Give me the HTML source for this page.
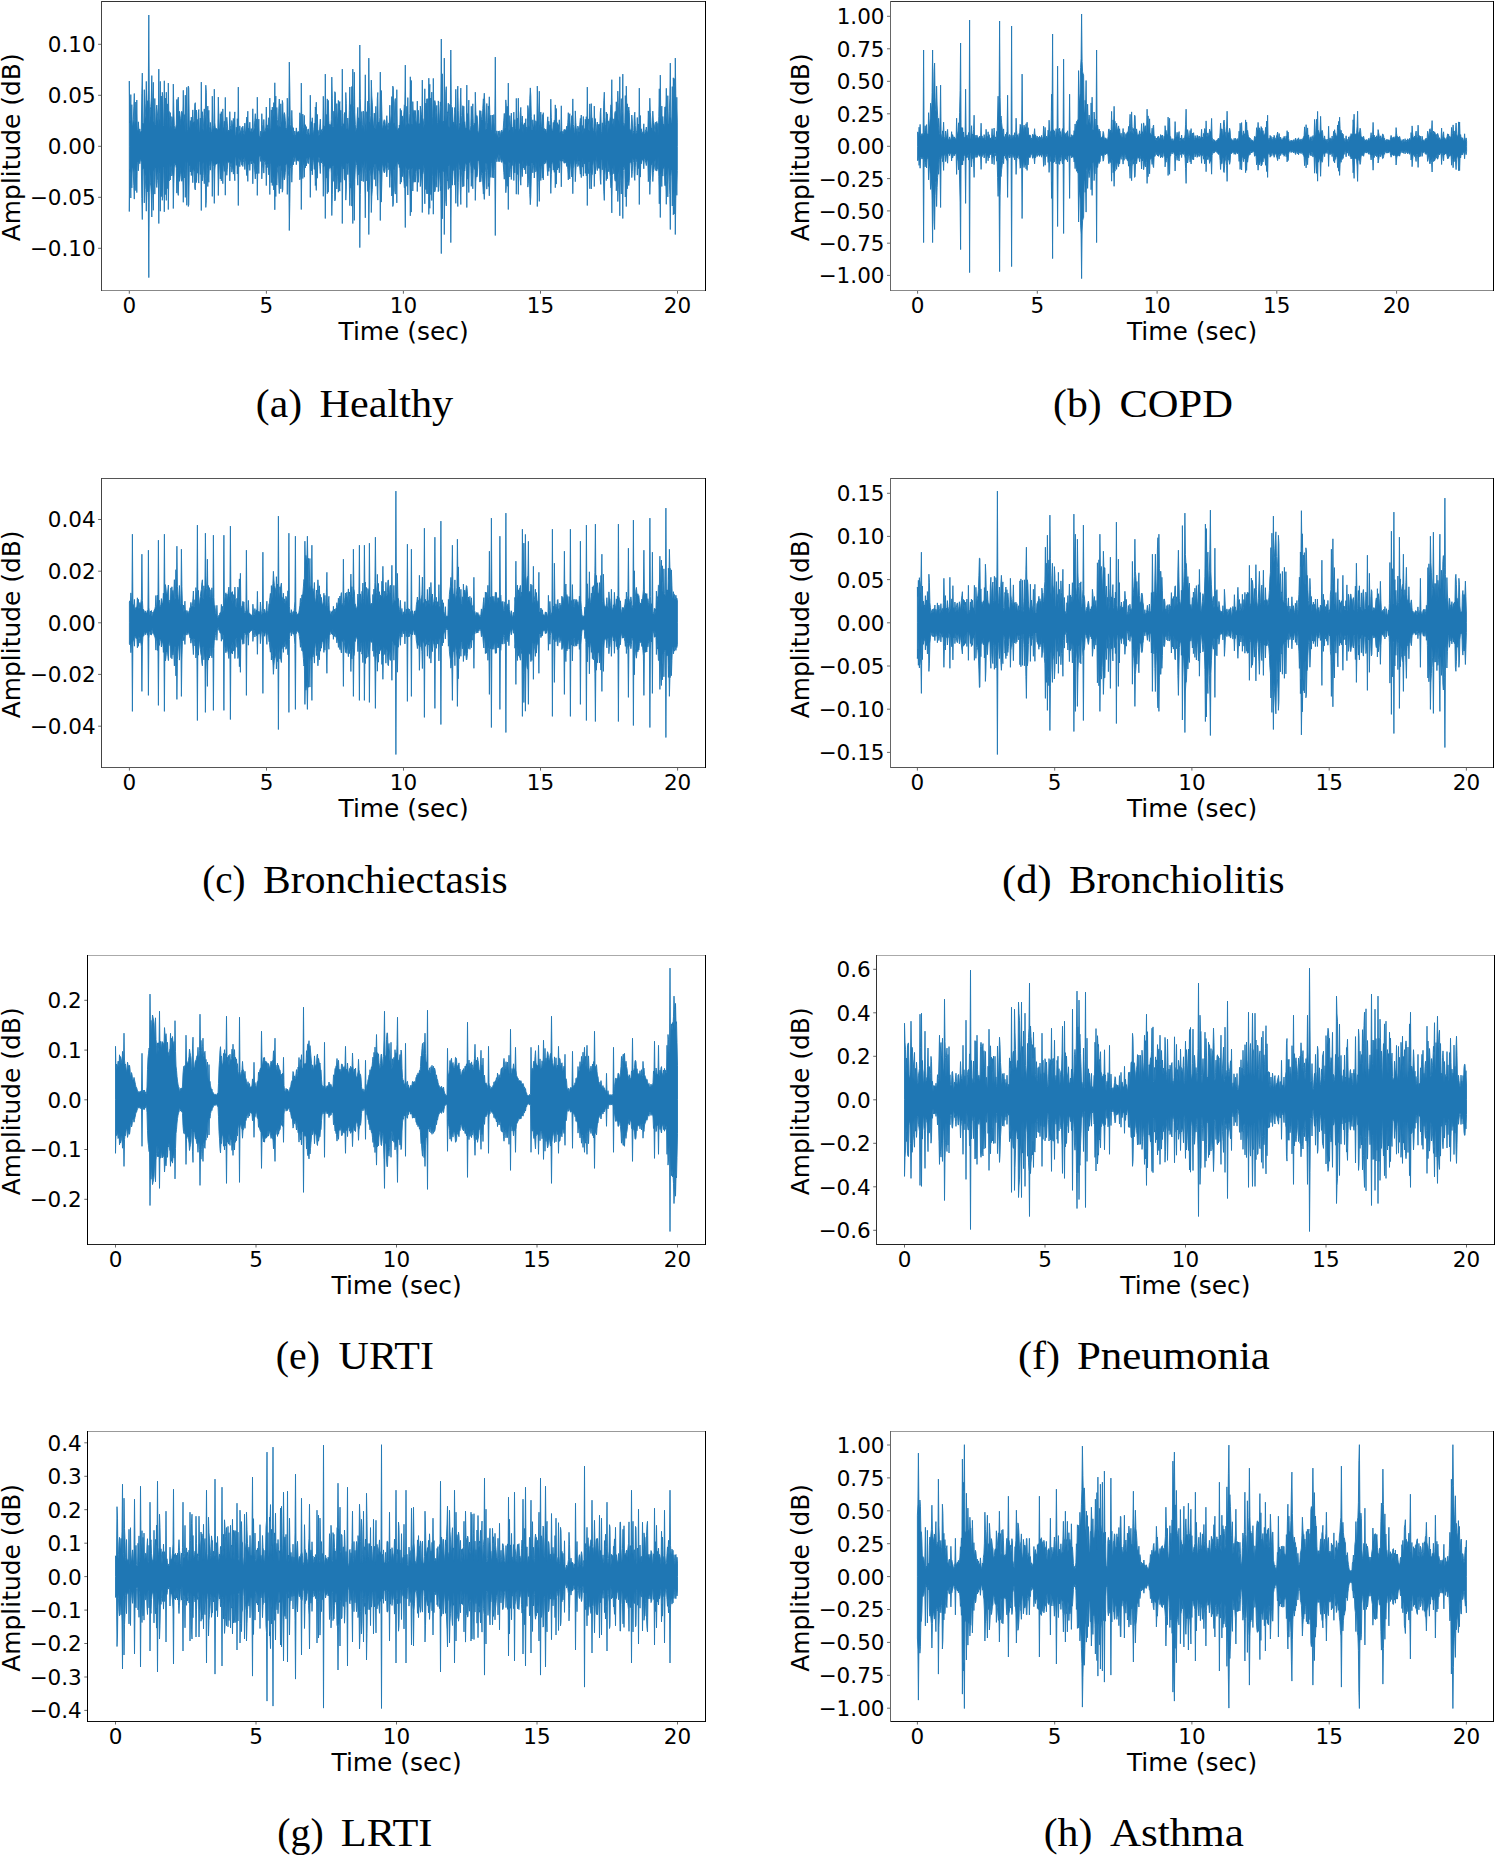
<!DOCTYPE html>
<html lang="en"><head><meta charset="utf-8"><title>Lung sound waveforms</title>
<style>html,body{margin:0;padding:0;background:#fff}svg{display:block}.tk text{font-family:"DejaVu Sans","Liberation Sans",sans-serif;font-size:21.5px;fill:#000}.lb{font-family:"DejaVu Sans","Liberation Sans",sans-serif;font-size:24.9px;fill:#000}.cp{font-family:"Liberation Serif","DejaVu Serif",serif;font-size:39.6px;fill:#000}</style></head><body>
<svg width="1496" height="1856" viewBox="0 0 1496 1856">
<rect width="1496" height="1856" fill="#fff"/>
<g>
<path d="M129.3,146.3 L129.3,81.1 129.8,123 130.3,119.3 130.8,94.6 131.3,126.4 131.8,104.7 132.3,125.7 132.8,124.6 133.3,119.6 133.8,106.9 134.3,93.5 134.8,124.7 135.3,120.7 135.8,102 136.3,128.5 136.8,100 137.3,129.8 137.8,130.3 138.3,121.8 138.8,129 139.3,133.7 139.8,128.9 140.3,133.1 140.8,132 141.3,130.5 141.8,93.9 142.3,73.1 142.8,122.7 143.3,124.1 143.8,123.2 144.3,89.7 144.8,120.4 145.3,115.7 145.8,103.1 146.3,81.4 146.8,108.3 147.3,100.7 147.8,112.7 148.3,90.4 148.8,15 149.3,99.8 149.8,124.1 150.3,109.8 150.8,106.6 151.3,97.7 151.8,75.6 152.3,116.9 152.8,96.9 153.3,82.3 153.8,120.7 154.3,125.3 154.8,98.5 155.3,124.2 155.8,124.7 156.3,109.4 156.8,105.1 157.3,112 157.8,118.2 158.3,125.8 158.8,69.1 159.3,121 159.8,119.1 160.3,81.4 160.8,126.1 161.3,96 161.8,111.3 162.3,92.3 162.8,96.3 163.3,125.4 163.8,125.3 164.3,80.8 164.8,121 165.3,98 165.8,126.1 166.3,92.2 166.8,116.9 167.3,103.9 167.8,127.5 168.3,83.1 168.8,112.4 169.3,111.6 169.8,129.1 170.3,112.6 170.8,125.4 171.3,127.6 171.8,116.6 172.3,118.5 172.8,125.4 173.3,84.1 173.8,109.3 174.3,125.6 174.8,129.2 175.3,128.6 175.8,127.1 176.3,124.2 176.8,99.5 177.3,124.9 177.8,100 178.3,97.2 178.8,116.9 179.3,111.2 179.8,114.6 180.3,118.3 180.8,125.6 181.3,112.2 181.8,111.3 182.3,112.7 182.8,115.8 183.3,90.3 183.8,122.4 184.3,114.6 184.8,127 185.3,95.2 185.8,131.9 186.3,115.3 186.8,87.3 187.3,131.6 187.8,129.6 188.3,86.1 188.8,88.1 189.3,126.2 189.8,127.8 190.3,120.6 190.8,128.7 191.3,117.1 191.8,125.2 192.3,120.2 192.8,109.9 193.3,121.9 193.8,123.1 194.3,120.6 194.8,104.1 195.3,102.7 195.8,127 196.3,110 196.8,124.6 197.3,119.4 197.8,130.5 198.3,112.6 198.8,109.5 199.3,130.2 199.8,131.4 200.3,118.1 200.8,128.7 201.3,82.1 201.8,130.2 202.3,111.7 202.8,128.6 203.3,130.7 203.8,117.2 204.3,108.9 204.8,122.6 205.3,114.4 205.8,85.2 206.3,92.2 206.8,130.9 207.3,119.2 207.8,106.1 208.3,121.6 208.8,110.3 209.3,126.3 209.8,131.9 210.3,122.4 210.8,127.1 211.3,131.7 211.8,131.4 212.3,96.2 212.8,130.5 213.3,127.5 213.8,126 214.3,89.2 214.8,122.6 215.3,128.2 215.8,128.1 216.3,128.6 216.8,128.7 217.3,129.4 217.8,129.6 218.3,97.1 218.8,116.2 219.3,128.3 219.8,129.1 220.3,113.7 220.8,125 221.3,111.7 221.8,117.5 222.3,132.3 222.8,108.9 223.3,126.8 223.8,127.7 224.3,121.2 224.8,132 225.3,97.4 225.8,132.8 226.3,126.6 226.8,117.3 227.3,123.1 227.8,131.8 228.3,130.1 228.8,131.6 229.3,129.8 229.8,111.7 230.3,125.3 230.8,128.8 231.3,129.8 231.8,120.5 232.3,123.3 232.8,130.4 233.3,118.5 233.8,119.8 234.3,120.1 234.8,111.9 235.3,135.3 235.8,134.7 236.3,127.2 236.8,133.1 237.3,118.7 237.8,131 238.3,87.1 238.8,135.1 239.3,131.8 239.8,125.9 240.3,131 240.8,131 241.3,135.7 241.8,127.4 242.3,132.2 242.8,126.1 243.3,130.1 243.8,133.2 244.3,135.3 244.8,123.1 245.3,133 245.8,130.9 246.3,123 246.8,117 247.3,126.1 247.8,111.2 248.3,130.8 248.8,128.1 249.3,130.4 249.8,122.2 250.3,130.9 250.8,131.8 251.3,128.6 251.8,131.3 252.3,131.9 252.8,108.8 253.3,129.3 253.8,130.8 254.3,127.7 254.8,120.4 255.3,113.7 255.8,126.2 256.3,118.9 256.8,134 257.3,97.2 257.8,125.3 258.3,134.8 258.8,119.1 259.3,137.5 259.8,136.2 260.3,136.4 260.8,131.1 261.3,135.9 261.8,113.7 262.3,124.5 262.8,133.1 263.3,131 263.8,119.5 264.3,130.1 264.8,132.1 265.3,130.9 265.8,127.1 266.3,107 266.8,124.3 267.3,125 267.8,128 268.3,128.7 268.8,117.7 269.3,132.6 269.8,98.1 270.3,132.5 270.8,127.9 271.3,109.9 271.8,129.2 272.3,107.1 272.8,118.8 273.3,112.9 273.8,102.6 274.3,119.2 274.8,82.8 275.3,111.4 275.8,96.1 276.3,127.8 276.8,107.5 277.3,119.6 277.8,124.4 278.3,128.1 278.8,108.8 279.3,99 279.8,126.1 280.3,127.2 280.8,103.8 281.3,124 281.8,121.1 282.3,100.4 282.8,103.1 283.3,127.8 283.8,115.1 284.3,112.6 284.8,114.6 285.3,120.3 285.8,127.7 286.3,128.3 286.8,129.4 287.3,98.2 287.8,128.8 288.3,121.9 288.8,115.9 289.3,62.1 289.8,88.9 290.3,124.6 290.8,125.8 291.3,130.2 291.8,110.4 292.3,125.1 292.8,133.7 293.3,127.7 293.8,134 294.3,137.8 294.8,131 295.3,136.5 295.8,134.5 296.3,127.9 296.8,132 297.3,132.2 297.8,132 298.3,131.4 298.8,131.8 299.3,133.5 299.8,112.8 300.3,115.2 300.8,134 301.3,83.1 301.8,124.8 302.3,134 302.8,114.1 303.3,127.3 303.8,131 304.3,115.4 304.8,131.8 305.3,124.7 305.8,131 306.3,126.6 306.8,133.8 307.3,134.8 307.8,129.5 308.3,128.9 308.8,132.5 309.3,135.1 309.8,134.6 310.3,95.2 310.8,129.1 311.3,121.7 311.8,133.9 312.3,117.8 312.8,132 313.3,135.2 313.8,129.7 314.3,123.2 314.8,130.9 315.3,107.1 315.8,110.2 316.3,102.2 316.8,131.4 317.3,114.4 317.8,130.1 318.3,130.3 318.8,135.8 319.3,134.4 319.8,126.1 320.3,119.1 320.8,131.9 321.3,129.6 321.8,132.7 322.3,130.2 322.8,128.1 323.3,96.3 323.8,124.8 324.3,127.2 324.8,125.9 325.3,74.1 325.8,123.9 326.3,114.5 326.8,120.7 327.3,98.9 327.8,123.7 328.3,100.4 328.8,120.3 329.3,128.2 329.8,124.2 330.3,124.8 330.8,126.7 331.3,119.5 331.8,77.1 332.3,98.2 332.8,126.4 333.3,126.8 333.8,111.2 334.3,119.6 334.8,91.7 335.3,92.9 335.8,112.4 336.3,126 336.8,103.6 337.3,116.1 337.8,124.5 338.3,100.4 338.8,103.4 339.3,106.9 339.8,101.5 340.3,120.8 340.8,110.3 341.3,125.6 341.8,128.1 342.3,69.1 342.8,127.1 343.3,123.7 343.8,128.4 344.3,114.3 344.8,112.4 345.3,130.6 345.8,92.5 346.3,103.5 346.8,129.3 347.3,128 347.8,118 348.3,129.2 348.8,129 349.3,110.3 349.8,87 350.3,109.3 350.8,104.5 351.3,122 351.8,86.5 352.3,111.4 352.8,69.1 353.3,105.7 353.8,124 354.3,72.2 354.8,112.9 355.3,124.6 355.8,132 356.3,128.5 356.8,127.4 357.3,115.9 357.8,107.4 358.3,125.4 358.8,117.8 359.3,120.4 359.8,45 360.3,98.2 360.8,118.1 361.3,129.6 361.8,111.6 362.3,124.4 362.8,129.2 363.3,111 363.8,125.5 364.3,132.2 364.8,111.6 365.3,74.8 365.8,122.1 366.3,131.4 366.8,111.7 367.3,118.4 367.8,101.1 368.3,127.4 368.8,58.1 369.3,102.3 369.8,121.3 370.3,124.5 370.8,115.7 371.3,80.1 371.8,96 372.3,102.9 372.8,116.8 373.3,125 373.8,125.8 374.3,113.1 374.8,128 375.3,128.7 375.8,106.4 376.3,129.6 376.8,123.2 377.3,98.5 377.8,92.5 378.3,127.1 378.8,122.1 379.3,126.5 379.8,117.6 380.3,72.1 380.8,127.7 381.3,90.5 381.8,109.8 382.3,129.3 382.8,127.5 383.3,124.6 383.8,120.9 384.3,119.7 384.8,120.7 385.3,126.1 385.8,127 386.3,122.1 386.8,115.7 387.3,123.8 387.8,130 388.3,128.9 388.8,122.9 389.3,125 389.8,105.2 390.3,125.9 390.8,121 391.3,113.9 391.8,96.6 392.3,118.9 392.8,86.1 393.3,88.1 393.8,123.6 394.3,122.3 394.8,101.4 395.3,98.5 395.8,124.9 396.3,130.2 396.8,89.7 397.3,130.1 397.8,129.9 398.3,128.3 398.8,131.3 399.3,125.1 399.8,127.8 400.3,108.5 400.8,125.3 401.3,110.4 401.8,122.3 402.3,115.9 402.8,119.7 403.3,125.4 403.8,114.1 404.3,104.9 404.8,105.4 405.3,65.1 405.8,126.7 406.3,122.9 406.8,106.3 407.3,122.3 407.8,97.6 408.3,122.3 408.8,123.7 409.3,124.6 409.8,113.4 410.3,76.8 410.8,103.5 411.3,80.5 411.8,123.7 412.3,124.3 412.8,101.6 413.3,116.5 413.8,110.3 414.3,110.6 414.8,117.9 415.3,110.5 415.8,119.2 416.3,126.1 416.8,120.9 417.3,101.1 417.8,120.5 418.3,110.3 418.8,123.7 419.3,123.5 419.8,125.7 420.3,106.1 420.8,109.6 421.3,114.6 421.8,117.8 422.3,80.1 422.8,117.8 423.3,120.2 423.8,128 424.3,121.9 424.8,88.8 425.3,123.1 425.8,103.1 426.3,113.1 426.8,98.8 427.3,123.4 427.8,98.7 428.3,123.5 428.8,78.2 429.3,95.6 429.8,84.3 430.3,115.9 430.8,98 431.3,106 431.8,92.1 432.3,116.2 432.8,125.3 433.3,78.4 433.8,111.8 434.3,101.2 434.8,100.6 435.3,102.3 435.8,118.7 436.3,112.4 436.8,105.4 437.3,122.6 437.8,125.2 438.3,100.9 438.8,107.8 439.3,120.5 439.8,119.3 440.3,101.9 440.8,106.2 441.3,39 441.8,123.6 442.3,73.8 442.8,121.9 443.3,121 443.8,123.9 444.3,58.1 444.8,114 445.3,122.4 445.8,91.3 446.3,86.7 446.8,121.3 447.3,111.8 447.8,113 448.3,103.2 448.8,126.1 449.3,128.1 449.8,104.4 450.3,115.8 450.8,50 451.3,104.4 451.8,126 452.3,107.4 452.8,116.1 453.3,126.8 453.8,122.1 454.3,125.4 454.8,107.5 455.3,112.1 455.8,89.3 456.3,129.5 456.8,123.9 457.3,97.5 457.8,86.1 458.3,110.3 458.8,130.4 459.3,125.6 459.8,122.4 460.3,103.2 460.8,88.1 461.3,115.5 461.8,124.9 462.3,119.9 462.8,105.7 463.3,124.2 463.8,106.3 464.3,122.6 464.8,121.8 465.3,128 465.8,129.3 466.3,127.1 466.8,85.1 467.3,125.5 467.8,113.5 468.3,119.8 468.8,100.1 469.3,130.2 469.8,129.9 470.3,131 470.8,125.5 471.3,106.3 471.8,119.9 472.3,118.8 472.8,103.8 473.3,124.5 473.8,127.5 474.3,123.2 474.8,127.5 475.3,92.2 475.8,110.8 476.3,118.8 476.8,115.5 477.3,117.1 477.8,131 478.3,131.9 478.8,132.7 479.3,123.2 479.8,110.5 480.3,126.3 480.8,110.9 481.3,116.9 481.8,120.3 482.3,119.4 482.8,108.6 483.3,98.9 483.8,100.3 484.3,93.2 484.8,104.4 485.3,120.1 485.8,129.6 486.3,128.7 486.8,103.5 487.3,122.3 487.8,128.5 488.3,106.1 488.8,109.5 489.3,96.8 489.8,112.8 490.3,130.2 490.8,115.2 491.3,129.3 491.8,131.4 492.3,115 492.8,120.8 493.3,132.9 493.8,114.6 494.3,135.3 494.8,122.1 495.3,57.1 495.8,132.4 496.3,136.4 496.8,130.8 497.3,135.6 497.8,135 498.3,131 498.8,138.1 499.3,136.6 499.8,130.8 500.3,137.5 500.8,132.9 501.3,131.8 501.8,130.1 502.3,131.7 502.8,133.8 503.3,127.9 503.8,120.2 504.3,113.4 504.8,128.9 505.3,127.6 505.8,99.9 506.3,105.9 506.8,118.9 507.3,106.3 507.8,126.5 508.3,83.1 508.8,131.4 509.3,129.1 509.8,115.6 510.3,123.1 510.8,130.5 511.3,113.1 511.8,123.1 512.3,133.4 512.8,127.1 513.3,133 513.8,112.1 514.3,127.5 514.8,119.7 515.3,130.3 515.8,128.7 516.3,98.4 516.8,121.2 517.3,118.1 517.8,129.7 518.3,98.2 518.8,130.5 519.3,129.1 519.8,128.3 520.3,112.7 520.8,107.4 521.3,121.7 521.8,128.8 522.3,116 522.8,132.4 523.3,124.6 523.8,132.7 524.3,122.9 524.8,123.9 525.3,127 525.8,118.7 526.3,132.6 526.8,127 527.3,128.5 527.8,105.5 528.3,109 528.8,126 529.3,126.3 529.8,98.2 530.3,87.9 530.8,96 531.3,116.5 531.8,129.5 532.3,129.2 532.8,119.8 533.3,127 533.8,126.8 534.3,114.6 534.8,122.6 535.3,131 535.8,120.8 536.3,121.9 536.8,130.1 537.3,86.1 537.8,110.9 538.3,131.9 538.8,110.1 539.3,91.2 539.8,126.3 540.3,120.6 540.8,112.1 541.3,126.2 541.8,126.6 542.3,114.5 542.8,125.1 543.3,112.7 543.8,129.2 544.3,128.5 544.8,130.5 545.3,130.1 545.8,129.2 546.3,132.1 546.8,132.5 547.3,122.5 547.8,116.8 548.3,129.3 548.8,121.2 549.3,128 549.8,124.8 550.3,124.7 550.8,99.2 551.3,117.8 551.8,127.9 552.3,130.7 552.8,130.7 553.3,122.4 553.8,130.9 554.3,120.3 554.8,126.6 555.3,104.9 555.8,128.9 556.3,108.5 556.8,129 557.3,122.7 557.8,128.6 558.3,124.5 558.8,129.3 559.3,119.8 559.8,132.7 560.3,131.5 560.8,131.3 561.3,105.8 561.8,130.8 562.3,131.3 562.8,133.2 563.3,133.9 563.8,130.3 564.3,129.3 564.8,132.8 565.3,129.7 565.8,132.6 566.3,128.9 566.8,126.1 567.3,131.5 567.8,122.8 568.3,112.7 568.8,127.3 569.3,118.1 569.8,113.7 570.3,132.1 570.8,128 571.3,123.1 571.8,115.6 572.3,129.7 572.8,98.9 573.3,124.6 573.8,126.6 574.3,131.9 574.8,132.7 575.3,110.9 575.8,122.4 576.3,129.3 576.8,128.9 577.3,136.4 577.8,126 578.3,127.2 578.8,131.6 579.3,131.6 579.8,124.4 580.3,118.5 580.8,120 581.3,115 581.8,131.1 582.3,125.5 582.8,134.4 583.3,116.5 583.8,132.7 584.3,128.6 584.8,132.5 585.3,119.2 585.8,131.8 586.3,116.7 586.8,131 587.3,87.1 587.8,123.6 588.3,118.9 588.8,130 589.3,130.5 589.8,103.9 590.3,128.9 590.8,119.1 591.3,103.6 591.8,118.4 592.3,118.1 592.8,126.8 593.3,130.8 593.8,132.6 594.3,106.1 594.8,125.8 595.3,118.6 595.8,130.4 596.3,136.9 596.8,125 597.3,122 597.8,131.5 598.3,124.3 598.8,131.8 599.3,124.2 599.8,126.4 600.3,112.4 600.8,108.2 601.3,131.8 601.8,133.9 602.3,122.8 602.8,133.5 603.3,119.7 603.8,100.8 604.3,92.2 604.8,117.2 605.3,124.4 605.8,127.7 606.3,112 606.8,122.7 607.3,113.8 607.8,132.9 608.3,124.2 608.8,120.8 609.3,128.2 609.8,120.2 610.3,116.1 610.8,104.9 611.3,105.4 611.8,79.7 612.3,117 612.8,122.9 613.3,127.6 613.8,118.8 614.3,127.6 614.8,113.3 615.3,111.4 615.8,121.4 616.3,101.8 616.8,110.2 617.3,118.8 617.8,91.1 618.3,102.7 618.8,118.2 619.3,125.9 619.8,76.8 620.3,127.3 620.8,112.1 621.3,98.6 621.8,117.1 622.3,111.7 622.8,74.1 623.3,122.1 623.8,125 624.3,127.1 624.8,122.3 625.3,95.6 625.8,114.7 626.3,86.1 626.8,107 627.3,103.8 627.8,110.2 628.3,111.6 628.8,107 629.3,112.4 629.8,129 630.3,130 630.8,132 631.3,127.3 631.8,115 632.3,121 632.8,134.4 633.3,132.2 633.8,130.4 634.3,116.1 634.8,112.2 635.3,125.4 635.8,134.2 636.3,132.7 636.8,130.2 637.3,117.5 637.8,133.4 638.3,124 638.8,133.7 639.3,88.1 639.8,131.1 640.3,115.5 640.8,132.3 641.3,128.8 641.8,132.9 642.3,132.4 642.8,133.4 643.3,130.3 643.8,123.8 644.3,133.4 644.8,134.2 645.3,131.7 645.8,129.7 646.3,127 646.8,130.5 647.3,132.3 647.8,132.1 648.3,110.9 648.8,117.6 649.3,132.3 649.8,98.2 650.3,112.2 650.8,119.2 651.3,129 651.8,127.9 652.3,130.9 652.8,111.1 653.3,120.1 653.8,122.5 654.3,124.8 654.8,130.9 655.3,133 655.8,122.1 656.3,129.1 656.8,121.5 657.3,135.7 657.8,123.3 658.3,135.5 658.8,116.3 659.3,88.8 659.8,123.5 660.3,75.1 660.8,118.1 661.3,120.6 661.8,106.1 662.3,128.6 662.8,116.5 663.3,125.9 663.8,124.1 664.3,126.6 664.8,107.1 665.3,106.8 665.8,110.7 666.3,88.3 666.8,116 667.3,124.4 667.8,95.7 668.3,123.9 668.8,123.6 669.3,111.3 669.8,98.1 670.3,63.1 670.8,116.3 671.3,122.3 671.8,122.6 672.3,86.6 672.8,120.2 673.3,77.8 673.8,85.4 674.3,78.6 674.8,110.3 675.3,58.1 675.8,93.8 676.3,118 676.8,97.3 677.3,122.1 L677.3,146.3 L677.3,170.5 676.8,195.3 676.3,174.6 675.8,198.8 675.3,234.5 674.8,182.3 674.3,214 673.8,207.2 673.3,214.8 672.8,172.4 672.3,206 671.8,170 671.3,170.3 670.8,176.3 670.3,229.5 669.8,194.5 669.3,181.3 668.8,169 668.3,168.7 667.8,196.9 667.3,168.2 666.8,176.6 666.3,204.3 665.8,181.9 665.3,185.8 664.8,185.5 664.3,166 663.8,168.5 663.3,166.7 662.8,176.1 662.3,164 661.8,186.5 661.3,172 660.8,174.5 660.3,217.5 659.8,169.1 659.3,203.8 658.8,176.3 658.3,157.1 657.8,169.3 657.3,156.9 656.8,171.1 656.3,163.5 655.8,170.5 655.3,159.6 654.8,161.7 654.3,167.8 653.8,170.1 653.3,172.5 652.8,181.5 652.3,161.7 651.8,164.7 651.3,163.6 650.8,173.4 650.3,180.4 649.8,194.4 649.3,160.3 648.8,175 648.3,181.7 647.8,160.5 647.3,160.3 646.8,162.1 646.3,165.6 645.8,162.9 645.3,160.9 644.8,158.4 644.3,159.2 643.8,168.8 643.3,162.3 642.8,159.2 642.3,160.2 641.8,159.7 641.3,163.8 640.8,160.3 640.3,177.1 639.8,161.5 639.3,204.5 638.8,158.9 638.3,168.6 637.8,159.2 637.3,175.1 636.8,162.4 636.3,159.9 635.8,158.4 635.3,167.2 634.8,180.4 634.3,176.5 633.8,162.2 633.3,160.4 632.8,158.2 632.3,171.6 631.8,177.6 631.3,165.3 630.8,160.6 630.3,162.6 629.8,163.6 629.3,180.2 628.8,185.6 628.3,181 627.8,182.4 627.3,188.8 626.8,185.6 626.3,206.5 625.8,177.9 625.3,197 624.8,170.3 624.3,165.5 623.8,167.6 623.3,170.5 622.8,218.5 622.3,180.9 621.8,175.5 621.3,194 620.8,180.5 620.3,165.3 619.8,215.8 619.3,166.7 618.8,174.4 618.3,189.9 617.8,201.5 617.3,173.8 616.8,182.4 616.3,190.8 615.8,171.2 615.3,181.2 614.8,179.3 614.3,165 613.8,173.8 613.3,165 612.8,169.7 612.3,175.6 611.8,212.9 611.3,187.2 610.8,187.7 610.3,176.5 609.8,172.4 609.3,164.4 608.8,171.8 608.3,168.4 607.8,159.7 607.3,178.8 606.8,169.9 606.3,180.6 605.8,164.9 605.3,168.2 604.8,175.4 604.3,200.4 603.8,191.8 603.3,172.9 602.8,159.1 602.3,169.8 601.8,158.7 601.3,160.8 600.8,184.4 600.3,180.2 599.8,166.2 599.3,168.4 598.8,160.8 598.3,168.3 597.8,161.1 597.3,170.6 596.8,167.6 596.3,155.7 595.8,162.2 595.3,174 594.8,166.8 594.3,186.5 593.8,160 593.3,161.8 592.8,165.8 592.3,174.5 591.8,174.2 591.3,189 590.8,173.5 590.3,163.7 589.8,188.7 589.3,162.1 588.8,162.6 588.3,173.7 587.8,169 587.3,205.5 586.8,161.6 586.3,175.9 585.8,160.8 585.3,173.4 584.8,160.1 584.3,164 583.8,159.9 583.3,176.1 582.8,158.2 582.3,167.1 581.8,161.5 581.3,177.6 580.8,172.6 580.3,174.1 579.8,168.2 579.3,161 578.8,161 578.3,165.4 577.8,166.6 577.3,156.2 576.8,163.7 576.3,163.3 575.8,170.2 575.3,181.7 574.8,159.9 574.3,160.7 573.8,166 573.3,168 572.8,193.7 572.3,162.9 571.8,177 571.3,169.5 570.8,164.6 570.3,160.5 569.8,178.9 569.3,174.5 568.8,165.3 568.3,179.9 567.8,169.8 567.3,161.1 566.8,166.5 566.3,163.7 565.8,160 565.3,162.9 564.8,159.8 564.3,163.3 563.8,162.3 563.3,158.7 562.8,159.4 562.3,161.3 561.8,161.8 561.3,186.8 560.8,161.3 560.3,161.1 559.8,159.9 559.3,172.8 558.8,163.3 558.3,168.1 557.8,164 557.3,169.9 556.8,163.6 556.3,184.1 555.8,163.7 555.3,187.7 554.8,166 554.3,172.3 553.8,161.7 553.3,170.2 552.8,161.9 552.3,161.9 551.8,164.7 551.3,174.8 550.8,193.4 550.3,167.9 549.8,167.8 549.3,164.6 548.8,171.4 548.3,163.3 547.8,175.8 547.3,170.1 546.8,160.1 546.3,160.5 545.8,163.4 545.3,162.5 544.8,162.1 544.3,164.1 543.8,163.4 543.3,179.9 542.8,167.5 542.3,178.1 541.8,166 541.3,166.4 540.8,180.5 540.3,172 539.8,166.3 539.3,201.4 538.8,182.5 538.3,160.7 537.8,181.7 537.3,206.5 536.8,162.5 536.3,170.7 535.8,171.8 535.3,161.6 534.8,170 534.3,178 533.8,165.8 533.3,165.6 532.8,172.8 532.3,163.4 531.8,163.1 531.3,176.1 530.8,196.6 530.3,204.7 529.8,194.4 529.3,166.3 528.8,166.6 528.3,183.6 527.8,187.1 527.3,164.1 526.8,165.6 526.3,160 525.8,173.9 525.3,165.6 524.8,168.7 524.3,169.7 523.8,159.9 523.3,168 522.8,160.2 522.3,176.6 521.8,163.8 521.3,170.9 520.8,185.2 520.3,179.9 519.8,164.3 519.3,163.5 518.8,162.1 518.3,194.4 517.8,162.9 517.3,174.5 516.8,171.4 516.3,194.2 515.8,163.9 515.3,162.3 514.8,172.9 514.3,165.1 513.8,180.5 513.3,159.6 512.8,165.5 512.3,159.2 511.8,169.5 511.3,179.5 510.8,162.1 510.3,169.5 509.8,177 509.3,163.5 508.8,161.2 508.3,209.5 507.8,166.1 507.3,186.3 506.8,173.7 506.3,186.7 505.8,192.7 505.3,165 504.8,163.7 504.3,179.2 503.8,172.4 503.3,164.7 502.8,158.8 502.3,160.9 501.8,162.5 501.3,160.8 500.8,159.7 500.3,155.1 499.8,161.8 499.3,156 498.8,154.5 498.3,161.6 497.8,157.6 497.3,157 496.8,161.8 496.3,156.2 495.8,160.2 495.3,235.5 494.8,170.5 494.3,157.3 493.8,178 493.3,159.7 492.8,171.8 492.3,177.6 491.8,161.2 491.3,163.3 490.8,177.4 490.3,162.4 489.8,179.8 489.3,195.8 488.8,183.1 488.3,186.5 487.8,164.1 487.3,170.3 486.8,189.1 486.3,163.9 485.8,163 485.3,172.5 484.8,188.2 484.3,199.4 483.8,192.3 483.3,193.7 482.8,184 482.3,173.2 481.8,172.3 481.3,175.7 480.8,181.7 480.3,166.3 479.8,182.1 479.3,169.4 478.8,159.9 478.3,160.7 477.8,161.6 477.3,175.5 476.8,177.1 476.3,173.8 475.8,181.8 475.3,200.4 474.8,165.1 474.3,169.4 473.8,165.1 473.3,168.1 472.8,188.8 472.3,173.8 471.8,172.7 471.3,186.3 470.8,167.1 470.3,161.6 469.8,162.7 469.3,162.4 468.8,192.5 468.3,172.8 467.8,179.1 467.3,167.1 466.8,207.5 466.3,165.5 465.8,163.3 465.3,164.6 464.8,170.8 464.3,170 463.8,186.3 463.3,168.4 462.8,186.9 462.3,172.7 461.8,167.7 461.3,177.1 460.8,204.5 460.3,189.4 459.8,170.2 459.3,167 458.8,162.2 458.3,182.3 457.8,206.5 457.3,195.1 456.8,168.7 456.3,163.1 455.8,203.3 455.3,180.5 454.8,185.1 454.3,167.2 453.8,170.5 453.3,165.8 452.8,176.5 452.3,185.2 451.8,166.6 451.3,188.2 450.8,242.6 450.3,176.8 449.8,188.2 449.3,164.5 448.8,166.5 448.3,189.4 447.8,179.6 447.3,180.8 446.8,171.3 446.3,205.9 445.8,201.3 445.3,170.2 444.8,178.6 444.3,234.5 443.8,168.7 443.3,171.6 442.8,170.7 442.3,218.8 441.8,169 441.3,253.6 440.8,186.4 440.3,190.7 439.8,173.3 439.3,172.1 438.8,184.8 438.3,191.7 437.8,167.4 437.3,170 436.8,187.2 436.3,180.2 435.8,173.9 435.3,190.3 434.8,192 434.3,191.4 433.8,180.8 433.3,214.2 432.8,167.3 432.3,176.4 431.8,200.5 431.3,186.6 430.8,194.6 430.3,176.7 429.8,208.3 429.3,197 428.8,214.4 428.3,169.1 427.8,193.9 427.3,169.2 426.8,193.8 426.3,179.5 425.8,189.5 425.3,169.5 424.8,203.8 424.3,170.7 423.8,164.6 423.3,172.4 422.8,174.8 422.3,212.5 421.8,174.8 421.3,178 420.8,183 420.3,186.5 419.8,166.9 419.3,169.1 418.8,168.9 418.3,182.3 417.8,172.1 417.3,191.5 416.8,171.7 416.3,166.5 415.8,173.4 415.3,182.1 414.8,174.7 414.3,182 413.8,182.3 413.3,176.1 412.8,191 412.3,168.3 411.8,168.9 411.3,212.1 410.8,189.1 410.3,215.8 409.8,179.2 409.3,168 408.8,168.9 408.3,170.3 407.8,195 407.3,170.3 406.8,186.3 406.3,169.7 405.8,165.9 405.3,227.5 404.8,187.2 404.3,187.7 403.8,178.5 403.3,167.2 402.8,172.9 402.3,176.7 401.8,170.3 401.3,182.2 400.8,167.3 400.3,184.1 399.8,164.8 399.3,167.5 398.8,161.3 398.3,164.3 397.8,162.7 397.3,162.5 396.8,202.9 396.3,162.4 395.8,167.7 395.3,194.1 394.8,191.2 394.3,170.3 393.8,169 393.3,204.5 392.8,206.5 392.3,173.7 391.8,196 391.3,178.7 390.8,171.6 390.3,166.7 389.8,187.4 389.3,167.6 388.8,169.7 388.3,163.7 387.8,162.6 387.3,168.8 386.8,176.9 386.3,170.5 385.8,165.6 385.3,166.5 384.8,171.9 384.3,172.9 383.8,171.7 383.3,168 382.8,165.1 382.3,163.3 381.8,182.8 381.3,202.1 380.8,164.9 380.3,220.5 379.8,175 379.3,166.1 378.8,170.5 378.3,165.5 377.8,200.1 377.3,194.1 376.8,169.4 376.3,163 375.8,186.2 375.3,163.9 374.8,164.6 374.3,179.5 373.8,166.8 373.3,167.6 372.8,175.8 372.3,189.7 371.8,196.6 371.3,212.5 370.8,176.9 370.3,168.1 369.8,171.3 369.3,190.3 368.8,234.5 368.3,165.2 367.8,191.5 367.3,174.2 366.8,180.9 366.3,161.2 365.8,170.5 365.3,217.8 364.8,181 364.3,160.4 363.8,167.1 363.3,181.6 362.8,163.4 362.3,168.2 361.8,181 361.3,163 360.8,174.5 360.3,194.4 359.8,247.6 359.3,172.2 358.8,174.8 358.3,167.2 357.8,185.2 357.3,176.7 356.8,165.2 356.3,164.1 355.8,160.6 355.3,168 354.8,179.7 354.3,220.4 353.8,168.6 353.3,186.9 352.8,223.5 352.3,181.2 351.8,206.1 351.3,170.6 350.8,188.1 350.3,183.3 349.8,205.6 349.3,182.3 348.8,163.6 348.3,163.4 347.8,174.6 347.3,164.6 346.8,163.3 346.3,189.1 345.8,200.1 345.3,162 344.8,180.2 344.3,178.3 343.8,164.2 343.3,168.9 342.8,165.5 342.3,223.5 341.8,164.5 341.3,167 340.8,182.3 340.3,171.8 339.8,191.1 339.3,185.7 338.8,189.2 338.3,192.2 337.8,168.1 337.3,176.5 336.8,189 336.3,166.6 335.8,180.2 335.3,199.7 334.8,200.9 334.3,173 333.8,181.4 333.3,165.8 332.8,166.2 332.3,194.4 331.8,215.5 331.3,173.1 330.8,165.9 330.3,167.8 329.8,168.4 329.3,164.4 328.8,172.3 328.3,192.2 327.8,168.9 327.3,193.7 326.8,171.9 326.3,178.1 325.8,168.7 325.3,218.5 324.8,166.7 324.3,165.4 323.8,167.8 323.3,196.3 322.8,164.5 322.3,162.4 321.8,159.9 321.3,163 320.8,160.7 320.3,173.5 319.8,166.5 319.3,158.2 318.8,156.8 318.3,162.3 317.8,162.5 317.3,178.2 316.8,161.2 316.3,190.4 315.8,182.4 315.3,185.5 314.8,161.7 314.3,169.4 313.8,162.9 313.3,157.4 312.8,160.6 312.3,174.8 311.8,158.7 311.3,170.9 310.8,163.5 310.3,197.4 309.8,158 309.3,157.5 308.8,160.1 308.3,163.7 307.8,163.1 307.3,157.8 306.8,158.8 306.3,166 305.8,161.6 305.3,167.9 304.8,160.8 304.3,177.2 303.8,161.6 303.3,165.3 302.8,178.5 302.3,158.6 301.8,167.8 301.3,209.5 300.8,158.6 300.3,177.4 299.8,179.8 299.3,159.1 298.8,160.8 298.3,161.2 297.8,160.6 297.3,160.4 296.8,160.6 296.3,164.7 295.8,158.1 295.3,156.1 294.8,161.6 294.3,154.8 293.8,158.6 293.3,164.9 292.8,158.9 292.3,167.5 291.8,182.2 291.3,162.4 290.8,166.8 290.3,168 289.8,203.7 289.3,230.5 288.8,176.7 288.3,170.7 287.8,163.8 287.3,194.4 286.8,163.2 286.3,164.3 285.8,164.9 285.3,172.3 284.8,178 284.3,180 283.8,177.5 283.3,164.8 282.8,189.5 282.3,192.2 281.8,171.5 281.3,168.6 280.8,188.8 280.3,165.4 279.8,166.5 279.3,193.6 278.8,183.8 278.3,164.5 277.8,168.2 277.3,173 276.8,185.1 276.3,164.8 275.8,196.5 275.3,181.2 274.8,209.8 274.3,173.4 273.8,190 273.3,179.7 272.8,173.8 272.3,185.5 271.8,163.4 271.3,182.7 270.8,164.7 270.3,160.1 269.8,194.5 269.3,160 268.8,174.9 268.3,163.9 267.8,164.6 267.3,167.6 266.8,168.3 266.3,185.6 265.8,165.5 265.3,161.7 264.8,160.5 264.3,162.5 263.8,173.1 263.3,161.6 262.8,159.5 262.3,168.1 261.8,178.9 261.3,156.7 260.8,161.5 260.3,156.2 259.8,156.4 259.3,155.1 258.8,173.5 258.3,157.8 257.8,167.3 257.3,195.4 256.8,158.6 256.3,173.7 255.8,166.4 255.3,178.9 254.8,172.2 254.3,164.9 253.8,161.8 253.3,163.3 252.8,183.8 252.3,160.7 251.8,161.3 251.3,164 250.8,160.8 250.3,161.7 249.8,170.4 249.3,162.2 248.8,164.5 248.3,161.8 247.8,181.4 247.3,166.5 246.8,175.6 246.3,169.6 245.8,161.7 245.3,159.6 244.8,169.5 244.3,157.3 243.8,159.4 243.3,162.5 242.8,166.5 242.3,160.4 241.8,165.2 241.3,156.9 240.8,161.6 240.3,161.6 239.8,166.7 239.3,160.8 238.8,157.5 238.3,205.5 237.8,161.6 237.3,173.9 236.8,159.5 236.3,165.4 235.8,157.9 235.3,157.3 234.8,180.7 234.3,172.5 233.8,172.8 233.3,174.1 232.8,162.2 232.3,169.3 231.8,172.1 231.3,162.8 230.8,163.8 230.3,167.3 229.8,180.9 229.3,162.8 228.8,161 228.3,162.5 227.8,160.8 227.3,169.5 226.8,175.3 226.3,166 225.8,159.8 225.3,195.2 224.8,160.6 224.3,171.4 223.8,164.9 223.3,165.8 222.8,183.7 222.3,160.3 221.8,175.1 221.3,180.9 220.8,167.6 220.3,178.9 219.8,163.5 219.3,164.3 218.8,176.4 218.3,195.5 217.8,163 217.3,163.2 216.8,163.9 216.3,164 215.8,164.5 215.3,164.4 214.8,170 214.3,203.4 213.8,166.6 213.3,165.1 212.8,162.1 212.3,196.4 211.8,161.2 211.3,160.9 210.8,165.5 210.3,170.2 209.8,160.7 209.3,166.3 208.8,182.3 208.3,171 207.8,186.5 207.3,173.4 206.8,161.7 206.3,200.4 205.8,207.4 205.3,178.2 204.8,170 204.3,183.7 203.8,175.4 203.3,161.9 202.8,164 202.3,180.9 201.8,162.4 201.3,210.5 200.8,163.9 200.3,174.5 199.8,161.2 199.3,162.4 198.8,183.1 198.3,180 197.8,162.1 197.3,173.2 196.8,168 196.3,182.6 195.8,165.6 195.3,189.9 194.8,188.5 194.3,172 193.8,169.5 193.3,170.7 192.8,182.7 192.3,172.4 191.8,167.4 191.3,175.5 190.8,163.9 190.3,172 189.8,164.8 189.3,166.4 188.8,204.5 188.3,206.5 187.8,163 187.3,161 186.8,205.3 186.3,177.3 185.8,160.7 185.3,197.4 184.8,165.6 184.3,178 183.8,170.2 183.3,202.3 182.8,176.8 182.3,179.9 181.8,181.3 181.3,180.4 180.8,167 180.3,174.3 179.8,178 179.3,181.4 178.8,175.7 178.3,195.4 177.8,192.6 177.3,167.7 176.8,193.1 176.3,168.4 175.8,165.5 175.3,164 174.8,163.4 174.3,167 173.8,183.3 173.3,208.5 172.8,167.2 172.3,174.1 171.8,176 171.3,165 170.8,167.2 170.3,180 169.8,163.5 169.3,181 168.8,180.2 168.3,209.5 167.8,165.1 167.3,188.7 166.8,175.7 166.3,200.4 165.8,166.5 165.3,194.6 164.8,171.6 164.3,211.8 163.8,167.3 163.3,167.2 162.8,196.3 162.3,200.3 161.8,181.3 161.3,196.6 160.8,166.5 160.3,211.2 159.8,173.5 159.3,171.6 158.8,223.5 158.3,166.8 157.8,174.4 157.3,180.6 156.8,187.5 156.3,183.2 155.8,167.9 155.3,168.4 154.8,194.1 154.3,167.3 153.8,171.9 153.3,210.3 152.8,195.7 152.3,175.7 151.8,217 151.3,194.9 150.8,186 150.3,182.8 149.8,168.5 149.3,192.8 148.8,277.6 148.3,202.2 147.8,179.9 147.3,191.9 146.8,184.3 146.3,211.2 145.8,189.5 145.3,176.9 144.8,172.2 144.3,202.9 143.8,169.4 143.3,168.5 142.8,169.9 142.3,219.5 141.8,198.7 141.3,162.1 140.8,160.6 140.3,159.5 139.8,163.7 139.3,158.9 138.8,163.6 138.3,170.8 137.8,162.3 137.3,162.8 136.8,192.6 136.3,164.1 135.8,190.6 135.3,171.9 134.8,167.9 134.3,199.1 133.8,185.7 133.3,173 132.8,168 132.3,166.9 131.8,187.9 131.3,166.2 130.8,198 130.3,173.3 129.8,169.6 129.3,211.5 Z" fill="#1f77b4" stroke="#1f77b4" stroke-width="0.9" stroke-linejoin="bevel"/>
<path d="M101.5,44.3h-3.4M101.5,95.3h-3.4M101.5,146.3h-3.4M101.5,197.3h-3.4M101.5,248.3h-3.4M129.3,290.3v3.4M266.4,290.3v3.4M403.4,290.3v3.4M540.5,290.3v3.4M677.5,290.3v3.4" stroke="#444" stroke-width="0.8" fill="none"/>
<g shape-rendering="crispEdges"><rect x="101" y="1" width="605" height="1" fill="#333"/><rect x="101" y="290" width="605" height="1" fill="#888"/><rect x="101" y="1" width="1" height="290" fill="#444"/><rect x="705" y="1" width="1" height="290" fill="#000"/></g>
<g class="tk" text-anchor="end">
<text x="95.6" y="52.2">0.10</text>
<text x="95.6" y="103.2">0.05</text>
<text x="95.6" y="154.2">0.00</text>
<text x="95.6" y="205.2">−0.05</text>
<text x="95.6" y="256.2">−0.10</text>
</g>
<g class="tk" text-anchor="middle">
<text x="129.3" y="313.1">0</text>
<text x="266.4" y="313.1">5</text>
<text x="403.4" y="313.1">10</text>
<text x="540.5" y="313.1">15</text>
<text x="677.5" y="313.1">20</text>
</g>
<text class="lb" text-anchor="middle" x="403.6" y="340.1">Time (sec)</text>
<text class="lb" text-anchor="middle" transform="translate(20.3,147.3) rotate(-90)">Amplitude (dB)</text>
</g>
<g>
<path d="M917.6,146.3 L917.6,131.9 918.1,132.5 918.6,138.2 919.1,127.2 919.6,137 920.1,124.4 920.6,134.9 921.1,135.8 921.6,134.2 922.1,133.5 922.6,134.9 923.1,135.2 923.6,50 924.1,132.8 924.6,132.5 925.1,125.7 925.6,130.1 926.1,131.3 926.6,124.6 927.1,135.5 927.6,133.9 928.1,134.2 928.6,112.7 929.1,126 929.6,126.8 930.1,118.7 930.6,103.2 931.1,107.1 931.6,114.8 932.1,92.5 932.6,50 933.1,99.8 933.6,99.7 934.1,71.3 934.6,63.1 935.1,97.1 935.6,109.8 936.1,111.8 936.6,86.1 937.1,105 937.6,115.1 938.1,127.1 938.6,118.3 939.1,135.3 939.6,133.4 940.1,117.9 940.6,85.1 941.1,133.2 941.6,137.9 942.1,137.1 942.6,130.9 943.1,132.6 943.6,122.2 944.1,136.3 944.6,138.6 945.1,138.3 945.6,131 946.1,136.2 946.6,139 947.1,132.5 947.6,129.4 948.1,138.3 948.6,139.6 949.1,139.6 949.6,136.9 950.1,138.9 950.6,139.2 951.1,139.4 951.6,131.7 952.1,139.1 952.6,134.6 953.1,136.3 953.6,138 954.1,138.6 954.6,136.9 955.1,139.9 955.6,138.5 956.1,140.1 956.6,118.2 957.1,133.5 957.6,133.9 958.1,131.1 958.6,122.8 959.1,133.9 959.6,112.6 960.1,90.5 960.6,43 961.1,135 961.6,127.5 962.1,134.2 962.6,127.7 963.1,135.8 963.6,132 964.1,138.1 964.6,137.2 965.1,136.4 965.6,89.2 966.1,134.5 966.6,135.4 967.1,134.9 967.6,136.6 968.1,138.4 968.6,132.5 969.1,136.7 969.6,20 970.1,139.1 970.6,139.1 971.1,132.6 971.6,125.7 972.1,138.7 972.6,134 973.1,134.6 973.6,129.5 974.1,115.2 974.6,138.9 975.1,135.1 975.6,139 976.1,137.7 976.6,135.4 977.1,135.2 977.6,136.7 978.1,137.9 978.6,139.1 979.1,137.1 979.6,136.2 980.1,138.2 980.6,136 981.1,123.2 981.6,138.7 982.1,135.9 982.6,139.1 983.1,138.2 983.6,139.1 984.1,134.6 984.6,136.5 985.1,139.5 985.6,139.3 986.1,129.3 986.6,137 987.1,136.2 987.6,138.9 988.1,131.8 988.6,139.5 989.1,134.6 989.6,138.8 990.1,138.1 990.6,138 991.1,139.5 991.6,136.8 992.1,128.7 992.6,139.1 993.1,135.4 993.6,137.7 994.1,128 994.6,139.1 995.1,139.9 995.6,136.9 996.1,138.4 996.6,131.4 997.1,134.7 997.6,115 998.1,96.2 998.6,119 999.1,101.3 999.6,21 1000.1,97.4 1000.6,117.6 1001.1,116.1 1001.6,122.8 1002.1,126.9 1002.6,132 1003.1,133.3 1003.6,128.9 1004.1,138.5 1004.6,136.7 1005.1,138.5 1005.6,134.2 1006.1,136.7 1006.6,132.4 1007.1,132.4 1007.6,95.2 1008.1,134.4 1008.6,138.9 1009.1,137.1 1009.6,134.6 1010.1,135.1 1010.6,137.9 1011.1,138.5 1011.6,26 1012.1,137.9 1012.6,137.3 1013.1,135.1 1013.6,138.5 1014.1,136.4 1014.6,132.7 1015.1,137.8 1015.6,136.6 1016.1,118.2 1016.6,130.6 1017.1,137.6 1017.6,134.7 1018.1,136.9 1018.6,137.5 1019.1,133.5 1019.6,135.8 1020.1,124.4 1020.6,124.9 1021.1,128.2 1021.6,134.1 1022.1,74.1 1022.6,124.3 1023.1,127.7 1023.6,133.2 1024.1,125.1 1024.6,132.5 1025.1,127.4 1025.6,128.9 1026.1,123.7 1026.6,139.5 1027.1,122.2 1027.6,139.2 1028.1,127.7 1028.6,134.8 1029.1,135 1029.6,135.3 1030.1,134.9 1030.6,135.9 1031.1,139.9 1031.6,138.1 1032.1,139.1 1032.6,134.3 1033.1,136.2 1033.6,135.3 1034.1,134.1 1034.6,128.7 1035.1,136 1035.6,134.8 1036.1,137.2 1036.6,139.1 1037.1,136 1037.6,137.7 1038.1,140.5 1038.6,137.3 1039.1,139.8 1039.6,136.1 1040.1,140.2 1040.6,137.4 1041.1,139.8 1041.6,135.4 1042.1,138.9 1042.6,138.2 1043.1,136.6 1043.6,126.2 1044.1,135.3 1044.6,136.1 1045.1,127.4 1045.6,136.8 1046.1,138.5 1046.6,136.1 1047.1,138 1047.6,138 1048.1,130.2 1048.6,134.7 1049.1,120.2 1049.6,131.2 1050.1,136.7 1050.6,131.3 1051.1,130.2 1051.6,94.2 1052.1,110.7 1052.6,34 1053.1,131.2 1053.6,129.8 1054.1,133.6 1054.6,130.8 1055.1,136.8 1055.6,136.9 1056.1,128.7 1056.6,135.1 1057.1,131.3 1057.6,66.1 1058.1,129.5 1058.6,129.1 1059.1,135.9 1059.6,128.2 1060.1,133.3 1060.6,131.6 1061.1,137.1 1061.6,136.7 1062.1,130.6 1062.6,128.6 1063.1,134.2 1063.6,59.1 1064.1,132.1 1064.6,132.4 1065.1,136.5 1065.6,133.5 1066.1,137.2 1066.6,132.6 1067.1,133.1 1067.6,130.8 1068.1,136 1068.6,136.7 1069.1,137.4 1069.6,94.2 1070.1,136.5 1070.6,137.3 1071.1,136.9 1071.6,134.7 1072.1,135.6 1072.6,136.7 1073.1,135.3 1073.6,136.4 1074.1,130.7 1074.6,133.2 1075.1,124 1075.6,133.4 1076.1,124.4 1076.6,121.4 1077.1,121.9 1077.6,119.8 1078.1,119.6 1078.6,70.6 1079.1,100.1 1079.6,100.2 1080.1,93.6 1080.6,67.5 1081.1,58.4 1081.6,14 1082.1,61.6 1082.6,71.9 1083.1,73.8 1083.6,75.2 1084.1,111 1084.6,114.2 1085.1,100.3 1085.6,105.7 1086.1,80.5 1086.6,122 1087.1,125.4 1087.6,104.2 1088.1,118.4 1088.6,123.3 1089.1,115 1089.6,121 1090.1,123.5 1090.6,126.8 1091.1,102.9 1091.6,126.6 1092.1,97.2 1092.6,128.7 1093.1,129.9 1093.6,129.5 1094.1,112 1094.6,120.1 1095.1,119 1095.6,130.6 1096.1,125 1096.6,50 1097.1,128.7 1097.6,125.1 1098.1,129.4 1098.6,132.4 1099.1,129 1099.6,131.7 1100.1,131.1 1100.6,137.8 1101.1,137.6 1101.6,137.4 1102.1,136.6 1102.6,137 1103.1,131.4 1103.6,132.7 1104.1,136.8 1104.6,139.7 1105.1,139.1 1105.6,137.8 1106.1,139.6 1106.6,138.7 1107.1,139.4 1107.6,139.7 1108.1,136.6 1108.6,129.3 1109.1,128.9 1109.6,134.4 1110.1,130.8 1110.6,130.1 1111.1,133.3 1111.6,111.4 1112.1,131.8 1112.6,132.2 1113.1,119.9 1113.6,124.7 1114.1,106.3 1114.6,122.5 1115.1,121.5 1115.6,131.7 1116.1,129.5 1116.6,123.2 1117.1,128.3 1117.6,131.5 1118.1,127.8 1118.6,125.9 1119.1,131.4 1119.6,128.8 1120.1,134.1 1120.6,137.1 1121.1,133.2 1121.6,138.1 1122.1,137.2 1122.6,135.2 1123.1,128.5 1123.6,138.3 1124.1,132.3 1124.6,139.1 1125.1,137.8 1125.6,135.1 1126.1,133.5 1126.6,136.6 1127.1,132.3 1127.6,131.9 1128.1,132.5 1128.6,126.4 1129.1,134.6 1129.6,123.6 1130.1,114.3 1130.6,130.4 1131.1,132.8 1131.6,111.9 1132.1,126.5 1132.6,130.5 1133.1,134.2 1133.6,128.5 1134.1,131 1134.6,115.2 1135.1,116.1 1135.6,130.9 1136.1,131.5 1136.6,128.9 1137.1,133 1137.6,136.5 1138.1,134.9 1138.6,134.4 1139.1,134 1139.6,130.8 1140.1,137.2 1140.6,134 1141.1,133.3 1141.6,123.6 1142.1,134.5 1142.6,131.7 1143.1,134.1 1143.6,122.9 1144.1,125.9 1144.6,132.1 1145.1,126.8 1145.6,125.7 1146.1,133.1 1146.6,130.1 1147.1,109.2 1147.6,131.3 1148.1,115.9 1148.6,135.6 1149.1,125.9 1149.6,118.8 1150.1,133.8 1150.6,133.4 1151.1,134.7 1151.6,133.4 1152.1,128.2 1152.6,134.8 1153.1,126.4 1153.6,125 1154.1,135.2 1154.6,137.2 1155.1,136.4 1155.6,139.4 1156.1,140.4 1156.6,138 1157.1,140.4 1157.6,136.7 1158.1,139.4 1158.6,136.2 1159.1,138.3 1159.6,138.2 1160.1,139.5 1160.6,134.6 1161.1,140.1 1161.6,135.6 1162.1,136.3 1162.6,135 1163.1,139.6 1163.6,140.2 1164.1,136.2 1164.6,138.4 1165.1,125.7 1165.6,131.8 1166.1,130.4 1166.6,133.9 1167.1,134.3 1167.6,136.4 1168.1,117.1 1168.6,131.2 1169.1,125.8 1169.6,118.3 1170.1,137 1170.6,136.6 1171.1,140.3 1171.6,140 1172.1,138.6 1172.6,140.1 1173.1,140.7 1173.6,140.4 1174.1,138.8 1174.6,137.3 1175.1,121.6 1175.6,136 1176.1,136.9 1176.6,136.1 1177.1,132.3 1177.6,137.1 1178.1,137 1178.6,134.1 1179.1,131.6 1179.6,140.7 1180.1,140.8 1180.6,138 1181.1,139.1 1181.6,135 1182.1,139.7 1182.6,138.8 1183.1,138.5 1183.6,138.2 1184.1,141.3 1184.6,138 1185.1,134.3 1185.6,124.2 1186.1,109.2 1186.6,136 1187.1,137.4 1187.6,129.6 1188.1,132.3 1188.6,138 1189.1,137.7 1189.6,136 1190.1,130.5 1190.6,137.2 1191.1,128.6 1191.6,138.9 1192.1,135.1 1192.6,133.1 1193.1,137.3 1193.6,132.7 1194.1,139.2 1194.6,139.2 1195.1,135.6 1195.6,137.8 1196.1,138.2 1196.6,139 1197.1,135.3 1197.6,135.9 1198.1,136.1 1198.6,138.8 1199.1,139.1 1199.6,136.1 1200.1,137.2 1200.6,138.5 1201.1,137.2 1201.6,129.3 1202.1,140.1 1202.6,137 1203.1,138.9 1203.6,133.4 1204.1,135.9 1204.6,128.6 1205.1,129.7 1205.6,137 1206.1,120.9 1206.6,135.5 1207.1,137.2 1207.6,133.2 1208.1,132.9 1208.6,136.8 1209.1,135.3 1209.6,129.2 1210.1,131.4 1210.6,131.5 1211.1,131.6 1211.6,118.4 1212.1,137.2 1212.6,139.3 1213.1,141.9 1213.6,139.4 1214.1,140.4 1214.6,140 1215.1,141.3 1215.6,141.2 1216.1,142.3 1216.6,140.3 1217.1,140.1 1217.6,139.9 1218.1,138.6 1218.6,138.1 1219.1,139.1 1219.6,138.9 1220.1,132.1 1220.6,123.1 1221.1,130.8 1221.6,128.9 1222.1,129 1222.6,135.9 1223.1,134.6 1223.6,121.6 1224.1,120.1 1224.6,126.7 1225.1,131.8 1225.6,132.3 1226.1,138.2 1226.6,127.1 1227.1,111.2 1227.6,129.9 1228.1,135.3 1228.6,132.7 1229.1,132.6 1229.6,128.3 1230.1,130.6 1230.6,139.1 1231.1,138.6 1231.6,139.4 1232.1,139.5 1232.6,140.9 1233.1,140.4 1233.6,140.7 1234.1,138.3 1234.6,139.4 1235.1,141.1 1235.6,138.2 1236.1,140.3 1236.6,140.1 1237.1,139.3 1237.6,138.6 1238.1,140.6 1238.6,139.2 1239.1,131.2 1239.6,136.9 1240.1,123.2 1240.6,129.9 1241.1,130.5 1241.6,122.6 1242.1,134.4 1242.6,137.2 1243.1,134 1243.6,130.9 1244.1,136.5 1244.6,133.7 1245.1,136.7 1245.6,119.9 1246.1,135.7 1246.6,122.2 1247.1,133.2 1247.6,130.4 1248.1,134.4 1248.6,138 1249.1,137.3 1249.6,139.2 1250.1,138 1250.6,141.3 1251.1,141.1 1251.6,139.6 1252.1,140.9 1252.6,140.3 1253.1,141.2 1253.6,141.7 1254.1,140.1 1254.6,136.3 1255.1,139.3 1255.6,136.9 1256.1,136.2 1256.6,127.7 1257.1,130.1 1257.6,131.1 1258.1,122.4 1258.6,131.1 1259.1,129.7 1259.6,127.8 1260.1,130.3 1260.6,134.7 1261.1,126.6 1261.6,127.6 1262.1,128.1 1262.6,133.2 1263.1,130.7 1263.6,136.2 1264.1,134.7 1264.6,134.9 1265.1,132.7 1265.6,127.3 1266.1,136.3 1266.6,121.1 1267.1,135.5 1267.6,115.2 1268.1,139.5 1268.6,139.6 1269.1,138.1 1269.6,141.4 1270.1,135.4 1270.6,137.6 1271.1,136.4 1271.6,139.2 1272.1,139.1 1272.6,140.8 1273.1,137.1 1273.6,140.8 1274.1,135.3 1274.6,137.3 1275.1,139.4 1275.6,138.5 1276.1,138.8 1276.6,135.7 1277.1,134.7 1277.6,132 1278.1,137.6 1278.6,138.6 1279.1,133.5 1279.6,138 1280.1,139.1 1280.6,137.1 1281.1,138.7 1281.6,139.3 1282.1,139.7 1282.6,139.7 1283.1,137.8 1283.6,139 1284.1,136.3 1284.6,137.2 1285.1,138.4 1285.6,140.9 1286.1,135.9 1286.6,140.1 1287.1,130.7 1287.6,137.2 1288.1,132 1288.6,138.5 1289.1,140.4 1289.6,141.6 1290.1,141.3 1290.6,142.1 1291.1,140 1291.6,142.2 1292.1,140.4 1292.6,142 1293.1,141.7 1293.6,139.7 1294.1,141.8 1294.6,140.6 1295.1,139.3 1295.6,138.1 1296.1,139.6 1296.6,141.3 1297.1,140.6 1297.6,138.8 1298.1,139.4 1298.6,137.8 1299.1,141.9 1299.6,139.8 1300.1,139.5 1300.6,141.2 1301.1,138.9 1301.6,142.2 1302.1,139.7 1302.6,140 1303.1,137.6 1303.6,137.2 1304.1,135.5 1304.6,126.9 1305.1,131.8 1305.6,137.6 1306.1,124.7 1306.6,135.7 1307.1,135.1 1307.6,127.9 1308.1,139.3 1308.6,134.9 1309.1,139.5 1309.6,140.6 1310.1,137.5 1310.6,138.5 1311.1,136.6 1311.6,140 1312.1,140.4 1312.6,136.7 1313.1,135.5 1313.6,139.4 1314.1,136.3 1314.6,119.4 1315.1,134.4 1315.6,135.8 1316.1,125.6 1316.6,119.2 1317.1,129 1317.6,111.4 1318.1,134.6 1318.6,130.4 1319.1,133.5 1319.6,134.6 1320.1,131.3 1320.6,116.3 1321.1,131 1321.6,132.6 1322.1,130.3 1322.6,132.2 1323.1,137.8 1323.6,139.4 1324.1,138.9 1324.6,135.9 1325.1,140.7 1325.6,139.4 1326.1,139.8 1326.6,141.7 1327.1,139 1327.6,142.2 1328.1,142.1 1328.6,126.2 1329.1,139.9 1329.6,138.9 1330.1,137.8 1330.6,140.7 1331.1,138.6 1331.6,142.2 1332.1,136 1332.6,140.9 1333.1,139.1 1333.6,131.3 1334.1,136.1 1334.6,129.7 1335.1,133.7 1335.6,133.4 1336.1,136.2 1336.6,135.7 1337.1,135.4 1337.6,125 1338.1,130 1338.6,121.4 1339.1,132.2 1339.6,117.2 1340.1,128.4 1340.6,134.6 1341.1,130.3 1341.6,136.4 1342.1,133 1342.6,136.8 1343.1,134.2 1343.6,138.7 1344.1,138.2 1344.6,139.3 1345.1,142.2 1345.6,140.1 1346.1,135.8 1346.6,140.2 1347.1,139.6 1347.6,139.7 1348.1,142.1 1348.6,136.9 1349.1,139.9 1349.6,138.3 1350.1,135.9 1350.6,136.4 1351.1,133.6 1351.6,136.3 1352.1,134.1 1352.6,134.8 1353.1,119.8 1353.6,125.5 1354.1,114.2 1354.6,133.3 1355.1,134.1 1355.6,134.6 1356.1,133.7 1356.6,132.5 1357.1,126.5 1357.6,111.2 1358.1,134.5 1358.6,133.7 1359.1,132.1 1359.6,131.2 1360.1,128.2 1360.6,130.3 1361.1,136.5 1361.6,136.8 1362.1,137.2 1362.6,137.3 1363.1,137.4 1363.6,136.3 1364.1,138.7 1364.6,140.4 1365.1,140.1 1365.6,140 1366.1,141.4 1366.6,139.5 1367.1,140.7 1367.6,140.4 1368.1,140 1368.6,138.4 1369.1,141 1369.6,139.4 1370.1,137.9 1370.6,137.1 1371.1,132.7 1371.6,137.6 1372.1,137.3 1372.6,134.7 1373.1,122.4 1373.6,137.3 1374.1,135 1374.6,136.9 1375.1,139.3 1375.6,136.9 1376.1,139 1376.6,135.8 1377.1,136.8 1377.6,139.1 1378.1,129.6 1378.6,132.5 1379.1,135.2 1379.6,138.2 1380.1,139.1 1380.6,135.8 1381.1,137.6 1381.6,139.7 1382.1,136.9 1382.6,134 1383.1,134.3 1383.6,135.8 1384.1,139.6 1384.6,138.3 1385.1,142.1 1385.6,140.3 1386.1,139.8 1386.6,139.6 1387.1,142 1387.6,139.6 1388.1,139.7 1388.6,140.1 1389.1,140.1 1389.6,141 1390.1,140.3 1390.6,137.5 1391.1,135.4 1391.6,137.2 1392.1,138.5 1392.6,137.7 1393.1,137.2 1393.6,137.1 1394.1,137.8 1394.6,138.7 1395.1,136.6 1395.6,138.5 1396.1,127.6 1396.6,133.6 1397.1,137.1 1397.6,136.4 1398.1,137.9 1398.6,137 1399.1,138.8 1399.6,136.4 1400.1,138.2 1400.6,140.9 1401.1,140.9 1401.6,142.2 1402.1,139.6 1402.6,142.4 1403.1,141.7 1403.6,139.3 1404.1,141.6 1404.6,141.7 1405.1,138.7 1405.6,142.1 1406.1,141.9 1406.6,140.1 1407.1,140.6 1407.6,138.8 1408.1,142.1 1408.6,139.9 1409.1,139.2 1409.6,138.3 1410.1,139.7 1410.6,141.1 1411.1,132.6 1411.6,138.5 1412.1,125.9 1412.6,132.8 1413.1,137.2 1413.6,137.5 1414.1,138.1 1414.6,136.1 1415.1,137.6 1415.6,134.3 1416.1,131.1 1416.6,138.1 1417.1,138.3 1417.6,136.6 1418.1,125.2 1418.6,137.7 1419.1,135.5 1419.6,136.1 1420.1,139.1 1420.6,136.2 1421.1,140.6 1421.6,141.6 1422.1,136.2 1422.6,139 1423.1,140.7 1423.6,140.1 1424.1,140.4 1424.6,142.2 1425.1,139 1425.6,139.5 1426.1,138 1426.6,139.6 1427.1,139.5 1427.6,131.2 1428.1,133.2 1428.6,136.9 1429.1,135.7 1429.6,129.2 1430.1,128.7 1430.6,131.4 1431.1,133 1431.6,130.1 1432.1,120.6 1432.6,136.8 1433.1,133.9 1433.6,131 1434.1,133.2 1434.6,131.9 1435.1,133.1 1435.6,134.8 1436.1,135.3 1436.6,134.4 1437.1,139.2 1437.6,133.4 1438.1,134.8 1438.6,137.2 1439.1,139.5 1439.6,137.7 1440.1,138.9 1440.6,139.4 1441.1,139.3 1441.6,128.1 1442.1,139 1442.6,138.7 1443.1,133.8 1443.6,131.8 1444.1,139.4 1444.6,137.7 1445.1,139.7 1445.6,138.7 1446.1,139.7 1446.6,138.3 1447.1,136.6 1447.6,133.8 1448.1,139 1448.6,134.2 1449.1,140 1449.6,136.3 1450.1,136.5 1450.6,138.5 1451.1,136.8 1451.6,127.4 1452.1,139 1452.6,133.4 1453.1,124.9 1453.6,132.7 1454.1,131 1454.6,136.9 1455.1,131.4 1455.6,129.8 1456.1,123 1456.6,133.2 1457.1,135.9 1457.6,136.7 1458.1,134.5 1458.6,121.9 1459.1,134.8 1459.6,122 1460.1,136.7 1460.6,134.6 1461.1,138.1 1461.6,137.6 1462.1,140 1462.6,137.8 1463.1,139.3 1463.6,140.5 1464.1,140.6 1464.6,133.8 1465.1,141.1 1465.6,140.2 1466.1,137.9 1466.6,141.2 L1466.6,146.3 L1466.6,151.4 1466.1,154.7 1465.6,152.4 1465.1,151.5 1464.6,158.8 1464.1,152 1463.6,152.1 1463.1,153.3 1462.6,154.8 1462.1,152.6 1461.6,155 1461.1,154.5 1460.6,158 1460.1,155.9 1459.6,170.6 1459.1,157.8 1458.6,170.7 1458.1,158.1 1457.6,155.9 1457.1,156.7 1456.6,159.4 1456.1,169.6 1455.6,162.8 1455.1,161.2 1454.6,155.7 1454.1,161.6 1453.6,159.9 1453.1,167.7 1452.6,159.2 1452.1,153.6 1451.6,165.2 1451.1,155.8 1450.6,154.1 1450.1,156.1 1449.6,156.3 1449.1,152.6 1448.6,158.4 1448.1,153.6 1447.6,158.8 1447.1,156 1446.6,154.3 1446.1,152.9 1445.6,153.9 1445.1,152.9 1444.6,154.9 1444.1,153.2 1443.6,160.8 1443.1,158.8 1442.6,153.9 1442.1,153.6 1441.6,164.5 1441.1,153.3 1440.6,153.2 1440.1,153.7 1439.6,154.9 1439.1,153.1 1438.6,155.4 1438.1,157.8 1437.6,159.2 1437.1,153.4 1436.6,158.2 1436.1,157.3 1435.6,157.8 1435.1,159.5 1434.6,160.7 1434.1,159.4 1433.6,161.6 1433.1,158.7 1432.6,155.8 1432.1,172 1431.6,162.5 1431.1,159.6 1430.6,161.2 1430.1,163.9 1429.6,163.4 1429.1,156.9 1428.6,155.7 1428.1,159.4 1427.6,161.4 1427.1,153.1 1426.6,153 1426.1,154.6 1425.6,153.1 1425.1,153.6 1424.6,150.4 1424.1,152.2 1423.6,152.5 1423.1,151.9 1422.6,153.6 1422.1,156.4 1421.6,151 1421.1,152 1420.6,156.4 1420.1,153.5 1419.6,156.5 1419.1,157.1 1418.6,154.9 1418.1,167.4 1417.6,156 1417.1,154.3 1416.6,154.5 1416.1,161.5 1415.6,158.3 1415.1,155 1414.6,156.5 1414.1,154.5 1413.6,155.1 1413.1,155.4 1412.6,159.8 1412.1,166.7 1411.6,154.1 1411.1,160 1410.6,151.5 1410.1,152.9 1409.6,154.3 1409.1,153.4 1408.6,152.7 1408.1,150.5 1407.6,153.8 1407.1,152 1406.6,152.5 1406.1,150.7 1405.6,150.5 1405.1,153.9 1404.6,150.9 1404.1,151 1403.6,153.3 1403.1,150.9 1402.6,150.2 1402.1,153 1401.6,150.4 1401.1,151.7 1400.6,151.7 1400.1,154.4 1399.6,156.2 1399.1,153.8 1398.6,155.6 1398.1,154.7 1397.6,156.2 1397.1,155.5 1396.6,159 1396.1,165 1395.6,154.1 1395.1,156 1394.6,153.9 1394.1,154.8 1393.6,155.5 1393.1,155.4 1392.6,154.9 1392.1,154.1 1391.6,155.4 1391.1,157.2 1390.6,155.1 1390.1,152.3 1389.6,151.6 1389.1,152.5 1388.6,152.5 1388.1,152.9 1387.6,153 1387.1,150.6 1386.6,153 1386.1,152.8 1385.6,152.3 1385.1,150.5 1384.6,154.3 1384.1,153 1383.6,156.8 1383.1,158.3 1382.6,158.6 1382.1,155.7 1381.6,152.9 1381.1,155 1380.6,156.8 1380.1,153.5 1379.6,154.4 1379.1,157.4 1378.6,160.1 1378.1,163 1377.6,153.5 1377.1,155.8 1376.6,156.8 1376.1,153.6 1375.6,155.7 1375.1,153.3 1374.6,155.7 1374.1,157.6 1373.6,155.3 1373.1,170.2 1372.6,157.9 1372.1,155.3 1371.6,155 1371.1,159.9 1370.6,155.5 1370.1,154.7 1369.6,153.2 1369.1,151.6 1368.6,154.2 1368.1,152.6 1367.6,152.2 1367.1,151.9 1366.6,153.1 1366.1,151.2 1365.6,152.6 1365.1,152.5 1364.6,152.2 1364.1,153.9 1363.6,156.3 1363.1,155.2 1362.6,155.3 1362.1,155.4 1361.6,155.8 1361.1,156.1 1360.6,162.3 1360.1,164.4 1359.6,161.4 1359.1,160.5 1358.6,158.9 1358.1,158.1 1357.6,181.4 1357.1,166.1 1356.6,160.1 1356.1,158.9 1355.6,158 1355.1,158.5 1354.6,159.3 1354.1,178.4 1353.6,167.1 1353.1,172.8 1352.6,157.8 1352.1,158.5 1351.6,156.3 1351.1,159 1350.6,156.2 1350.1,156.7 1349.6,154.3 1349.1,152.7 1348.6,155.7 1348.1,150.5 1347.6,152.9 1347.1,153 1346.6,152.4 1346.1,156.8 1345.6,152.5 1345.1,150.4 1344.6,153.3 1344.1,154.4 1343.6,153.9 1343.1,158.4 1342.6,155.8 1342.1,159.6 1341.6,156.2 1341.1,162.3 1340.6,158 1340.1,164.2 1339.6,175.4 1339.1,160.4 1338.6,171.2 1338.1,162.6 1337.6,167.6 1337.1,157.2 1336.6,156.9 1336.1,156.4 1335.6,159.2 1335.1,158.9 1334.6,162.9 1334.1,156.5 1333.6,161.3 1333.1,153.5 1332.6,151.7 1332.1,156.6 1331.6,150.4 1331.1,154 1330.6,151.9 1330.1,154.8 1329.6,153.7 1329.1,152.7 1328.6,166.4 1328.1,150.5 1327.6,150.4 1327.1,153.6 1326.6,150.9 1326.1,152.8 1325.6,153.2 1325.1,151.9 1324.6,156.7 1324.1,153.7 1323.6,153.2 1323.1,154.8 1322.6,160.4 1322.1,162.3 1321.6,160 1321.1,161.6 1320.6,176.3 1320.1,161.3 1319.6,158 1319.1,159.1 1318.6,162.2 1318.1,158 1317.6,181.2 1317.1,163.6 1316.6,173.4 1316.1,167 1315.6,156.8 1315.1,158.2 1314.6,173.2 1314.1,156.3 1313.6,153.2 1313.1,157.1 1312.6,155.9 1312.1,152.2 1311.6,152.6 1311.1,156 1310.6,154.1 1310.1,155.1 1309.6,152 1309.1,153.1 1308.6,157.7 1308.1,153.3 1307.6,164.7 1307.1,157.5 1306.6,156.9 1306.1,167.9 1305.6,155 1305.1,160.8 1304.6,165.7 1304.1,157.1 1303.6,155.4 1303.1,155 1302.6,152.6 1302.1,152.9 1301.6,150.4 1301.1,153.7 1300.6,151.4 1300.1,153.1 1299.6,152.8 1299.1,150.7 1298.6,154.8 1298.1,153.2 1297.6,153.8 1297.1,152 1296.6,151.3 1296.1,153 1295.6,154.5 1295.1,153.3 1294.6,152 1294.1,150.8 1293.6,152.9 1293.1,150.9 1292.6,150.6 1292.1,152.2 1291.6,150.4 1291.1,152.6 1290.6,150.5 1290.1,151.3 1289.6,151 1289.1,152.2 1288.6,154.1 1288.1,160.6 1287.6,155.4 1287.1,161.9 1286.6,152.5 1286.1,156.7 1285.6,151.7 1285.1,154.2 1284.6,155.4 1284.1,156.3 1283.6,153.6 1283.1,154.8 1282.6,152.9 1282.1,152.9 1281.6,153.3 1281.1,153.9 1280.6,155.5 1280.1,153.5 1279.6,154.6 1279.1,159.1 1278.6,154 1278.1,155 1277.6,160.6 1277.1,157.9 1276.6,156.9 1276.1,153.8 1275.6,154.1 1275.1,153.2 1274.6,155.3 1274.1,157.3 1273.6,151.8 1273.1,155.5 1272.6,151.8 1272.1,153.5 1271.6,153.4 1271.1,156.2 1270.6,155 1270.1,157.2 1269.6,151.2 1269.1,154.5 1268.6,153 1268.1,153.1 1267.6,177.4 1267.1,157.1 1266.6,171.5 1266.1,156.3 1265.6,165.3 1265.1,159.9 1264.6,157.7 1264.1,157.9 1263.6,156.4 1263.1,161.9 1262.6,159.4 1262.1,164.5 1261.6,165 1261.1,166 1260.6,157.9 1260.1,162.3 1259.6,164.8 1259.1,162.9 1258.6,161.5 1258.1,170.2 1257.6,161.5 1257.1,162.5 1256.6,164.9 1256.1,156.4 1255.6,155.7 1255.1,153.3 1254.6,156.3 1254.1,152.5 1253.6,150.9 1253.1,151.4 1252.6,152.3 1252.1,151.7 1251.6,153 1251.1,151.5 1250.6,151.3 1250.1,154.6 1249.6,153.4 1249.1,155.3 1248.6,154.6 1248.1,158.2 1247.6,162.2 1247.1,159.4 1246.6,170.4 1246.1,156.9 1245.6,172.7 1245.1,155.9 1244.6,158.9 1244.1,156.1 1243.6,161.7 1243.1,158.6 1242.6,155.4 1242.1,158.2 1241.6,170 1241.1,162.1 1240.6,162.7 1240.1,169.4 1239.6,155.7 1239.1,161.4 1238.6,153.4 1238.1,152 1237.6,154 1237.1,153.3 1236.6,152.5 1236.1,152.3 1235.6,154.4 1235.1,151.5 1234.6,153.2 1234.1,154.3 1233.6,151.9 1233.1,152.2 1232.6,151.7 1232.1,153.1 1231.6,153.2 1231.1,154 1230.6,153.5 1230.1,162 1229.6,164.3 1229.1,160 1228.6,159.9 1228.1,157.3 1227.6,162.7 1227.1,181.4 1226.6,165.5 1226.1,154.4 1225.6,160.3 1225.1,160.8 1224.6,165.9 1224.1,172.5 1223.6,171 1223.1,158 1222.6,156.7 1222.1,163.6 1221.6,163.7 1221.1,161.8 1220.6,169.5 1220.1,160.5 1219.6,153.7 1219.1,153.5 1218.6,154.5 1218.1,154 1217.6,152.7 1217.1,152.5 1216.6,152.3 1216.1,150.3 1215.6,151.4 1215.1,151.3 1214.6,152.6 1214.1,152.2 1213.6,153.2 1213.1,150.7 1212.6,153.3 1212.1,155.4 1211.6,174.2 1211.1,161 1210.6,161.1 1210.1,161.2 1209.6,163.4 1209.1,157.3 1208.6,155.8 1208.1,159.7 1207.6,159.4 1207.1,155.4 1206.6,157.1 1206.1,171.7 1205.6,155.6 1205.1,162.9 1204.6,164 1204.1,156.7 1203.6,159.2 1203.1,153.7 1202.6,155.6 1202.1,152.5 1201.6,163.3 1201.1,155.4 1200.6,154.1 1200.1,155.4 1199.6,156.5 1199.1,153.5 1198.6,153.8 1198.1,156.5 1197.6,156.7 1197.1,157.3 1196.6,153.6 1196.1,154.4 1195.6,154.8 1195.1,157 1194.6,153.4 1194.1,153.4 1193.6,159.9 1193.1,155.3 1192.6,159.5 1192.1,157.5 1191.6,153.7 1191.1,164 1190.6,155.4 1190.1,162.1 1189.6,156.6 1189.1,154.9 1188.6,154.6 1188.1,160.3 1187.6,163 1187.1,155.2 1186.6,156.6 1186.1,183.4 1185.6,168.4 1185.1,158.3 1184.6,154.6 1184.1,151.3 1183.6,154.4 1183.1,154.1 1182.6,153.8 1182.1,152.9 1181.6,157.6 1181.1,153.5 1180.6,154.6 1180.1,151.8 1179.6,151.9 1179.1,161 1178.6,158.5 1178.1,155.6 1177.6,155.5 1177.1,160.3 1176.6,156.5 1176.1,155.7 1175.6,156.6 1175.1,171 1174.6,155.3 1174.1,153.8 1173.6,152.2 1173.1,151.9 1172.6,152.5 1172.1,154 1171.6,152.6 1171.1,152.3 1170.6,156 1170.1,155.6 1169.6,174.3 1169.1,166.8 1168.6,161.4 1168.1,175.5 1167.6,156.2 1167.1,158.3 1166.6,158.7 1166.1,162.2 1165.6,160.8 1165.1,166.9 1164.6,154.2 1164.1,156.4 1163.6,152.4 1163.1,153 1162.6,157.6 1162.1,156.3 1161.6,157 1161.1,152.5 1160.6,158 1160.1,153.1 1159.6,154.4 1159.1,154.3 1158.6,156.4 1158.1,153.2 1157.6,155.9 1157.1,152.2 1156.6,154.6 1156.1,152.2 1155.6,153.2 1155.1,156.2 1154.6,155.4 1154.1,157.4 1153.6,167.6 1153.1,166.2 1152.6,157.8 1152.1,164.4 1151.6,159.2 1151.1,157.9 1150.6,159.2 1150.1,158.8 1149.6,173.8 1149.1,166.7 1148.6,157 1148.1,176.7 1147.6,161.3 1147.1,183.4 1146.6,162.5 1146.1,159.5 1145.6,166.9 1145.1,165.8 1144.6,160.5 1144.1,166.7 1143.6,169.7 1143.1,158.5 1142.6,160.9 1142.1,158.1 1141.6,169 1141.1,159.3 1140.6,158.6 1140.1,155.4 1139.6,161.8 1139.1,158.6 1138.6,158.2 1138.1,157.7 1137.6,156.1 1137.1,159.6 1136.6,163.7 1136.1,161.1 1135.6,161.7 1135.1,176.5 1134.6,177.4 1134.1,161.6 1133.6,164.1 1133.1,158.4 1132.6,162.1 1132.1,166.1 1131.6,180.7 1131.1,159.8 1130.6,162.2 1130.1,178.3 1129.6,169 1129.1,158 1128.6,166.2 1128.1,160.1 1127.6,160.7 1127.1,160.3 1126.6,156 1126.1,159.1 1125.6,157.5 1125.1,154.8 1124.6,153.5 1124.1,160.3 1123.6,154.3 1123.1,164.1 1122.6,157.4 1122.1,155.4 1121.6,154.5 1121.1,159.4 1120.6,155.5 1120.1,158.5 1119.6,163.8 1119.1,161.2 1118.6,166.7 1118.1,164.8 1117.6,161.1 1117.1,164.3 1116.6,169.4 1116.1,163.1 1115.6,160.9 1115.1,171.1 1114.6,170.1 1114.1,186.3 1113.6,167.9 1113.1,172.7 1112.6,160.4 1112.1,160.8 1111.6,181.2 1111.1,159.3 1110.6,162.5 1110.1,161.8 1109.6,158.2 1109.1,163.7 1108.6,163.3 1108.1,156 1107.6,152.9 1107.1,153.2 1106.6,153.9 1106.1,153 1105.6,154.8 1105.1,153.5 1104.6,152.9 1104.1,155.8 1103.6,159.9 1103.1,161.2 1102.6,155.6 1102.1,156 1101.6,155.2 1101.1,155 1100.6,154.8 1100.1,161.5 1099.6,160.9 1099.1,163.6 1098.6,160.2 1098.1,163.2 1097.6,167.5 1097.1,163.9 1096.6,242.6 1096.1,167.6 1095.6,162 1095.1,173.6 1094.6,172.5 1094.1,180.6 1093.6,163.1 1093.1,162.7 1092.6,163.9 1092.1,195.4 1091.6,166 1091.1,189.7 1090.6,165.8 1090.1,169.1 1089.6,171.6 1089.1,177.6 1088.6,169.3 1088.1,174.2 1087.6,188.4 1087.1,167.2 1086.6,170.6 1086.1,212.1 1085.6,186.9 1085.1,192.3 1084.6,178.4 1084.1,181.6 1083.6,217.4 1083.1,218.8 1082.6,220.7 1082.1,231 1081.6,278.6 1081.1,234.2 1080.6,225.1 1080.1,199 1079.6,192.4 1079.1,192.5 1078.6,222 1078.1,173 1077.6,172.8 1077.1,170.7 1076.6,171.2 1076.1,168.2 1075.6,159.2 1075.1,168.6 1074.6,159.4 1074.1,161.9 1073.6,156.2 1073.1,157.3 1072.6,155.9 1072.1,157 1071.6,157.9 1071.1,155.7 1070.6,155.3 1070.1,156.1 1069.6,198.4 1069.1,155.2 1068.6,155.9 1068.1,156.6 1067.6,161.8 1067.1,159.5 1066.6,160 1066.1,155.4 1065.6,159.1 1065.1,156.1 1064.6,160.2 1064.1,160.5 1063.6,233.5 1063.1,158.4 1062.6,164 1062.1,162 1061.6,155.9 1061.1,155.5 1060.6,161 1060.1,159.3 1059.6,164.4 1059.1,156.7 1058.6,163.5 1058.1,163.1 1057.6,226.5 1057.1,161.3 1056.6,157.5 1056.1,163.9 1055.6,155.7 1055.1,155.8 1054.6,161.8 1054.1,159 1053.6,162.8 1053.1,161.4 1052.6,258.6 1052.1,181.9 1051.6,198.4 1051.1,162.4 1050.6,161.3 1050.1,155.9 1049.6,161.4 1049.1,172.4 1048.6,157.9 1048.1,162.4 1047.6,154.6 1047.1,154.6 1046.6,156.5 1046.1,154.1 1045.6,155.8 1045.1,165.2 1044.6,156.5 1044.1,157.3 1043.6,166.4 1043.1,156 1042.6,154.4 1042.1,153.7 1041.6,157.2 1041.1,152.8 1040.6,155.2 1040.1,152.4 1039.6,156.5 1039.1,152.8 1038.6,155.3 1038.1,152.1 1037.6,154.9 1037.1,156.6 1036.6,153.5 1036.1,155.4 1035.6,157.8 1035.1,156.6 1034.6,163.9 1034.1,158.5 1033.6,157.3 1033.1,156.4 1032.6,158.3 1032.1,153.5 1031.6,154.5 1031.1,152.7 1030.6,156.7 1030.1,157.7 1029.6,157.3 1029.1,157.6 1028.6,157.8 1028.1,164.9 1027.6,153.4 1027.1,170.4 1026.6,153.1 1026.1,168.9 1025.6,163.7 1025.1,165.2 1024.6,160.1 1024.1,167.5 1023.6,159.4 1023.1,164.9 1022.6,168.3 1022.1,218.5 1021.6,158.5 1021.1,164.4 1020.6,167.7 1020.1,168.2 1019.6,156.8 1019.1,159.1 1018.6,155.1 1018.1,155.7 1017.6,157.9 1017.1,155 1016.6,162 1016.1,174.4 1015.6,156 1015.1,154.8 1014.6,159.9 1014.1,156.2 1013.6,154.1 1013.1,157.5 1012.6,155.3 1012.1,154.7 1011.6,266.6 1011.1,154.1 1010.6,154.7 1010.1,157.5 1009.6,158 1009.1,155.5 1008.6,153.7 1008.1,158.2 1007.6,197.4 1007.1,160.2 1006.6,160.2 1006.1,155.9 1005.6,158.4 1005.1,154.1 1004.6,155.9 1004.1,154.1 1003.6,163.7 1003.1,159.3 1002.6,160.6 1002.1,165.7 1001.6,169.8 1001.1,176.5 1000.6,175 1000.1,195.2 999.6,271.6 999.1,191.3 998.6,173.6 998.1,196.4 997.6,177.6 997.1,157.9 996.6,161.2 996.1,154.2 995.6,155.7 995.1,152.7 994.6,153.5 994.1,164.6 993.6,154.9 993.1,157.2 992.6,153.5 992.1,163.9 991.6,155.8 991.1,153.1 990.6,154.6 990.1,154.5 989.6,153.8 989.1,158 988.6,153.1 988.1,160.8 987.6,153.7 987.1,156.4 986.6,155.6 986.1,163.3 985.6,153.3 985.1,153.1 984.6,156.1 984.1,158 983.6,153.5 983.1,154.4 982.6,153.5 982.1,156.7 981.6,153.9 981.1,169.4 980.6,156.6 980.1,154.4 979.6,156.4 979.1,155.5 978.6,153.5 978.1,154.7 977.6,155.9 977.1,157.4 976.6,157.2 976.1,154.9 975.6,153.6 975.1,157.5 974.6,153.7 974.1,177.4 973.6,163.1 973.1,158 972.6,158.6 972.1,153.9 971.6,166.9 971.1,160 970.6,153.5 970.1,153.5 969.6,272.6 969.1,155.9 968.6,160.1 968.1,154.2 967.6,156 967.1,157.7 966.6,157.2 966.1,158.1 965.6,203.4 965.1,156.2 964.6,155.4 964.1,154.5 963.6,160.6 963.1,156.8 962.6,164.9 962.1,158.4 961.6,165.1 961.1,157.6 960.6,249.6 960.1,202.1 959.6,180 959.1,158.7 958.6,169.8 958.1,161.5 957.6,158.7 957.1,159.1 956.6,174.4 956.1,152.5 955.6,154.1 955.1,152.7 954.6,155.7 954.1,154 953.6,154.6 953.1,156.3 952.6,158 952.1,153.5 951.6,160.9 951.1,153.2 950.6,153.4 950.1,153.7 949.6,155.7 949.1,153 948.6,153 948.1,154.3 947.6,163.2 947.1,160.1 946.6,153.6 946.1,156.4 945.6,161.6 945.1,154.3 944.6,154 944.1,156.3 943.6,170.4 943.1,160 942.6,161.7 942.1,155.5 941.6,154.7 941.1,159.4 940.6,207.5 940.1,174.7 939.6,159.2 939.1,157.3 938.6,174.3 938.1,165.5 937.6,177.5 937.1,187.6 936.6,206.5 936.1,180.8 935.6,182.8 935.1,195.5 934.6,229.5 934.1,221.3 933.6,192.9 933.1,192.8 932.6,242.6 932.1,200.1 931.6,177.8 931.1,185.5 930.6,189.4 930.1,173.9 929.6,165.8 929.1,166.6 928.6,179.9 928.1,158.4 927.6,158.7 927.1,157.1 926.6,168 926.1,161.3 925.6,162.5 925.1,166.9 924.6,160.1 924.1,159.8 923.6,242.6 923.1,157.4 922.6,157.7 922.1,159.1 921.6,158.4 921.1,156.8 920.6,157.7 920.1,168.2 919.6,155.6 919.1,165.4 918.6,154.4 918.1,160.1 917.6,160.7 Z" fill="#1f77b4" stroke="#1f77b4" stroke-width="0.9" stroke-linejoin="bevel"/>
<path d="M890.4,16.3h-3.4M890.4,48.8h-3.4M890.4,81.3h-3.4M890.4,113.8h-3.4M890.4,146.3h-3.4M890.4,178.6h-3.4M890.4,210.9h-3.4M890.4,243.2h-3.4M890.4,275.4h-3.4M917.6,290.3v3.4M1037.3,290.3v3.4M1157.1,290.3v3.4M1276.8,290.3v3.4M1396.6,290.3v3.4" stroke="#444" stroke-width="0.8" fill="none"/>
<g shape-rendering="crispEdges"><rect x="890" y="1" width="604" height="1" fill="#333"/><rect x="890" y="290" width="604" height="1" fill="#888"/><rect x="890" y="1" width="1" height="290" fill="#666"/><rect x="1493" y="1" width="1" height="290" fill="#000"/></g>
<g class="tk" text-anchor="end">
<text x="884.5" y="24.2">1.00</text>
<text x="884.5" y="56.7">0.75</text>
<text x="884.5" y="89.2">0.50</text>
<text x="884.5" y="121.7">0.25</text>
<text x="884.5" y="154.2">0.00</text>
<text x="884.5" y="186.5">−0.25</text>
<text x="884.5" y="218.8">−0.50</text>
<text x="884.5" y="251.1">−0.75</text>
<text x="884.5" y="283.3">−1.00</text>
</g>
<g class="tk" text-anchor="middle">
<text x="917.6" y="313.1">0</text>
<text x="1037.3" y="313.1">5</text>
<text x="1157.1" y="313.1">10</text>
<text x="1276.8" y="313.1">15</text>
<text x="1396.6" y="313.1">20</text>
</g>
<text class="lb" text-anchor="middle" x="1192.0" y="340.1">Time (sec)</text>
<text class="lb" text-anchor="middle" transform="translate(809.2,147.3) rotate(-90)">Amplitude (dB)</text>
</g>
<g>
<path d="M129.4,622.8 L129.4,602.1 129.9,600.8 130.4,602.2 130.9,592.9 131.4,601 131.9,603.3 132.4,534.2 132.9,603.6 133.4,605.8 133.9,605.1 134.4,599.4 134.9,609.2 135.4,609.2 135.9,607.4 136.4,607.9 136.9,606.1 137.4,597.8 137.9,606.6 138.4,599.3 138.9,609.1 139.4,607 139.9,602.5 140.4,607.4 140.9,602.8 141.4,598.9 141.9,554.2 142.4,600.6 142.9,608.8 143.4,609.3 143.9,610.1 144.4,612.4 144.9,613 145.4,610.9 145.9,612.4 146.4,613.1 146.9,612.5 147.4,610.4 147.9,613.1 148.4,550.2 148.9,607.2 149.4,613.2 149.9,614.7 150.4,611 150.9,612.7 151.4,610.5 151.9,615.7 152.4,617.1 152.9,612.1 153.4,613.5 153.9,611 154.4,609.8 154.9,608.7 155.4,606.6 155.9,595.5 156.4,609.9 156.9,604.2 157.4,595.1 157.9,606.1 158.4,540.2 158.9,602.2 159.4,600.2 159.9,606.5 160.4,606.5 160.9,604.4 161.4,598.6 161.9,600.9 162.4,604.2 162.9,602.7 163.4,593.2 163.9,601.7 164.4,534.2 164.9,597.3 165.4,584.6 165.9,587.7 166.4,593.1 166.9,593.5 167.4,594.9 167.9,589.1 168.4,585 168.9,601.3 169.4,605.5 169.9,600 170.4,602.2 170.9,587.9 171.4,601.6 171.9,586.8 172.4,597.9 172.9,590.5 173.4,597.8 173.9,589.9 174.4,579.7 174.9,599.7 175.4,597.7 175.9,569.7 176.4,597.9 176.9,546.2 177.4,586.3 177.9,594.4 178.4,601.5 178.9,598.9 179.4,585.5 179.9,593.6 180.4,603.8 180.9,606 181.4,549.2 181.9,586.5 182.4,603.9 182.9,608.4 183.4,605 183.9,611.9 184.4,609.3 184.9,601.2 185.4,611 185.9,610.6 186.4,616.2 186.9,610.5 187.4,612.4 187.9,612.4 188.4,615 188.9,611.1 189.4,611 189.9,607.8 190.4,607.2 190.9,602.4 191.4,605.7 191.9,606.9 192.4,605.6 192.9,598.8 193.4,591 193.9,607 194.4,606.2 194.9,599.7 195.4,602.3 195.9,587.6 196.4,596.1 196.9,590.8 197.4,525.1 197.9,605 198.4,590.4 198.9,602.7 199.4,606.5 199.9,599.3 200.4,596.4 200.9,591.6 201.4,589.4 201.9,582.6 202.4,579.8 202.9,598.3 203.4,598.8 203.9,585.8 204.4,593.9 204.9,587.5 205.4,533.2 205.9,575.8 206.4,588.4 206.9,596.4 207.4,559.2 207.9,598 208.4,585.5 208.9,595.9 209.4,587.6 209.9,596.5 210.4,602 210.9,589.7 211.4,602.4 211.9,587.8 212.4,597.4 212.9,603.1 213.4,535.2 213.9,597.3 214.4,608.1 214.9,605.5 215.4,610.1 215.9,613.7 216.4,614.8 216.9,605.3 217.4,615.5 217.9,617.7 218.4,618 218.9,615.2 219.4,616.8 219.9,612.8 220.4,612.5 220.9,612.4 221.4,604.4 221.9,614.3 222.4,606.3 222.9,610.6 223.4,610.1 223.9,535.2 224.4,606.9 224.9,599.6 225.4,596.7 225.9,592.8 226.4,604.5 226.9,594.1 227.4,601.7 227.9,595.1 228.4,591.1 228.9,587.1 229.4,597.3 229.9,596.4 230.4,526.1 230.9,597.4 231.4,592.4 231.9,601.5 232.4,591.6 232.9,604.1 233.4,594.7 233.9,595 234.4,599.1 234.9,587.1 235.4,598.7 235.9,606.8 236.4,607.2 236.9,598.3 237.4,604.4 237.9,587.1 238.4,589.8 238.9,605 239.4,578.9 239.9,606.2 240.4,573.3 240.9,608.2 241.4,607.4 241.9,606.1 242.4,605.3 242.9,601.3 243.4,607.4 243.9,601.9 244.4,612.1 244.9,612.7 245.4,612.5 245.9,610.2 246.4,550.2 246.9,607 247.4,613.5 247.9,610 248.4,600.4 248.9,613.6 249.4,612.9 249.9,613.7 250.4,614.6 250.9,614.7 251.4,615 251.9,615.4 252.4,616.4 252.9,604.2 253.4,609.9 253.9,615.3 254.4,614.8 254.9,608.6 255.4,615.8 255.9,610.7 256.4,609.8 256.9,611.6 257.4,591.3 257.9,610.8 258.4,612.5 258.9,611.3 259.4,611.9 259.9,613.6 260.4,602 260.9,608.3 261.4,613.7 261.9,614.5 262.4,611.4 262.9,552.2 263.4,612.4 263.9,612.9 264.4,609.3 264.9,610.9 265.4,614 265.9,612.5 266.4,607.8 266.9,601.2 267.4,615.7 267.9,611.1 268.4,611.6 268.9,604.2 269.4,603.1 269.9,597.6 270.4,593.4 270.9,604.7 271.4,585.6 271.9,601 272.4,590 272.9,583.6 273.4,571.3 273.9,580.1 274.4,585.5 274.9,587.3 275.4,589.1 275.9,597.4 276.4,576.7 276.9,586.5 277.4,584 277.9,598.8 278.4,516.1 278.9,592.4 279.4,600.2 279.9,586.8 280.4,590.3 280.9,585.2 281.4,583.1 281.9,596.3 282.4,597.9 282.9,601.1 283.4,593.2 283.9,602.1 284.4,598.9 284.9,603 285.4,604 285.9,596.3 286.4,597.5 286.9,600.5 287.4,605.7 287.9,590.8 288.4,608.6 288.9,533.2 289.4,606.2 289.9,612.8 290.4,613.1 290.9,615.2 291.4,609.7 291.9,614.6 292.4,614.9 292.9,611.7 293.4,611.4 293.9,614 294.4,607.8 294.9,601.1 295.4,536.2 295.9,612.1 296.4,612 296.9,614.5 297.4,614.9 297.9,613.8 298.4,613.7 298.9,612.3 299.4,609 299.9,605.4 300.4,598.3 300.9,601.6 301.4,601.8 301.9,594.9 302.4,596.5 302.9,593.2 303.4,586.9 303.9,579.6 304.4,580.7 304.9,541.2 305.4,564.3 305.9,555.4 306.4,559.7 306.9,558.9 307.4,536.2 307.9,564.3 308.4,558.3 308.9,589.1 309.4,581.3 309.9,558.5 310.4,592 310.9,587 311.4,584.1 311.9,545.2 312.4,595.2 312.9,588.6 313.4,593.5 313.9,590.2 314.4,582.5 314.9,597.3 315.4,602.1 315.9,601.5 316.4,590 316.9,596.7 317.4,593.4 317.9,579.8 318.4,588.4 318.9,602.9 319.4,585.8 319.9,602.6 320.4,594.4 320.9,603.2 321.4,597.4 321.9,603.2 322.4,604.2 322.9,604.3 323.4,601.3 323.9,593.2 324.4,606.3 324.9,595.4 325.4,607.1 325.9,606 326.4,592.8 326.9,572.3 327.4,605.9 327.9,608.1 328.4,602.4 328.9,596.3 329.4,612.8 329.9,610.8 330.4,615.2 330.9,613.6 331.4,611.7 331.9,614.7 332.4,610.7 332.9,616.3 333.4,606.3 333.9,615.5 334.4,609.1 334.9,613 335.4,609.7 335.9,608.5 336.4,607.6 336.9,602.7 337.4,606.6 337.9,606.3 338.4,598.2 338.9,602.7 339.4,602.7 339.9,596 340.4,603.1 340.9,595.4 341.4,592.6 341.9,605.1 342.4,604.3 342.9,602.9 343.4,559.2 343.9,606.8 344.4,602.8 344.9,597.7 345.4,593 345.9,596.4 346.4,596.7 346.9,592.2 347.4,601.5 347.9,595.3 348.4,588.9 348.9,603 349.4,592 349.9,595.8 350.4,593.9 350.9,574.1 351.4,595 351.9,586.7 352.4,596.5 352.9,599.1 353.4,549.2 353.9,588.8 354.4,591.8 354.9,604.5 355.4,604.2 355.9,607.8 356.4,609.8 356.9,607.2 357.4,605.9 357.9,594 358.4,608.2 358.9,593.3 359.4,545.2 359.9,605.6 360.4,593.9 360.9,602.3 361.4,603.6 361.9,591.5 362.4,592.6 362.9,583 363.4,598.7 363.9,603.3 364.4,545.2 364.9,586.2 365.4,582.1 365.9,605.4 366.4,587.4 366.9,594.9 367.4,601.5 367.9,588.5 368.4,591.1 368.9,605.5 369.4,543.2 369.9,593.9 370.4,607 370.9,604 371.4,603.2 371.9,603.9 372.4,607.9 372.9,594.5 373.4,604.6 373.9,589.1 374.4,601.8 374.9,582.6 375.4,537.2 375.9,584 376.4,592.3 376.9,601.1 377.4,574.4 377.9,600.9 378.4,583.4 378.9,602.2 379.4,591.7 379.9,596.9 380.4,595.2 380.9,596.4 381.4,595.6 381.9,581.2 382.4,588.4 382.9,566.3 383.4,588.9 383.9,599.1 384.4,593.4 384.9,591 385.4,599.7 385.9,582.4 386.4,595.4 386.9,596.2 387.4,592.7 387.9,580.7 388.4,579.9 388.9,589.7 389.4,598.7 389.9,586.4 390.4,585.2 390.9,592.6 391.4,599.1 391.9,565.3 392.4,603.1 392.9,604.5 393.4,598.7 393.9,585.4 394.4,601.8 394.9,600.4 395.4,600.6 395.9,491.1 396.4,594.4 396.9,586.4 397.4,573.4 397.9,598.1 398.4,598.4 398.9,605.7 399.4,609.5 399.9,612.6 400.4,600.3 400.9,611.3 401.4,613.2 401.9,608.5 402.4,613.9 402.9,614.8 403.4,612.2 403.9,611.7 404.4,614.3 404.9,601.7 405.4,613.9 405.9,614 406.4,609 406.9,614.5 407.4,544.2 407.9,614.2 408.4,608.6 408.9,609.9 409.4,609.1 409.9,613.4 410.4,611.5 410.9,613.6 411.4,549.2 411.9,616.2 412.4,610.7 412.9,613.5 413.4,615 413.9,615.5 414.4,610.9 414.9,614.3 415.4,610.8 415.9,610.6 416.4,604.6 416.9,601.7 417.4,597 417.9,600.9 418.4,600.3 418.9,607.5 419.4,575.3 419.9,595.8 420.4,608.6 420.9,598.8 421.4,599.4 421.9,594.2 422.4,577.1 422.9,603.3 423.4,604.3 423.9,601.7 424.4,528.2 424.9,602.6 425.4,599.3 425.9,607.4 426.4,601.2 426.9,604.5 427.4,589.4 427.9,605 428.4,600.6 428.9,601.3 429.4,587.2 429.9,603.5 430.4,607.8 430.9,582.5 431.4,595.6 431.9,597.2 432.4,594 432.9,605.9 433.4,602.6 433.9,601.6 434.4,596.9 434.9,537.2 435.4,600.4 435.9,606.5 436.4,597.3 436.9,606.6 437.4,601.9 437.9,601.8 438.4,608.9 438.9,584.7 439.4,605.6 439.9,606.6 440.4,609.3 440.9,521.1 441.4,608.4 441.9,600.3 442.4,599.8 442.9,607.8 443.4,602.8 443.9,611.7 444.4,613.4 444.9,616.2 445.4,606.7 445.9,617.1 446.4,616.8 446.9,615.8 447.4,616.6 447.9,615.3 448.4,599.4 448.9,606.3 449.4,594.4 449.9,589.4 450.4,586.2 450.9,577.4 451.4,588.4 451.9,577 452.4,545.2 452.9,587.3 453.4,598.5 453.9,593.9 454.4,599.2 454.9,579.9 455.4,601.8 455.9,597.2 456.4,594.7 456.9,587.6 457.4,539.2 457.9,576.2 458.4,566.9 458.9,593.5 459.4,587.1 459.9,596.4 460.4,603.7 460.9,589.3 461.4,603.2 461.9,603.8 462.4,596.8 462.9,605.4 463.4,584.1 463.9,594.2 464.4,590.5 464.9,590 465.4,596.5 465.9,590.3 466.4,585.6 466.9,586.3 467.4,591.9 467.9,601.5 468.4,597 468.9,599.6 469.4,603.1 469.9,596.3 470.4,605 470.9,603.1 471.4,597.8 471.9,605.9 472.4,605.6 472.9,610.1 473.4,613.5 473.9,577.3 474.4,610.8 474.9,611.6 475.4,614.7 475.9,616.1 476.4,612.7 476.9,612.6 477.4,615.7 477.9,612.6 478.4,616.3 478.9,614.5 479.4,616.3 479.9,616.3 480.4,616.4 480.9,614.2 481.4,608.9 481.9,609.8 482.4,615.2 482.9,608 483.4,601.8 483.9,597.6 484.4,607.7 484.9,607.2 485.4,592 485.9,601.8 486.4,592.4 486.9,595.2 487.4,601.9 487.9,585.3 488.4,597.3 488.9,599.7 489.4,551.2 489.9,605.2 490.4,596.9 490.9,602.1 491.4,518.1 491.9,599.9 492.4,596.3 492.9,599.5 493.4,602.5 493.9,596.3 494.4,604.1 494.9,600.4 495.4,592.2 495.9,603.3 496.4,592.4 496.9,603.4 497.4,600.7 497.9,597.7 498.4,599.6 498.9,597.8 499.4,602 499.9,536.2 500.4,596.3 500.9,595.4 501.4,607.9 501.9,601.6 502.4,606.6 502.9,601.4 503.4,608.2 503.9,611.1 504.4,610.2 504.9,601.8 505.4,609.7 505.9,513.1 506.4,611.4 506.9,605.5 507.4,609.6 507.9,603.8 508.4,611 508.9,599.9 509.4,609.6 509.9,611.6 510.4,615 510.9,615.6 511.4,610.8 511.9,614.5 512.4,616.9 512.9,616.7 513.4,612.3 513.9,614.8 514.4,615.7 514.9,597.4 515.4,601.3 515.9,561.2 516.4,607.2 516.9,592.1 517.4,585.1 517.9,598.6 518.4,589.9 518.9,594.3 519.4,588.4 519.9,588.6 520.4,585.4 520.9,597.3 521.4,592.1 521.9,594.5 522.4,529.2 522.9,581.5 523.4,573.3 523.9,543.1 524.4,594.9 524.9,571.1 525.4,534.4 525.9,577 526.4,591.9 526.9,579.2 527.4,576.6 527.9,577 528.4,541.3 528.9,593 529.4,592 529.9,591.3 530.4,594.4 530.9,584 531.4,599.4 531.9,585.2 532.4,604.3 532.9,601.9 533.4,566.3 533.9,603 534.4,599.4 534.9,595.5 535.4,589.2 535.9,604.2 536.4,592.5 536.9,599.1 537.4,605.6 537.9,600.9 538.4,601.3 538.9,572.3 539.4,610.9 539.9,611.4 540.4,611 540.9,608 541.4,609.2 541.9,614.4 542.4,609.8 542.9,614.9 543.4,614.7 543.9,615.1 544.4,615.5 544.9,614.3 545.4,611.9 545.9,615.4 546.4,612.3 546.9,613.9 547.4,615.8 547.9,617.3 548.4,595.3 548.9,612.6 549.4,610.7 549.9,601.4 550.4,610 550.9,615.2 551.4,612.9 551.9,612.9 552.4,529.2 552.9,611.3 553.4,606.1 553.9,612.6 554.4,563.2 554.9,602.7 555.4,610.1 555.9,603.9 556.4,606.6 556.9,609.6 557.4,600 557.9,599.5 558.4,607.4 558.9,608.9 559.4,610.7 559.9,603 560.4,609.6 560.9,604.9 561.4,609.8 561.9,596.1 562.4,602.3 562.9,597.2 563.4,603.4 563.9,597.7 564.4,551.2 564.9,602.6 565.4,591.5 565.9,584 566.4,601.9 566.9,594.6 567.4,603.2 567.9,596.4 568.4,605.3 568.9,604.1 569.4,596.7 569.9,604.2 570.4,529.2 570.9,605.1 571.4,600.5 571.9,607 572.4,584.6 572.9,606 573.4,599.5 573.9,606.8 574.4,607.3 574.9,599.2 575.4,600.6 575.9,603.3 576.4,599.7 576.9,599.8 577.4,607.1 577.9,601.7 578.4,606.8 578.9,604.9 579.4,596.2 579.9,606.6 580.4,541.2 580.9,600.7 581.4,608.8 581.9,614.6 582.4,616.2 582.9,616.2 583.4,616.1 583.9,616.9 584.4,614.3 584.9,607 585.4,613.4 585.9,603.1 586.4,525.1 586.9,600.8 587.4,583.8 587.9,602.6 588.4,598.8 588.9,599.2 589.4,571.8 589.9,596.7 590.4,602.4 590.9,601.9 591.4,593.2 591.9,600.7 592.4,586.9 592.9,599.5 593.4,585.7 593.9,593.9 594.4,587.1 594.9,572.4 595.4,524.1 595.9,586.2 596.4,575.4 596.9,586.3 597.4,582.8 597.9,592.4 598.4,593.2 598.9,592.9 599.4,582.6 599.9,588.6 600.4,595.4 600.9,575.5 601.4,596.4 601.9,554.2 602.4,601.6 602.9,604.3 603.4,574.2 603.9,597.9 604.4,606.2 604.9,605.8 605.4,607.2 605.9,606.6 606.4,603.8 606.9,597.7 607.4,605.9 607.9,607 608.4,607.5 608.9,591.9 609.4,598.1 609.9,599 610.4,605.4 610.9,608.8 611.4,589.3 611.9,607.3 612.4,609.8 612.9,609.4 613.4,604.8 613.9,606.4 614.4,592.3 614.9,603 615.4,605.8 615.9,608 616.4,598.9 616.9,608.2 617.4,596.1 617.9,604.7 618.4,524.1 618.9,596.7 619.4,599.1 619.9,607.9 620.4,600.8 620.9,608.7 621.4,611.7 621.9,612.9 622.4,607.4 622.9,611.6 623.4,607.6 623.9,610.8 624.4,607 624.9,604.1 625.4,599.2 625.9,609 626.4,592.1 626.9,602.9 627.4,602 627.9,595.2 628.4,548.2 628.9,598.2 629.4,600.5 629.9,602.4 630.4,601.7 630.9,596.9 631.4,600.9 631.9,607.5 632.4,607.3 632.9,604.5 633.4,520.1 633.9,606.3 634.4,570.8 634.9,604.4 635.4,596.8 635.9,590 636.4,587.4 636.9,593 637.4,595.9 637.9,593.8 638.4,596.5 638.9,595.7 639.4,601.9 639.9,604.8 640.4,603.1 640.9,604.2 641.4,602 641.9,599.1 642.4,601.5 642.9,595 643.4,589.7 643.9,550.2 644.4,592 644.9,594.6 645.4,593.7 645.9,593.3 646.4,595 646.9,593.7 647.4,605.4 647.9,598.7 648.4,602.4 648.9,605.9 649.4,600.8 649.9,518.1 650.4,596.6 650.9,607.1 651.4,603.7 651.9,607.6 652.4,552.2 652.9,614.3 653.4,613.4 653.9,611.9 654.4,608.3 654.9,615.2 655.4,608.8 655.9,611.4 656.4,591.1 656.9,604.6 657.4,596.6 657.9,598.4 658.4,585.4 658.9,584.9 659.4,585.5 659.9,556.2 660.4,592.4 660.9,567.7 661.4,560.1 661.9,581.8 662.4,565.8 662.9,590.9 663.4,593.7 663.9,568.8 664.4,593.4 664.9,595 665.4,595.2 665.9,508.1 666.4,589.9 666.9,589.7 667.4,590 667.9,592.1 668.4,568.2 668.9,579.4 669.4,549.3 669.9,567.3 670.4,568.7 670.9,594.8 671.4,569.9 671.9,585.1 672.4,598.1 672.9,597.6 673.4,591.7 673.9,595.2 674.4,594.5 674.9,598.7 675.4,598.3 675.9,595.2 676.4,599.1 676.9,598.2 677.4,601 L677.4,622.8 L677.4,644.6 676.9,647.4 676.4,646.5 675.9,650.4 675.4,647.3 674.9,646.9 674.4,651.1 673.9,650.4 673.4,653.9 672.9,648 672.4,647.5 671.9,660.5 671.4,675.7 670.9,650.8 670.4,676.9 669.9,678.3 669.4,696.3 668.9,666.2 668.4,677.4 667.9,653.5 667.4,655.6 666.9,655.9 666.4,655.7 665.9,737.5 665.4,650.4 664.9,650.6 664.4,652.2 663.9,676.8 663.4,651.9 662.9,654.7 662.4,679.8 661.9,663.8 661.4,685.5 660.9,677.9 660.4,653.2 659.9,689.4 659.4,660.1 658.9,660.7 658.4,660.2 657.9,647.2 657.4,649 656.9,641 656.4,654.5 655.9,634.2 655.4,636.8 654.9,630.4 654.4,637.3 653.9,633.7 653.4,632.2 652.9,631.3 652.4,693.4 651.9,638 651.4,641.9 650.9,638.5 650.4,649 649.9,727.5 649.4,644.8 648.9,639.7 648.4,643.2 647.9,646.9 647.4,640.2 646.9,651.9 646.4,650.6 645.9,652.3 645.4,651.9 644.9,651 644.4,653.6 643.9,695.4 643.4,655.9 642.9,650.6 642.4,644.1 641.9,646.5 641.4,643.6 640.9,641.4 640.4,642.5 639.9,640.8 639.4,643.7 638.9,649.9 638.4,649.1 637.9,651.8 637.4,649.7 636.9,652.6 636.4,658.2 635.9,655.6 635.4,648.8 634.9,641.2 634.4,674.8 633.9,639.3 633.4,725.5 632.9,641.1 632.4,638.3 631.9,638.1 631.4,644.7 630.9,648.7 630.4,643.9 629.9,643.2 629.4,645.1 628.9,647.4 628.4,697.4 627.9,650.4 627.4,643.6 626.9,642.7 626.4,653.5 625.9,636.6 625.4,646.4 624.9,641.5 624.4,638.6 623.9,634.8 623.4,638 622.9,634 622.4,638.2 621.9,632.7 621.4,633.9 620.9,636.9 620.4,644.8 619.9,637.7 619.4,646.5 618.9,648.9 618.4,721.5 617.9,640.9 617.4,649.5 616.9,637.4 616.4,646.7 615.9,637.6 615.4,639.8 614.9,642.6 614.4,653.3 613.9,639.2 613.4,640.8 612.9,636.2 612.4,635.8 611.9,638.3 611.4,656.3 610.9,636.8 610.4,640.2 609.9,646.6 609.4,647.5 608.9,653.7 608.4,638.1 607.9,638.6 607.4,639.7 606.9,647.9 606.4,641.8 605.9,639 605.4,638.4 604.9,639.8 604.4,639.4 603.9,647.7 603.4,671.4 602.9,641.3 602.4,644 601.9,691.4 601.4,649.2 600.9,670.1 600.4,650.2 599.9,657 599.4,663 598.9,652.7 598.4,652.4 597.9,653.2 597.4,662.8 596.9,659.3 596.4,670.2 595.9,659.4 595.4,721.5 594.9,673.2 594.4,658.5 593.9,651.7 593.4,659.9 592.9,646.1 592.4,658.7 591.9,644.9 591.4,652.4 590.9,643.7 590.4,643.2 589.9,648.9 589.4,673.8 588.9,646.4 588.4,646.8 587.9,643 587.4,661.8 586.9,644.8 586.4,720.5 585.9,642.5 585.4,632.2 584.9,638.6 584.4,631.3 583.9,628.7 583.4,629.5 582.9,629.4 582.4,629.4 581.9,631 581.4,636.8 580.9,644.9 580.4,704.4 579.9,639 579.4,649.4 578.9,640.7 578.4,638.8 577.9,643.9 577.4,638.5 576.9,645.8 576.4,645.9 575.9,642.3 575.4,645 574.9,646.4 574.4,638.3 573.9,638.8 573.4,646.1 572.9,639.6 572.4,661 571.9,638.6 571.4,645.1 570.9,640.5 570.4,716.4 569.9,641.4 569.4,648.9 568.9,641.5 568.4,640.3 567.9,649.2 567.4,642.4 566.9,651 566.4,643.7 565.9,661.6 565.4,654.1 564.9,643 564.4,694.4 563.9,647.9 563.4,642.2 562.9,648.4 562.4,643.3 561.9,649.5 561.4,635.8 560.9,640.7 560.4,636 559.9,642.6 559.4,634.9 558.9,636.7 558.4,638.2 557.9,646.1 557.4,645.6 556.9,636 556.4,639 555.9,641.7 555.4,635.5 554.9,642.9 554.4,682.4 553.9,633 553.4,639.5 552.9,634.3 552.4,716.4 551.9,632.7 551.4,632.7 550.9,630.4 550.4,635.6 549.9,644.2 549.4,634.9 548.9,633 548.4,650.3 547.9,628.3 547.4,629.8 546.9,631.7 546.4,633.3 545.9,630.2 545.4,633.7 544.9,631.3 544.4,630.1 543.9,630.5 543.4,630.9 542.9,630.7 542.4,635.8 541.9,631.2 541.4,636.4 540.9,637.6 540.4,634.6 539.9,634.2 539.4,634.7 538.9,673.3 538.4,644.3 537.9,644.7 537.4,640 536.9,646.5 536.4,653.1 535.9,641.4 535.4,656.4 534.9,650.1 534.4,646.2 533.9,642.6 533.4,679.3 532.9,643.7 532.4,641.3 531.9,660.4 531.4,646.2 530.9,661.6 530.4,651.2 529.9,654.3 529.4,653.6 528.9,652.6 528.4,704.3 527.9,668.6 527.4,669 526.9,666.4 526.4,653.7 525.9,668.6 525.4,711.2 524.9,674.5 524.4,650.7 523.9,702.5 523.4,672.3 522.9,664.1 522.4,716.4 521.9,651.1 521.4,653.5 520.9,648.3 520.4,660.2 519.9,657 519.4,657.2 518.9,651.3 518.4,655.7 517.9,647 517.4,660.5 516.9,653.5 516.4,638.4 515.9,684.4 515.4,644.3 514.9,648.2 514.4,629.9 513.9,630.8 513.4,633.3 512.9,628.9 512.4,628.7 511.9,631.1 511.4,634.8 510.9,630 510.4,630.6 509.9,634 509.4,636 508.9,645.7 508.4,634.6 507.9,641.8 507.4,636 506.9,640.1 506.4,634.2 505.9,732.5 505.4,635.9 504.9,643.8 504.4,635.4 503.9,634.5 503.4,637.4 502.9,644.2 502.4,639 501.9,644 501.4,637.7 500.9,650.2 500.4,649.3 499.9,709.4 499.4,643.6 498.9,647.8 498.4,646 497.9,647.9 497.4,644.9 496.9,642.2 496.4,653.2 495.9,642.3 495.4,653.4 494.9,645.2 494.4,641.5 493.9,649.3 493.4,643.1 492.9,646.1 492.4,649.3 491.9,645.7 491.4,727.5 490.9,643.5 490.4,648.7 489.9,640.4 489.4,694.4 488.9,645.9 488.4,648.3 487.9,660.3 487.4,643.7 486.9,650.4 486.4,653.2 485.9,643.8 485.4,653.6 484.9,638.4 484.4,637.9 483.9,648 483.4,643.8 482.9,637.6 482.4,630.4 481.9,635.8 481.4,636.7 480.9,631.4 480.4,629.2 479.9,629.3 479.4,629.3 478.9,631.1 478.4,629.3 477.9,633 477.4,629.9 476.9,633 476.4,632.9 475.9,629.5 475.4,630.9 474.9,634 474.4,634.8 473.9,668.3 473.4,632.1 472.9,635.5 472.4,640 471.9,639.7 471.4,647.8 470.9,642.5 470.4,640.6 469.9,649.3 469.4,642.5 468.9,646 468.4,648.6 467.9,644.1 467.4,653.7 466.9,659.3 466.4,660 465.9,655.3 465.4,649.1 464.9,655.6 464.4,655.1 463.9,651.4 463.4,661.5 462.9,640.2 462.4,648.8 461.9,641.8 461.4,642.4 460.9,656.3 460.4,641.9 459.9,649.2 459.4,658.5 458.9,652.1 458.4,678.7 457.9,669.4 457.4,706.4 456.9,658 456.4,650.9 455.9,648.4 455.4,643.8 454.9,665.7 454.4,646.4 453.9,651.7 453.4,647.1 452.9,658.3 452.4,700.4 451.9,668.6 451.4,657.2 450.9,668.2 450.4,659.4 449.9,656.2 449.4,651.2 448.9,639.3 448.4,646.2 447.9,630.3 447.4,629 446.9,629.8 446.4,628.8 445.9,628.5 445.4,638.9 444.9,629.4 444.4,632.2 443.9,633.9 443.4,642.8 442.9,637.8 442.4,645.8 441.9,645.3 441.4,637.2 440.9,724.5 440.4,636.3 439.9,639 439.4,640 438.9,660.9 438.4,636.7 437.9,643.8 437.4,643.7 436.9,639 436.4,648.3 435.9,639.1 435.4,645.2 434.9,708.4 434.4,648.7 433.9,644 433.4,643 432.9,639.7 432.4,651.6 431.9,648.4 431.4,650 430.9,663.1 430.4,637.8 429.9,642.1 429.4,658.4 428.9,644.3 428.4,645 427.9,640.6 427.4,656.2 426.9,641.1 426.4,644.4 425.9,638.2 425.4,646.3 424.9,643 424.4,717.4 423.9,643.9 423.4,641.3 422.9,642.3 422.4,668.5 421.9,651.4 421.4,646.2 420.9,646.8 420.4,637 419.9,649.8 419.4,670.3 418.9,638.1 418.4,645.3 417.9,644.7 417.4,648.6 416.9,643.9 416.4,641 415.9,635 415.4,634.8 414.9,631.3 414.4,634.7 413.9,630.1 413.4,630.6 412.9,632.1 412.4,634.9 411.9,629.4 411.4,696.4 410.9,632 410.4,634.1 409.9,632.2 409.4,636.5 408.9,635.7 408.4,637 407.9,631.4 407.4,701.4 406.9,631.1 406.4,636.6 405.9,631.6 405.4,631.7 404.9,643.9 404.4,631.3 403.9,633.9 403.4,633.4 402.9,630.8 402.4,631.7 401.9,637.1 401.4,632.4 400.9,634.3 400.4,645.3 399.9,633 399.4,636.1 398.9,639.9 398.4,647.2 397.9,647.5 397.4,672.2 396.9,659.2 396.4,651.2 395.9,754.5 395.4,645 394.9,645.2 394.4,643.8 393.9,660.2 393.4,646.9 392.9,641.1 392.4,642.5 391.9,680.3 391.4,646.5 390.9,653 390.4,660.4 389.9,659.2 389.4,646.9 388.9,655.9 388.4,665.7 387.9,664.9 387.4,652.9 386.9,649.4 386.4,650.2 385.9,663.2 385.4,645.9 384.9,654.6 384.4,652.2 383.9,646.5 383.4,656.7 382.9,679.3 382.4,657.2 381.9,664.4 381.4,650 380.9,649.2 380.4,650.4 379.9,648.7 379.4,653.9 378.9,643.4 378.4,662.2 377.9,644.7 377.4,671.2 376.9,644.5 376.4,653.3 375.9,661.6 375.4,708.4 374.9,663 374.4,643.8 373.9,656.5 373.4,641 372.9,651.1 372.4,637.7 371.9,641.7 371.4,642.4 370.9,641.6 370.4,638.6 369.9,651.7 369.4,702.4 368.9,640.1 368.4,654.5 367.9,657.1 367.4,644.1 366.9,650.7 366.4,658.2 365.9,640.2 365.4,663.5 364.9,659.4 364.4,700.4 363.9,642.3 363.4,646.9 362.9,662.6 362.4,653 361.9,654.1 361.4,642 360.9,643.3 360.4,651.7 359.9,640 359.4,700.4 358.9,652.3 358.4,637.4 357.9,651.6 357.4,639.7 356.9,638.4 356.4,635.8 355.9,637.8 355.4,641.4 354.9,641.1 354.4,653.8 353.9,656.8 353.4,696.4 352.9,646.5 352.4,649.1 351.9,658.9 351.4,650.6 350.9,671.5 350.4,651.7 349.9,649.8 349.4,653.6 348.9,642.6 348.4,656.7 347.9,650.3 347.4,644.1 346.9,653.4 346.4,648.9 345.9,649.2 345.4,652.6 344.9,647.9 344.4,642.8 343.9,638.8 343.4,686.4 342.9,642.7 342.4,641.3 341.9,640.5 341.4,653 340.9,650.2 340.4,642.5 339.9,649.6 339.4,642.9 338.9,642.9 338.4,647.4 337.9,639.3 337.4,639 336.9,642.9 336.4,638 335.9,637.1 335.4,635.9 334.9,632.6 334.4,636.5 333.9,630.1 333.4,639.3 332.9,629.3 332.4,634.9 331.9,630.9 331.4,633.9 330.9,632 330.4,630.4 329.9,634.8 329.4,632.8 328.9,649.3 328.4,643.2 327.9,637.5 327.4,639.7 326.9,673.3 326.4,652.8 325.9,639.6 325.4,638.5 324.9,650.2 324.4,639.3 323.9,652.4 323.4,644.3 322.9,641.3 322.4,641.4 321.9,642.4 321.4,648.2 320.9,642.4 320.4,651.2 319.9,643 319.4,659.8 318.9,642.7 318.4,657.2 317.9,665.8 317.4,652.2 316.9,648.9 316.4,655.6 315.9,644.1 315.4,643.5 314.9,648.3 314.4,663.1 313.9,655.4 313.4,652.1 312.9,657 312.4,650.4 311.9,700.4 311.4,661.5 310.9,658.6 310.4,653.6 309.9,687.1 309.4,664.3 308.9,656.5 308.4,687.3 307.9,681.3 307.4,709.4 306.9,686.7 306.4,685.9 305.9,690.2 305.4,681.3 304.9,704.4 304.4,664.9 303.9,666 303.4,658.7 302.9,652.4 302.4,649.1 301.9,650.7 301.4,643.8 300.9,644 300.4,647.3 299.9,640.2 299.4,636.6 298.9,633.3 298.4,631.9 297.9,631.8 297.4,630.7 296.9,631.1 296.4,633.6 295.9,633.5 295.4,709.4 294.9,644.5 294.4,637.8 293.9,631.6 293.4,634.2 292.9,633.9 292.4,630.7 291.9,631 291.4,635.9 290.9,630.4 290.4,632.5 289.9,632.8 289.4,639.4 288.9,712.4 288.4,637 287.9,654.8 287.4,639.9 286.9,645.1 286.4,648.1 285.9,649.3 285.4,641.6 284.9,642.6 284.4,646.7 283.9,643.5 283.4,652.4 282.9,644.5 282.4,647.7 281.9,649.3 281.4,662.5 280.9,660.4 280.4,655.3 279.9,658.8 279.4,645.4 278.9,653.2 278.4,729.5 277.9,646.8 277.4,661.6 276.9,659.1 276.4,668.9 275.9,648.2 275.4,656.5 274.9,658.3 274.4,660.1 273.9,665.5 273.4,674.3 272.9,662 272.4,655.6 271.9,644.6 271.4,660 270.9,640.9 270.4,652.2 269.9,648 269.4,642.5 268.9,641.4 268.4,634 267.9,634.5 267.4,629.9 266.9,644.4 266.4,637.8 265.9,633.1 265.4,631.6 264.9,634.7 264.4,636.3 263.9,632.7 263.4,633.2 262.9,693.4 262.4,634.2 261.9,631.1 261.4,631.9 260.9,637.3 260.4,643.6 259.9,632 259.4,633.7 258.9,634.3 258.4,633.1 257.9,634.8 257.4,654.3 256.9,634 256.4,635.8 255.9,634.9 255.4,629.8 254.9,637 254.4,630.8 253.9,630.3 253.4,635.7 252.9,641.4 252.4,629.2 251.9,630.2 251.4,630.6 250.9,630.9 250.4,631 249.9,631.9 249.4,632.7 248.9,632 248.4,645.2 247.9,635.6 247.4,632.1 246.9,638.6 246.4,695.4 245.9,635.4 245.4,633.1 244.9,632.9 244.4,633.5 243.9,643.7 243.4,638.2 242.9,644.3 242.4,640.3 241.9,639.5 241.4,638.2 240.9,637.4 240.4,672.3 239.9,639.4 239.4,666.7 238.9,640.6 238.4,655.8 237.9,658.5 237.4,641.2 236.9,647.3 236.4,638.4 235.9,638.8 235.4,646.9 234.9,658.5 234.4,646.5 233.9,650.6 233.4,650.9 232.9,641.5 232.4,654 231.9,644.1 231.4,653.2 230.9,648.2 230.4,719.5 229.9,649.2 229.4,648.3 228.9,658.5 228.4,654.5 227.9,650.5 227.4,643.9 226.9,651.5 226.4,641.1 225.9,652.8 225.4,648.9 224.9,646 224.4,638.7 223.9,710.4 223.4,635.5 222.9,635 222.4,639.3 221.9,631.3 221.4,641.2 220.9,633.2 220.4,633.1 219.9,632.8 219.4,628.8 218.9,630.4 218.4,627.6 217.9,627.9 217.4,630.1 216.9,640.3 216.4,630.8 215.9,631.9 215.4,635.5 214.9,640.1 214.4,637.5 213.9,648.3 213.4,710.4 212.9,642.5 212.4,648.2 211.9,657.8 211.4,643.2 210.9,655.9 210.4,643.6 209.9,649.1 209.4,658 208.9,649.7 208.4,660.1 207.9,647.6 207.4,686.4 206.9,649.2 206.4,657.2 205.9,669.8 205.4,712.4 204.9,658.1 204.4,651.7 203.9,659.8 203.4,646.8 202.9,647.3 202.4,665.8 201.9,663 201.4,656.2 200.9,654 200.4,649.2 199.9,646.3 199.4,639.1 198.9,642.9 198.4,655.2 197.9,640.6 197.4,720.5 196.9,654.8 196.4,649.5 195.9,658 195.4,643.3 194.9,645.9 194.4,639.4 193.9,638.6 193.4,654.6 192.9,646.8 192.4,640 191.9,638.7 191.4,639.9 190.9,643.2 190.4,638.4 189.9,637.8 189.4,634.6 188.9,634.5 188.4,630.6 187.9,633.2 187.4,633.2 186.9,635.1 186.4,629.4 185.9,635 185.4,634.6 184.9,644.4 184.4,636.3 183.9,633.7 183.4,640.6 182.9,637.2 182.4,641.7 181.9,659.1 181.4,696.4 180.9,639.6 180.4,641.8 179.9,652 179.4,660.1 178.9,646.7 178.4,644.1 177.9,651.2 177.4,659.3 176.9,699.4 176.4,647.7 175.9,675.9 175.4,647.9 174.9,645.9 174.4,665.9 173.9,655.7 173.4,647.8 172.9,655.1 172.4,647.7 171.9,658.8 171.4,644 170.9,657.7 170.4,643.4 169.9,645.6 169.4,640.1 168.9,644.3 168.4,660.6 167.9,656.5 167.4,650.7 166.9,652.1 166.4,652.5 165.9,657.9 165.4,661 164.9,648.3 164.4,711.4 163.9,643.9 163.4,652.4 162.9,642.9 162.4,641.4 161.9,644.7 161.4,647 160.9,641.2 160.4,639.1 159.9,639.1 159.4,645.4 158.9,643.4 158.4,705.4 157.9,639.5 157.4,650.5 156.9,641.4 156.4,635.7 155.9,650.1 155.4,639 154.9,636.9 154.4,635.8 153.9,634.6 153.4,632.1 152.9,633.5 152.4,628.5 151.9,629.9 151.4,635.1 150.9,632.9 150.4,634.6 149.9,630.9 149.4,632.4 148.9,638.4 148.4,695.4 147.9,632.5 147.4,635.2 146.9,633.1 146.4,632.5 145.9,633.2 145.4,634.7 144.9,632.6 144.4,633.2 143.9,635.5 143.4,636.3 142.9,636.8 142.4,645 141.9,691.4 141.4,646.7 140.9,642.8 140.4,638.2 139.9,643.1 139.4,638.6 138.9,636.5 138.4,646.3 137.9,639 137.4,647.8 136.9,639.5 136.4,637.7 135.9,638.2 135.4,636.4 134.9,636.4 134.4,646.2 133.9,640.5 133.4,639.8 132.9,642 132.4,711.4 131.9,642.3 131.4,644.6 130.9,652.7 130.4,643.4 129.9,644.8 129.4,643.5 Z" fill="#1f77b4" stroke="#1f77b4" stroke-width="0.9" stroke-linejoin="bevel"/>
<path d="M101.5,519.5h-3.4M101.5,571.2h-3.4M101.5,622.8h-3.4M101.5,674.4h-3.4M101.5,726.2h-3.4M129.4,767.2v3.4M266.5,767.2v3.4M403.5,767.2v3.4M540.5,767.2v3.4M677.6,767.2v3.4" stroke="#444" stroke-width="0.8" fill="none"/>
<g shape-rendering="crispEdges"><rect x="101" y="478" width="605" height="1" fill="#555"/><rect x="101" y="767" width="605" height="1" fill="#555"/><rect x="101" y="478" width="1" height="290" fill="#444"/><rect x="705" y="478" width="1" height="290" fill="#000"/></g>
<g class="tk" text-anchor="end">
<text x="95.6" y="527.4">0.04</text>
<text x="95.6" y="579.1">0.02</text>
<text x="95.6" y="630.7">0.00</text>
<text x="95.6" y="682.3">−0.02</text>
<text x="95.6" y="734.1">−0.04</text>
</g>
<g class="tk" text-anchor="middle">
<text x="129.4" y="790.0">0</text>
<text x="266.5" y="790.0">5</text>
<text x="403.5" y="790.0">10</text>
<text x="540.5" y="790.0">15</text>
<text x="677.6" y="790.0">20</text>
</g>
<text class="lb" text-anchor="middle" x="403.6" y="817.0">Time (sec)</text>
<text class="lb" text-anchor="middle" transform="translate(20.3,624.4) rotate(-90)">Amplitude (dB)</text>
</g>
<g>
<path d="M917.4,622.8 L917.4,587 917.9,596.6 918.4,580.3 918.9,607.2 919.4,577.7 919.9,595.7 920.4,586.9 920.9,580.1 921.4,552.2 921.9,608.1 922.4,586 922.9,607.6 923.4,601.2 923.9,604.7 924.4,605 924.9,607.4 925.4,595.7 925.9,607.7 926.4,600.1 926.9,606.4 927.4,591.6 927.9,592.6 928.4,608.7 928.9,574.2 929.4,582.4 929.9,602.4 930.4,607.7 930.9,613.4 931.4,612.1 931.9,610.2 932.4,609.2 932.9,613.1 933.4,610.9 933.9,608.6 934.4,611.4 934.9,605 935.4,615.1 935.9,609.2 936.4,611.2 936.9,613.6 937.4,602.9 937.9,610.3 938.4,609.2 938.9,605.1 939.4,608.7 939.9,613.6 940.4,611.1 940.9,603.7 941.4,611.3 941.9,610.3 942.4,608.4 942.9,612.4 943.4,602.7 943.9,578.3 944.4,599.1 944.9,607.7 945.4,595.6 945.9,609.2 946.4,608.1 946.9,610.4 947.4,600.6 947.9,606.8 948.4,608.5 948.9,612.9 949.4,609.5 949.9,577.3 950.4,610.3 950.9,608.4 951.4,600.3 951.9,598.8 952.4,610.3 952.9,585.7 953.4,610.6 953.9,607.6 954.4,612.6 954.9,602 955.4,607 955.9,612.4 956.4,607.6 956.9,603.8 957.4,602.9 957.9,610.3 958.4,611.4 958.9,606.2 959.4,601.8 959.9,606.7 960.4,611.5 960.9,605.1 961.4,600.6 961.9,595.5 962.4,591.7 962.9,609.7 963.4,599.4 963.9,605 964.4,600.4 964.9,610.2 965.4,602.1 965.9,610.5 966.4,612.9 966.9,599.1 967.4,613.5 967.9,613 968.4,585.3 968.9,613.5 969.4,610.9 969.9,609.8 970.4,602.1 970.9,609.8 971.4,599.1 971.9,602.4 972.4,600.3 972.9,606.5 973.4,608.9 973.9,607.5 974.4,585.3 974.9,609.9 975.4,615.6 975.9,587.3 976.4,598.1 976.9,601.8 977.4,598.1 977.9,595.3 978.4,589.5 978.9,575.7 979.4,558.2 979.9,558.4 980.4,603.2 980.9,588.9 981.4,607 981.9,601.9 982.4,603.4 982.9,605.1 983.4,600.8 983.9,607.5 984.4,587.6 984.9,601.4 985.4,564.2 985.9,574.7 986.4,601 986.9,598.5 987.4,590.9 987.9,599.6 988.4,605.3 988.9,603.4 989.4,606.3 989.9,603.9 990.4,585 990.9,577.3 991.4,608.5 991.9,591.1 992.4,584.5 992.9,582 993.4,600.5 993.9,603.6 994.4,576.3 994.9,602.7 995.4,597.9 995.9,577.6 996.4,582.2 996.9,579.4 997.4,491.1 997.9,589.2 998.4,602.4 998.9,603.9 999.4,587.1 999.9,594.7 1000.4,606.8 1000.9,582.9 1001.4,575.3 1001.9,584.8 1002.4,588.8 1002.9,581.9 1003.4,607.7 1003.9,610.8 1004.4,606 1004.9,592.5 1005.4,593.9 1005.9,587 1006.4,609.7 1006.9,589.7 1007.4,598.8 1007.9,593.2 1008.4,599.1 1008.9,606.4 1009.4,612 1009.9,606 1010.4,578.3 1010.9,595 1011.4,599.6 1011.9,602.8 1012.4,608.1 1012.9,598.3 1013.4,584.9 1013.9,606.5 1014.4,602.6 1014.9,604.8 1015.4,612.3 1015.9,602.1 1016.4,610.6 1016.9,603.7 1017.4,612 1017.9,609.2 1018.4,605.7 1018.9,610.7 1019.4,609 1019.9,580.9 1020.4,602.6 1020.9,578.9 1021.4,606.1 1021.9,612.1 1022.4,580.3 1022.9,611.9 1023.4,610.7 1023.9,601.2 1024.4,579.8 1024.9,598.2 1025.4,601.5 1025.9,569.2 1026.4,547.2 1026.9,587.7 1027.4,579.8 1027.9,584.2 1028.4,601 1028.9,607 1029.4,609.4 1029.9,612 1030.4,584.2 1030.9,608.6 1031.4,600.1 1031.9,609.3 1032.4,609.3 1032.9,605.1 1033.4,589.3 1033.9,613 1034.4,606.6 1034.9,584.3 1035.4,612 1035.9,612.5 1036.4,612.6 1036.9,603.4 1037.4,603.5 1037.9,601.2 1038.4,601.1 1038.9,596.3 1039.4,608.5 1039.9,598.7 1040.4,603.5 1040.9,601.3 1041.4,608.8 1041.9,588.1 1042.4,592.7 1042.9,593.2 1043.4,601.5 1043.9,602.3 1044.4,587.3 1044.9,581.8 1045.4,547.2 1045.9,601.7 1046.4,563.2 1046.9,586.4 1047.4,535.2 1047.9,576.1 1048.4,569.3 1048.9,559.9 1049.4,583.2 1049.9,515.1 1050.4,558.7 1050.9,592.2 1051.4,600.6 1051.9,575.8 1052.4,563.2 1052.9,585 1053.4,589.1 1053.9,599.6 1054.4,566.6 1054.9,576 1055.4,607.1 1055.9,605.7 1056.4,581.6 1056.9,594.7 1057.4,594.4 1057.9,602.8 1058.4,572.3 1058.9,608.4 1059.4,589.3 1059.9,597.2 1060.4,604.9 1060.9,580.9 1061.4,592.4 1061.9,601.6 1062.4,591.9 1062.9,569.3 1063.4,605 1063.9,609.7 1064.4,597.5 1064.9,610.4 1065.4,611.7 1065.9,614.2 1066.4,612.1 1066.9,602.7 1067.4,606.7 1067.9,595.6 1068.4,611.6 1068.9,600.3 1069.4,584 1069.9,604.3 1070.4,595 1070.9,603.8 1071.4,597.1 1071.9,597.3 1072.4,582.7 1072.9,602.5 1073.4,593.9 1073.9,514.1 1074.4,574.6 1074.9,549.7 1075.4,534.2 1075.9,587.2 1076.4,593.6 1076.9,601 1077.4,539.2 1077.9,572.9 1078.4,586.5 1078.9,599.3 1079.4,601.7 1079.9,583 1080.4,585.4 1080.9,581.8 1081.4,606.7 1081.9,606.8 1082.4,598.5 1082.9,589.3 1083.4,525.1 1083.9,594.7 1084.4,596.8 1084.9,603.2 1085.4,615.3 1085.9,610.7 1086.4,610.2 1086.9,607.3 1087.4,608 1087.9,603.3 1088.4,601.2 1088.9,604.2 1089.4,610.3 1089.9,612.2 1090.4,608.9 1090.9,611.4 1091.4,606.6 1091.9,610.6 1092.4,589.3 1092.9,594.5 1093.4,605.9 1093.9,599.4 1094.4,596.5 1094.9,604.9 1095.4,606 1095.9,600.5 1096.4,610.7 1096.9,605.9 1097.4,562.8 1097.9,573.4 1098.4,597.9 1098.9,559.8 1099.4,586.3 1099.9,534.2 1100.4,567.9 1100.9,569.8 1101.4,566.5 1101.9,578.1 1102.4,596.3 1102.9,578 1103.4,551.2 1103.9,568.8 1104.4,567.7 1104.9,567.8 1105.4,596.7 1105.9,594.8 1106.4,586.1 1106.9,607 1107.4,597.3 1107.9,606.2 1108.4,573.9 1108.9,610.5 1109.4,602.8 1109.9,588.6 1110.4,557.2 1110.9,601.6 1111.4,596.9 1111.9,599.6 1112.4,593.8 1112.9,584.6 1113.4,607.7 1113.9,609.1 1114.4,598 1114.9,606.7 1115.4,592.1 1115.9,603.2 1116.4,522.1 1116.9,605.6 1117.4,610.5 1117.9,610 1118.4,559.2 1118.9,602.1 1119.4,582.6 1119.9,609.9 1120.4,606.4 1120.9,606.6 1121.4,602 1121.9,607.4 1122.4,608.1 1122.9,607.1 1123.4,609.1 1123.9,601.3 1124.4,604.5 1124.9,591.3 1125.4,598.7 1125.9,608 1126.4,599.4 1126.9,615.2 1127.4,613.5 1127.9,611.7 1128.4,605.5 1128.9,615 1129.4,611.5 1129.9,604.2 1130.4,608.4 1130.9,609.3 1131.4,611.6 1131.9,607.3 1132.4,561.4 1132.9,597.9 1133.4,592.8 1133.9,586.8 1134.4,576.5 1134.9,539.2 1135.4,571.3 1135.9,577.3 1136.4,588.4 1136.9,581.5 1137.4,598.6 1137.9,595.2 1138.4,582.5 1138.9,572.8 1139.4,595.6 1139.9,602.5 1140.4,602 1140.9,601.8 1141.4,593.8 1141.9,593 1142.4,594.5 1142.9,602.1 1143.4,605 1143.9,613.4 1144.4,613.5 1144.9,609.7 1145.4,614.9 1145.9,613.4 1146.4,612.6 1146.9,609.6 1147.4,605.3 1147.9,610.2 1148.4,612.4 1148.9,610.7 1149.4,604.1 1149.9,612.1 1150.4,611.8 1150.9,611.1 1151.4,592.6 1151.9,602.5 1152.4,554.2 1152.9,591.5 1153.4,607 1153.9,591.8 1154.4,605.4 1154.9,577 1155.4,554.1 1155.9,580 1156.4,592.2 1156.9,596.3 1157.4,549.4 1157.9,537.7 1158.4,575.7 1158.9,534.2 1159.4,568.5 1159.9,595.1 1160.4,571.6 1160.9,571.2 1161.4,587.3 1161.9,577.3 1162.4,590.2 1162.9,612.6 1163.4,601.9 1163.9,599 1164.4,599.1 1164.9,602.2 1165.4,612.8 1165.9,608.9 1166.4,614 1166.9,605.6 1167.4,612.8 1167.9,604.6 1168.4,609.3 1168.9,614.4 1169.4,604.5 1169.9,610.9 1170.4,606 1170.9,605.6 1171.4,592.6 1171.9,605.7 1172.4,598.6 1172.9,607.4 1173.4,596.5 1173.9,610.3 1174.4,598.6 1174.9,586.6 1175.4,585.8 1175.9,606.8 1176.4,596.8 1176.9,605.9 1177.4,602.6 1177.9,569.9 1178.4,550.2 1178.9,576.2 1179.4,598.2 1179.9,601.9 1180.4,603.5 1180.9,605.5 1181.4,590.3 1181.9,601 1182.4,525.6 1182.9,585 1183.4,593.6 1183.9,581.7 1184.4,568.7 1184.9,513.1 1185.4,554.6 1185.9,562.8 1186.4,563.7 1186.9,578.3 1187.4,588.7 1187.9,576.6 1188.4,591 1188.9,586.8 1189.4,583.1 1189.9,603.4 1190.4,609.2 1190.9,604.5 1191.4,611.1 1191.9,605.2 1192.4,597.6 1192.9,609.5 1193.4,592 1193.9,597.1 1194.4,607.4 1194.9,588.2 1195.4,604.3 1195.9,593.7 1196.4,585.6 1196.9,597.1 1197.4,606.9 1197.9,601.3 1198.4,584.7 1198.9,605.5 1199.4,569.4 1199.9,594.1 1200.4,592.6 1200.9,610.8 1201.4,611.6 1201.9,605.8 1202.4,601.4 1202.9,593.7 1203.4,595.9 1203.9,606.3 1204.4,592.8 1204.9,576.2 1205.4,524.1 1205.9,567.3 1206.4,528.6 1206.9,576.7 1207.4,562.1 1207.9,552.1 1208.4,587.6 1208.9,579.8 1209.4,570.3 1209.9,549.6 1210.4,510.1 1210.9,571.9 1211.4,584.8 1211.9,596.4 1212.4,600.5 1212.9,605 1213.4,596.4 1213.9,607.8 1214.4,605.8 1214.9,548.2 1215.4,608.7 1215.9,590.8 1216.4,609.3 1216.9,589.7 1217.4,608.3 1217.9,606.8 1218.4,610.9 1218.9,601.4 1219.4,604.7 1219.9,610.1 1220.4,611.1 1220.9,613 1221.4,611.5 1221.9,611.5 1222.4,613.9 1222.9,605.7 1223.4,612.8 1223.9,615.4 1224.4,589.3 1224.9,596.9 1225.4,609.2 1225.9,610.1 1226.4,613.3 1226.9,608.9 1227.4,611.6 1227.9,615.6 1228.4,612.3 1228.9,609.3 1229.4,609.5 1229.9,611.9 1230.4,607.8 1230.9,607.8 1231.4,615.7 1231.9,614.7 1232.4,611.1 1232.9,606.5 1233.4,610 1233.9,610 1234.4,594.7 1234.9,607.3 1235.4,607 1235.9,611.7 1236.4,610.6 1236.9,611.8 1237.4,598.6 1237.9,587.3 1238.4,599.7 1238.9,606.2 1239.4,599.5 1239.9,610.8 1240.4,609.7 1240.9,603.6 1241.4,608.9 1241.9,609.1 1242.4,594.3 1242.9,611.2 1243.4,607.5 1243.9,599.5 1244.4,609.5 1244.9,592.4 1245.4,608.9 1245.9,599.5 1246.4,594.3 1246.9,601.6 1247.4,592.3 1247.9,603.4 1248.4,592.7 1248.9,604.8 1249.4,565.3 1249.9,607 1250.4,603.8 1250.9,603.4 1251.4,578 1251.9,597.5 1252.4,580.4 1252.9,585.5 1253.4,604.9 1253.9,597.6 1254.4,588.5 1254.9,604.4 1255.4,596.8 1255.9,564.7 1256.4,589.7 1256.9,602 1257.4,605.8 1257.9,607.6 1258.4,598.4 1258.9,583.9 1259.4,571.3 1259.9,589.3 1260.4,602.4 1260.9,604.9 1261.4,588.3 1261.9,585 1262.4,607.5 1262.9,591.1 1263.4,570.2 1263.9,601.7 1264.4,600.4 1264.9,605.2 1265.4,587.7 1265.9,600.6 1266.4,600.1 1266.9,599.6 1267.4,601.1 1267.9,606.1 1268.4,602.2 1268.9,597.4 1269.4,590.4 1269.9,578.1 1270.4,572.5 1270.9,547.6 1271.4,589.8 1271.9,533.2 1272.4,564.2 1272.9,553.2 1273.4,516.1 1273.9,562.9 1274.4,557.4 1274.9,548.3 1275.4,539.6 1275.9,531.8 1276.4,556.6 1276.9,586.5 1277.4,567.4 1277.9,556.7 1278.4,535.3 1278.9,543.8 1279.4,585.4 1279.9,583.1 1280.4,573.7 1280.9,599.3 1281.4,591.9 1281.9,592.8 1282.4,571.4 1282.9,599.7 1283.4,602.8 1283.9,601.7 1284.4,567.3 1284.9,603 1285.4,602.8 1285.9,571.7 1286.4,597.6 1286.9,605.5 1287.4,606.2 1287.9,610 1288.4,597.9 1288.9,611.8 1289.4,613.8 1289.9,606 1290.4,609.8 1290.9,609 1291.4,609.8 1291.9,596.8 1292.4,607.1 1292.9,609.7 1293.4,605.7 1293.9,608.9 1294.4,612.2 1294.9,612.3 1295.4,603.2 1295.9,611.3 1296.4,607.3 1296.9,600.5 1297.4,609.6 1297.9,614.8 1298.4,602.4 1298.9,594.5 1299.4,577.2 1299.9,599 1300.4,552 1300.9,566.5 1301.4,510.7 1301.9,547.6 1302.4,533.8 1302.9,566.1 1303.4,555 1303.9,583.8 1304.4,552.6 1304.9,583.4 1305.4,585.6 1305.9,547.8 1306.4,550.9 1306.9,574.4 1307.4,575.8 1307.9,589.7 1308.4,600.7 1308.9,606.1 1309.4,603 1309.9,578.4 1310.4,589.6 1310.9,604.5 1311.4,596.5 1311.9,611.4 1312.4,604.6 1312.9,608.9 1313.4,602 1313.9,610.1 1314.4,604.3 1314.9,609.7 1315.4,599 1315.9,607.9 1316.4,610.2 1316.9,612.5 1317.4,599.1 1317.9,609.8 1318.4,609.4 1318.9,607.4 1319.4,612 1319.9,613.6 1320.4,605.2 1320.9,607.2 1321.4,604.4 1321.9,560.2 1322.4,611.9 1322.9,605.1 1323.4,594.2 1323.9,607.6 1324.4,599.8 1324.9,609.5 1325.4,606.6 1325.9,610.9 1326.4,606.7 1326.9,604.3 1327.4,610 1327.9,600.4 1328.4,609.9 1328.9,612.7 1329.4,609.7 1329.9,611.1 1330.4,594.2 1330.9,589.7 1331.4,549.2 1331.9,602 1332.4,583.8 1332.9,538.8 1333.4,587 1333.9,578 1334.4,567.6 1334.9,603.8 1335.4,605.9 1335.9,592.5 1336.4,610.2 1336.9,609.4 1337.4,590.7 1337.9,578.7 1338.4,611.5 1338.9,609.9 1339.4,599.9 1339.9,608.5 1340.4,602.5 1340.9,613.5 1341.4,600.8 1341.9,614.1 1342.4,598.8 1342.9,575.3 1343.4,605.7 1343.9,605.7 1344.4,606.2 1344.9,610.2 1345.4,609.4 1345.9,600.6 1346.4,608.3 1346.9,584.9 1347.4,609.6 1347.9,610.4 1348.4,594.2 1348.9,604.5 1349.4,611.7 1349.9,599.7 1350.4,594.3 1350.9,594 1351.4,599.4 1351.9,599 1352.4,607.3 1352.9,599.8 1353.4,597.6 1353.9,610.1 1354.4,610.3 1354.9,599.2 1355.4,586.1 1355.9,601 1356.4,563.2 1356.9,590.2 1357.4,608.7 1357.9,611.9 1358.4,590.5 1358.9,600.5 1359.4,585.8 1359.9,606.5 1360.4,608.7 1360.9,606.5 1361.4,592.9 1361.9,610.1 1362.4,610.8 1362.9,592.5 1363.4,589.5 1363.9,596.7 1364.4,609.7 1364.9,609 1365.4,608.4 1365.9,592.1 1366.4,595.6 1366.9,604.3 1367.4,555.2 1367.9,607.8 1368.4,605.6 1368.9,609.3 1369.4,573.3 1369.9,603.9 1370.4,611.3 1370.9,596.8 1371.4,589.7 1371.9,591.5 1372.4,610.6 1372.9,610.5 1373.4,609.3 1373.9,607.5 1374.4,610.9 1374.9,608.2 1375.4,608.8 1375.9,600.1 1376.4,597.9 1376.9,610.3 1377.4,588.7 1377.9,610.6 1378.4,593.7 1378.9,603.1 1379.4,608.9 1379.9,598.2 1380.4,581.3 1380.9,600.2 1381.4,610.8 1381.9,611.8 1382.4,610.4 1382.9,611.5 1383.4,614.1 1383.9,609 1384.4,615.6 1384.9,606.6 1385.4,614.1 1385.9,615.2 1386.4,608.7 1386.9,614.3 1387.4,615.5 1387.9,613.9 1388.4,609.9 1388.9,613.7 1389.4,603.4 1389.9,562.5 1390.4,609.5 1390.9,597.7 1391.4,531.2 1391.9,608.5 1392.4,568.7 1392.9,604.5 1393.4,603.1 1393.9,512.1 1394.4,594.6 1394.9,579.6 1395.4,604.7 1395.9,590.3 1396.4,604.7 1396.9,606 1397.4,598.1 1397.9,576 1398.4,602.4 1398.9,607 1399.4,537.2 1399.9,581.8 1400.4,578.9 1400.9,600.2 1401.4,591.2 1401.9,588.2 1402.4,584.9 1402.9,583.5 1403.4,554.2 1403.9,594.3 1404.4,600.1 1404.9,589.7 1405.4,600.3 1405.9,582.8 1406.4,567.3 1406.9,594.4 1407.4,605.6 1407.9,599.7 1408.4,605.3 1408.9,586.8 1409.4,603.8 1409.9,603.1 1410.4,612.7 1410.9,601.9 1411.4,599.9 1411.9,607.2 1412.4,612.9 1412.9,611 1413.4,614.7 1413.9,612.3 1414.4,613.4 1414.9,612.5 1415.4,610.9 1415.9,610.6 1416.4,611.2 1416.9,614.4 1417.4,614.1 1417.9,606.9 1418.4,612.3 1418.9,612.6 1419.4,613.7 1419.9,609.4 1420.4,578.3 1420.9,610.6 1421.4,613.2 1421.9,613.4 1422.4,614.7 1422.9,611.1 1423.4,609.6 1423.9,609.5 1424.4,615.1 1424.9,609.2 1425.4,611.7 1425.9,615.1 1426.4,605.3 1426.9,612.9 1427.4,600 1427.9,567.6 1428.4,590 1428.9,563.8 1429.4,574.8 1429.9,580 1430.4,536.2 1430.9,562.7 1431.4,572.2 1431.9,599.1 1432.4,588.3 1432.9,578 1433.4,532.2 1433.9,585.9 1434.4,595.1 1434.9,583.4 1435.4,601.7 1435.9,583.6 1436.4,602.9 1436.9,575 1437.4,601.3 1437.9,580.3 1438.4,586.1 1438.9,598.4 1439.4,565 1439.9,534.2 1440.4,588.5 1440.9,587.8 1441.4,570.2 1441.9,578 1442.4,586.2 1442.9,561.5 1443.4,555.6 1443.9,597.7 1444.4,567.8 1444.9,498.1 1445.4,574.7 1445.9,597.9 1446.4,604.7 1446.9,577.6 1447.4,594 1447.9,600.7 1448.4,610.1 1448.9,609.8 1449.4,598.3 1449.9,602.1 1450.4,611 1450.9,604.8 1451.4,605.9 1451.9,601.7 1452.4,608.4 1452.9,607.3 1453.4,603.5 1453.9,607.4 1454.4,602 1454.9,604.2 1455.4,578.2 1455.9,574.3 1456.4,584.3 1456.9,598.5 1457.4,598.4 1457.9,600.9 1458.4,609 1458.9,578.3 1459.4,584.7 1459.9,605.9 1460.4,611.3 1460.9,611.5 1461.4,611.8 1461.9,611.5 1462.4,594.9 1462.9,590.5 1463.4,601 1463.9,594.5 1464.4,596 1464.9,594 1465.4,581.1 1465.9,596.5 1466.4,613 L1466.4,622.8 L1466.4,632.6 1465.9,649.1 1465.4,664.5 1464.9,651.6 1464.4,649.6 1463.9,651.1 1463.4,644.6 1462.9,655.1 1462.4,650.7 1461.9,634.1 1461.4,633.8 1460.9,634.1 1460.4,634.3 1459.9,639.7 1459.4,660.9 1458.9,667.3 1458.4,636.6 1457.9,644.7 1457.4,647.2 1456.9,647.1 1456.4,661.3 1455.9,671.3 1455.4,667.4 1454.9,641.4 1454.4,643.6 1453.9,638.2 1453.4,642.1 1452.9,638.3 1452.4,637.2 1451.9,643.9 1451.4,639.7 1450.9,640.8 1450.4,634.6 1449.9,643.5 1449.4,647.3 1448.9,635.8 1448.4,635.5 1447.9,644.9 1447.4,651.6 1446.9,668 1446.4,640.9 1445.9,647.7 1445.4,670.9 1444.9,747.5 1444.4,677.8 1443.9,647.9 1443.4,690 1442.9,684.1 1442.4,659.4 1441.9,667.6 1441.4,675.4 1440.9,657.8 1440.4,657.1 1439.9,711.4 1439.4,680.6 1438.9,647.2 1438.4,659.5 1437.9,665.3 1437.4,644.3 1436.9,670.6 1436.4,642.7 1435.9,662 1435.4,643.9 1434.9,662.2 1434.4,650.5 1433.9,659.7 1433.4,713.4 1432.9,667.6 1432.4,657.3 1431.9,646.5 1431.4,673.4 1430.9,682.9 1430.4,709.4 1429.9,665.6 1429.4,670.8 1428.9,681.8 1428.4,655.6 1427.9,678 1427.4,645.6 1426.9,632.7 1426.4,640.3 1425.9,630.5 1425.4,633.9 1424.9,636.4 1424.4,630.5 1423.9,636.1 1423.4,636 1422.9,634.5 1422.4,630.9 1421.9,632.2 1421.4,632.4 1420.9,635 1420.4,667.3 1419.9,636.2 1419.4,631.9 1418.9,633 1418.4,633.3 1417.9,638.7 1417.4,631.5 1416.9,631.2 1416.4,634.4 1415.9,635 1415.4,634.7 1414.9,633.1 1414.4,632.2 1413.9,633.3 1413.4,630.9 1412.9,634.6 1412.4,632.7 1411.9,638.4 1411.4,645.7 1410.9,643.7 1410.4,632.9 1409.9,642.5 1409.4,641.8 1408.9,658.8 1408.4,640.3 1407.9,645.9 1407.4,640 1406.9,651.2 1406.4,678.3 1405.9,662.8 1405.4,645.3 1404.9,655.9 1404.4,645.5 1403.9,651.3 1403.4,691.4 1402.9,662.1 1402.4,660.7 1401.9,657.4 1401.4,654.4 1400.9,645.4 1400.4,666.7 1399.9,663.8 1399.4,708.4 1398.9,638.6 1398.4,643.2 1397.9,669.6 1397.4,647.5 1396.9,639.6 1396.4,640.9 1395.9,655.3 1395.4,640.9 1394.9,666 1394.4,651 1393.9,733.5 1393.4,642.5 1392.9,641.1 1392.4,676.9 1391.9,637.1 1391.4,714.4 1390.9,647.9 1390.4,636.1 1389.9,683.1 1389.4,642.2 1388.9,631.9 1388.4,635.7 1387.9,631.7 1387.4,630.1 1386.9,631.3 1386.4,636.9 1385.9,630.4 1385.4,631.5 1384.9,639 1384.4,630 1383.9,636.6 1383.4,631.5 1382.9,634.1 1382.4,635.2 1381.9,633.8 1381.4,634.8 1380.9,645.4 1380.4,664.3 1379.9,647.4 1379.4,636.7 1378.9,642.5 1378.4,651.9 1377.9,635 1377.4,656.9 1376.9,635.3 1376.4,647.7 1375.9,645.5 1375.4,636.8 1374.9,637.4 1374.4,634.7 1373.9,638.1 1373.4,636.3 1372.9,635.1 1372.4,635 1371.9,654.1 1371.4,655.9 1370.9,648.8 1370.4,634.3 1369.9,641.7 1369.4,672.3 1368.9,636.3 1368.4,640 1367.9,637.8 1367.4,690.4 1366.9,641.3 1366.4,650 1365.9,653.5 1365.4,637.2 1364.9,636.6 1364.4,635.9 1363.9,648.9 1363.4,656.1 1362.9,653.1 1362.4,634.8 1361.9,635.5 1361.4,652.7 1360.9,639.1 1360.4,636.9 1359.9,639.1 1359.4,659.8 1358.9,645.1 1358.4,655.1 1357.9,633.7 1357.4,636.9 1356.9,655.4 1356.4,682.4 1355.9,644.6 1355.4,659.5 1354.9,646.4 1354.4,635.3 1353.9,635.5 1353.4,648 1352.9,645.8 1352.4,638.3 1351.9,646.6 1351.4,646.2 1350.9,651.6 1350.4,651.3 1349.9,645.9 1349.4,633.9 1348.9,641.1 1348.4,651.4 1347.9,635.2 1347.4,636 1346.9,660.7 1346.4,637.3 1345.9,645 1345.4,636.2 1344.9,635.4 1344.4,639.4 1343.9,639.9 1343.4,639.9 1342.9,670.3 1342.4,646.8 1341.9,631.5 1341.4,644.8 1340.9,632.1 1340.4,643.1 1339.9,637.1 1339.4,645.7 1338.9,635.7 1338.4,634.1 1337.9,666.9 1337.4,654.9 1336.9,636.2 1336.4,635.4 1335.9,653.1 1335.4,639.7 1334.9,641.8 1334.4,678 1333.9,667.6 1333.4,658.6 1332.9,706.8 1332.4,661.8 1331.9,643.6 1331.4,696.4 1330.9,655.9 1330.4,651.4 1329.9,634.5 1329.4,635.9 1328.9,632.9 1328.4,635.7 1327.9,645.2 1327.4,635.6 1326.9,641.3 1326.4,638.9 1325.9,634.7 1325.4,639 1324.9,636.1 1324.4,645.8 1323.9,638 1323.4,651.4 1322.9,640.5 1322.4,633.7 1321.9,685.4 1321.4,641.2 1320.9,638.4 1320.4,640.4 1319.9,632 1319.4,633.6 1318.9,638.2 1318.4,636.2 1317.9,635.8 1317.4,646.5 1316.9,633.1 1316.4,635.4 1315.9,637.7 1315.4,646.6 1314.9,635.9 1314.4,641.3 1313.9,635.5 1313.4,643.6 1312.9,636.7 1312.4,641 1311.9,634.2 1311.4,649.1 1310.9,641.1 1310.4,656 1309.9,667.2 1309.4,642.6 1308.9,639.5 1308.4,644.9 1307.9,655.9 1307.4,669.8 1306.9,671.2 1306.4,694.7 1305.9,697.8 1305.4,660 1304.9,662.2 1304.4,693 1303.9,661.8 1303.4,690.6 1302.9,679.5 1302.4,711.8 1301.9,698 1301.4,734.9 1300.9,679.1 1300.4,693.6 1299.9,646.6 1299.4,668.4 1298.9,651.1 1298.4,643.2 1297.9,630.8 1297.4,636 1296.9,645.1 1296.4,638.3 1295.9,634.3 1295.4,642.4 1294.9,633.3 1294.4,633.4 1293.9,636.7 1293.4,639.9 1292.9,635.9 1292.4,638.5 1291.9,648.8 1291.4,635.8 1290.9,636.6 1290.4,635.8 1289.9,639.6 1289.4,631.8 1288.9,633.8 1288.4,647.7 1287.9,635.6 1287.4,639.4 1286.9,640.1 1286.4,648 1285.9,673.9 1285.4,642.8 1284.9,642.6 1284.4,678.3 1283.9,643.9 1283.4,642.8 1282.9,645.9 1282.4,674.2 1281.9,652.8 1281.4,653.7 1280.9,646.3 1280.4,671.9 1279.9,662.5 1279.4,660.2 1278.9,701.8 1278.4,710.3 1277.9,688.9 1277.4,678.2 1276.9,659.1 1276.4,689 1275.9,713.8 1275.4,706 1274.9,697.3 1274.4,688.2 1273.9,682.7 1273.4,729.5 1272.9,692.4 1272.4,681.4 1271.9,712.4 1271.4,655.8 1270.9,698 1270.4,673.1 1269.9,667.5 1269.4,655.2 1268.9,648.2 1268.4,643.4 1267.9,639.5 1267.4,644.5 1266.9,646 1266.4,645.5 1265.9,645 1265.4,657.9 1264.9,640.4 1264.4,645.2 1263.9,643.9 1263.4,675.4 1262.9,654.5 1262.4,638.1 1261.9,660.6 1261.4,657.3 1260.9,640.7 1260.4,643.2 1259.9,656.3 1259.4,674.3 1258.9,661.7 1258.4,647.2 1257.9,638 1257.4,639.8 1256.9,643.6 1256.4,655.9 1255.9,680.9 1255.4,648.8 1254.9,641.2 1254.4,657.1 1253.9,648 1253.4,640.7 1252.9,660.1 1252.4,665.2 1251.9,648.1 1251.4,667.6 1250.9,642.2 1250.4,641.8 1249.9,638.6 1249.4,680.3 1248.9,640.8 1248.4,652.9 1247.9,642.2 1247.4,653.3 1246.9,644 1246.4,651.3 1245.9,646.1 1245.4,636.7 1244.9,653.2 1244.4,636.1 1243.9,646.1 1243.4,638.1 1242.9,634.4 1242.4,651.3 1241.9,636.5 1241.4,636.7 1240.9,642 1240.4,635.9 1239.9,634.8 1239.4,646.1 1238.9,639.4 1238.4,645.9 1237.9,658.3 1237.4,647 1236.9,633.8 1236.4,635 1235.9,633.9 1235.4,638.6 1234.9,638.3 1234.4,650.9 1233.9,635.6 1233.4,635.6 1232.9,639.1 1232.4,634.5 1231.9,630.9 1231.4,629.9 1230.9,637.8 1230.4,637.8 1229.9,633.7 1229.4,636.1 1228.9,636.3 1228.4,633.3 1227.9,630 1227.4,634 1226.9,636.7 1226.4,632.3 1225.9,635.5 1225.4,636.4 1224.9,648.7 1224.4,656.3 1223.9,630.2 1223.4,632.8 1222.9,639.9 1222.4,631.7 1221.9,634.1 1221.4,634.1 1220.9,632.6 1220.4,634.5 1219.9,635.5 1219.4,640.9 1218.9,644.2 1218.4,634.7 1217.9,638.8 1217.4,637.3 1216.9,655.9 1216.4,636.3 1215.9,654.8 1215.4,636.9 1214.9,697.4 1214.4,639.8 1213.9,637.8 1213.4,649.2 1212.9,640.6 1212.4,645.1 1211.9,649.2 1211.4,660.8 1210.9,673.7 1210.4,735.5 1209.9,696 1209.4,675.3 1208.9,665.8 1208.4,658 1207.9,693.5 1207.4,683.5 1206.9,668.9 1206.4,717 1205.9,678.3 1205.4,721.5 1204.9,669.4 1204.4,652.8 1203.9,639.3 1203.4,649.7 1202.9,651.9 1202.4,644.2 1201.9,639.8 1201.4,634 1200.9,634.8 1200.4,653 1199.9,651.5 1199.4,676.2 1198.9,640.1 1198.4,660.9 1197.9,644.3 1197.4,638.7 1196.9,648.5 1196.4,660 1195.9,651.9 1195.4,641.3 1194.9,657.4 1194.4,638.2 1193.9,648.5 1193.4,653.6 1192.9,636.1 1192.4,648 1191.9,640.4 1191.4,634.5 1190.9,641.1 1190.4,636.4 1189.9,642.2 1189.4,662.5 1188.9,658.8 1188.4,654.6 1187.9,669 1187.4,656.9 1186.9,667.3 1186.4,681.9 1185.9,682.8 1185.4,691 1184.9,732.5 1184.4,676.9 1183.9,663.9 1183.4,652 1182.9,660.6 1182.4,720 1181.9,644.6 1181.4,655.3 1180.9,640.1 1180.4,642.1 1179.9,643.7 1179.4,647.4 1178.9,669.4 1178.4,695.4 1177.9,675.7 1177.4,643 1176.9,639.7 1176.4,648.8 1175.9,638.8 1175.4,659.8 1174.9,659 1174.4,647 1173.9,635.3 1173.4,649.1 1172.9,638.2 1172.4,647 1171.9,639.9 1171.4,653 1170.9,640 1170.4,639.6 1169.9,634.7 1169.4,641.1 1168.9,631.2 1168.4,636.3 1167.9,641 1167.4,632.8 1166.9,640 1166.4,631.6 1165.9,636.7 1165.4,632.8 1164.9,643.4 1164.4,646.5 1163.9,646.6 1163.4,643.7 1162.9,633 1162.4,655.4 1161.9,668.3 1161.4,658.3 1160.9,674.4 1160.4,674 1159.9,650.5 1159.4,677.1 1158.9,711.4 1158.4,669.9 1157.9,707.9 1157.4,696.2 1156.9,649.3 1156.4,653.4 1155.9,665.6 1155.4,691.5 1154.9,668.6 1154.4,640.2 1153.9,653.8 1153.4,638.6 1152.9,654.1 1152.4,691.4 1151.9,643.1 1151.4,653 1150.9,634.5 1150.4,633.8 1149.9,633.5 1149.4,641.5 1148.9,634.9 1148.4,633.2 1147.9,635.4 1147.4,640.3 1146.9,636 1146.4,633 1145.9,632.2 1145.4,630.7 1144.9,635.9 1144.4,632.1 1143.9,632.2 1143.4,640.6 1142.9,643.5 1142.4,651.1 1141.9,652.6 1141.4,651.8 1140.9,643.8 1140.4,643.6 1139.9,643.1 1139.4,650 1138.9,672.8 1138.4,663.1 1137.9,650.4 1137.4,647 1136.9,664.1 1136.4,657.2 1135.9,668.3 1135.4,674.3 1134.9,706.4 1134.4,669.1 1133.9,658.8 1133.4,652.8 1132.9,647.7 1132.4,684.2 1131.9,638.3 1131.4,634 1130.9,636.3 1130.4,637.2 1129.9,641.4 1129.4,634.1 1128.9,630.6 1128.4,640.1 1127.9,633.9 1127.4,632.1 1126.9,630.4 1126.4,646.2 1125.9,637.6 1125.4,646.9 1124.9,654.3 1124.4,641.1 1123.9,644.3 1123.4,636.5 1122.9,638.5 1122.4,637.5 1121.9,638.2 1121.4,643.6 1120.9,639 1120.4,639.2 1119.9,635.7 1119.4,663 1118.9,643.5 1118.4,686.4 1117.9,635.6 1117.4,635.1 1116.9,640 1116.4,723.5 1115.9,642.4 1115.4,653.5 1114.9,638.9 1114.4,647.6 1113.9,636.5 1113.4,637.9 1112.9,661 1112.4,651.8 1111.9,646 1111.4,648.7 1110.9,644 1110.4,688.4 1109.9,657 1109.4,642.8 1108.9,635.1 1108.4,671.7 1107.9,639.4 1107.4,648.3 1106.9,638.6 1106.4,659.5 1105.9,650.8 1105.4,648.9 1104.9,677.8 1104.4,677.9 1103.9,676.8 1103.4,694.4 1102.9,667.6 1102.4,649.3 1101.9,667.5 1101.4,679.1 1100.9,675.8 1100.4,677.7 1099.9,711.4 1099.4,659.3 1098.9,685.8 1098.4,647.7 1097.9,672.2 1097.4,682.8 1096.9,639.7 1096.4,634.9 1095.9,645.1 1095.4,639.6 1094.9,640.7 1094.4,649.1 1093.9,646.2 1093.4,639.7 1092.9,651.1 1092.4,656.3 1091.9,635 1091.4,639 1090.9,634.2 1090.4,636.7 1089.9,633.4 1089.4,635.3 1088.9,641.4 1088.4,644.4 1087.9,642.3 1087.4,637.6 1086.9,638.3 1086.4,635.4 1085.9,634.9 1085.4,630.3 1084.9,642.4 1084.4,648.8 1083.9,650.9 1083.4,720.5 1082.9,656.3 1082.4,647.1 1081.9,638.8 1081.4,638.9 1080.9,663.8 1080.4,660.2 1079.9,662.6 1079.4,643.9 1078.9,646.3 1078.4,659.1 1077.9,672.7 1077.4,706.4 1076.9,644.6 1076.4,652 1075.9,658.4 1075.4,711.4 1074.9,695.9 1074.4,671 1073.9,731.5 1073.4,651.7 1072.9,643.1 1072.4,662.9 1071.9,648.3 1071.4,648.5 1070.9,641.8 1070.4,650.6 1069.9,641.3 1069.4,661.6 1068.9,645.3 1068.4,634 1067.9,650 1067.4,638.9 1066.9,642.9 1066.4,633.5 1065.9,631.4 1065.4,633.9 1064.9,635.2 1064.4,648.1 1063.9,635.9 1063.4,640.6 1062.9,676.3 1062.4,653.7 1061.9,644 1061.4,653.2 1060.9,664.7 1060.4,640.7 1059.9,648.4 1059.4,656.3 1058.9,637.2 1058.4,673.3 1057.9,642.8 1057.4,651.2 1056.9,650.9 1056.4,664 1055.9,639.9 1055.4,638.5 1054.9,669.6 1054.4,679 1053.9,646 1053.4,656.5 1052.9,660.6 1052.4,682.4 1051.9,669.8 1051.4,645 1050.9,653.4 1050.4,686.9 1049.9,730.5 1049.4,662.4 1048.9,685.7 1048.4,676.3 1047.9,669.5 1047.4,710.4 1046.9,659.2 1046.4,682.4 1045.9,643.9 1045.4,698.4 1044.9,663.8 1044.4,658.3 1043.9,643.3 1043.4,644.1 1042.9,652.4 1042.4,652.9 1041.9,657.5 1041.4,636.8 1040.9,644.3 1040.4,642.1 1039.9,646.9 1039.4,637.1 1038.9,649.3 1038.4,644.5 1037.9,644.4 1037.4,642.1 1036.9,642.2 1036.4,633 1035.9,633.1 1035.4,633.6 1034.9,661.3 1034.4,639 1033.9,632.6 1033.4,656.3 1032.9,640.5 1032.4,636.3 1031.9,636.3 1031.4,645.5 1030.9,637 1030.4,661.4 1029.9,633.6 1029.4,636.2 1028.9,638.6 1028.4,644.6 1027.9,661.4 1027.4,665.8 1026.9,657.9 1026.4,698.4 1025.9,676.4 1025.4,644.1 1024.9,647.4 1024.4,665.8 1023.9,644.4 1023.4,634.9 1022.9,633.7 1022.4,665.3 1021.9,633.5 1021.4,639.5 1020.9,666.7 1020.4,643 1019.9,664.7 1019.4,636.6 1018.9,634.9 1018.4,639.9 1017.9,636.4 1017.4,633.6 1016.9,641.9 1016.4,635 1015.9,643.5 1015.4,633.3 1014.9,640.8 1014.4,643 1013.9,639.1 1013.4,660.7 1012.9,647.3 1012.4,637.5 1011.9,642.8 1011.4,646 1010.9,650.6 1010.4,667.3 1009.9,639.6 1009.4,633.6 1008.9,639.2 1008.4,646.5 1007.9,652.4 1007.4,646.8 1006.9,655.9 1006.4,635.9 1005.9,658.6 1005.4,651.7 1004.9,653.1 1004.4,639.6 1003.9,634.8 1003.4,637.9 1002.9,663.7 1002.4,656.8 1001.9,660.8 1001.4,670.3 1000.9,662.7 1000.4,638.8 999.9,650.9 999.4,658.5 998.9,641.7 998.4,643.2 997.9,656.4 997.4,754.5 996.9,666.2 996.4,663.4 995.9,668 995.4,647.7 994.9,642.9 994.4,669.3 993.9,642 993.4,645.1 992.9,663.6 992.4,661.1 991.9,654.5 991.4,637.1 990.9,668.3 990.4,660.6 989.9,641.7 989.4,639.3 988.9,642.2 988.4,640.3 987.9,646 987.4,654.7 986.9,647.1 986.4,644.6 985.9,670.9 985.4,681.4 984.9,644.2 984.4,658 983.9,638.1 983.4,644.8 982.9,640.5 982.4,642.2 981.9,643.7 981.4,638.6 980.9,656.7 980.4,642.4 979.9,687.2 979.4,687.4 978.9,669.9 978.4,656.1 977.9,650.3 977.4,647.5 976.9,643.8 976.4,647.5 975.9,658.3 975.4,630 974.9,635.7 974.4,660.3 973.9,638.1 973.4,636.7 972.9,639.1 972.4,645.3 971.9,643.2 971.4,646.5 970.9,635.8 970.4,643.5 969.9,635.8 969.4,634.7 968.9,632.1 968.4,660.3 967.9,632.6 967.4,632.1 966.9,646.5 966.4,632.7 965.9,635.1 965.4,643.5 964.9,635.4 964.4,645.2 963.9,640.6 963.4,646.2 962.9,635.9 962.4,653.9 961.9,650.1 961.4,645 960.9,640.5 960.4,634.1 959.9,638.9 959.4,643.8 958.9,639.4 958.4,634.2 957.9,635.3 957.4,642.7 956.9,641.8 956.4,638 955.9,633.2 955.4,638.6 954.9,643.6 954.4,633 953.9,638 953.4,635 952.9,659.9 952.4,635.3 951.9,646.8 951.4,645.3 950.9,637.2 950.4,635.3 949.9,668.3 949.4,636.1 948.9,632.7 948.4,637.1 947.9,638.8 947.4,645 946.9,635.2 946.4,637.5 945.9,636.4 945.4,650 944.9,637.9 944.4,646.5 943.9,667.3 943.4,642.9 942.9,633.2 942.4,637.2 941.9,635.3 941.4,634.3 940.9,641.9 940.4,634.5 939.9,632 939.4,636.9 938.9,640.5 938.4,636.4 937.9,635.3 937.4,642.7 936.9,632 936.4,634.4 935.9,636.4 935.4,630.5 934.9,640.6 934.4,634.2 933.9,637 933.4,634.7 932.9,632.5 932.4,636.4 931.9,635.4 931.4,633.5 930.9,632.2 930.4,637.9 929.9,643.2 929.4,663.2 928.9,671.4 928.4,636.9 927.9,653 927.4,654 926.9,639.2 926.4,645.5 925.9,637.9 925.4,649.9 924.9,638.2 924.4,640.6 923.9,640.9 923.4,644.4 922.9,638 922.4,659.6 921.9,637.5 921.4,693.4 920.9,665.5 920.4,658.7 919.9,649.9 919.4,667.9 918.9,638.4 918.4,665.3 917.9,649 917.4,658.6 Z" fill="#1f77b4" stroke="#1f77b4" stroke-width="0.9" stroke-linejoin="bevel"/>
<path d="M890.4,493.3h-3.4M890.4,536.4h-3.4M890.4,579.6h-3.4M890.4,622.8h-3.4M890.4,666.0h-3.4M890.4,709.2h-3.4M890.4,752.4h-3.4M917.4,767.2v3.4M1054.7,767.2v3.4M1191.9,767.2v3.4M1329.2,767.2v3.4M1466.4,767.2v3.4" stroke="#444" stroke-width="0.8" fill="none"/>
<g shape-rendering="crispEdges"><rect x="890" y="478" width="604" height="1" fill="#555"/><rect x="890" y="767" width="604" height="1" fill="#555"/><rect x="890" y="478" width="1" height="290" fill="#666"/><rect x="1493" y="478" width="1" height="290" fill="#000"/></g>
<g class="tk" text-anchor="end">
<text x="884.5" y="501.2">0.15</text>
<text x="884.5" y="544.3">0.10</text>
<text x="884.5" y="587.5">0.05</text>
<text x="884.5" y="630.7">0.00</text>
<text x="884.5" y="673.9">−0.05</text>
<text x="884.5" y="717.1">−0.10</text>
<text x="884.5" y="760.3">−0.15</text>
</g>
<g class="tk" text-anchor="middle">
<text x="917.4" y="790.0">0</text>
<text x="1054.7" y="790.0">5</text>
<text x="1191.9" y="790.0">10</text>
<text x="1329.2" y="790.0">15</text>
<text x="1466.4" y="790.0">20</text>
</g>
<text class="lb" text-anchor="middle" x="1192.0" y="817.0">Time (sec)</text>
<text class="lb" text-anchor="middle" transform="translate(809.2,624.4) rotate(-90)">Amplitude (dB)</text>
</g>
<g>
<path d="M115.5,1099.8 L115.5,1046.3 116,1069.5 116.5,1064 117,1065.1 117.5,1067.5 118,1061.1 118.5,1061.6 119,1067.6 119.5,1054.8 120,1064.2 120.5,1056.5 121,1058.2 121.5,1060.9 122,1064.1 122.5,1051.4 123,1057.5 123.5,1060.8 124,1033.2 124.5,1060.1 125,1064.7 125.5,1064 126,1068 126.5,1071.7 127,1069.9 127.5,1062.2 128,1064.8 128.5,1066 129,1070 129.5,1065.3 130,1068.8 130.5,1077.4 131,1075.3 131.5,1072.6 132,1074.5 132.5,1078.9 133,1080 133.5,1080.1 134,1077.4 134.5,1080 135,1082.2 135.5,1084.6 136,1087.7 136.5,1087.4 137,1089.1 137.5,1091 138,1092.3 138.5,1092.4 139,1091.3 139.5,1092.8 140,1092.1 140.5,1091.4 141,1090.8 141.5,1092.4 142,1053.3 142.5,1093.4 143,1091.8 143.5,1090.2 144,1092.7 144.5,1090.1 145,1092.9 145.5,1091.9 146,1093.9 146.5,1093.7 147,1086.9 147.5,1069.3 148,1057.7 148.5,1053.8 149,1048.1 149.5,1049.4 150,994.1 150.5,1033.1 151,1020.4 151.5,1034.4 152,1024.4 152.5,1015 153,1017.2 153.5,1020 154,1023.6 154.5,1040.5 155,1025.8 155.5,1017.8 156,1039.5 156.5,1045.9 157,1054.3 157.5,1042.9 158,1052.5 158.5,1042.8 159,1048.1 159.5,1011.2 160,1047.5 160.5,1041.4 161,1043.6 161.5,1050.1 162,1041.6 162.5,1042.1 163,1042.5 163.5,1043.9 164,1045.5 164.5,1027.6 165,1034.4 165.5,1038.4 166,1033.7 166.5,1041.3 167,1049.5 167.5,1042.3 168,1053.3 168.5,1052.6 169,1056.6 169.5,1050.7 170,1048.3 170.5,1033.3 171,1049.4 171.5,1038.3 172,1041.3 172.5,1036.5 173,1042.9 173.5,1047.5 174,1041.5 174.5,1059 175,1020.7 175.5,1051.3 176,1066.1 176.5,1070.3 177,1076.6 177.5,1081.1 178,1084.2 178.5,1086.9 179,1087.4 179.5,1091.8 180,1091 180.5,1088.5 181,1089.4 181.5,1088 182,1088.7 182.5,1086.1 183,1074 183.5,1068.2 184,1066.1 184.5,1070.8 185,1065.4 185.5,1067.6 186,1035.2 186.5,1060 187,1062.2 187.5,1063.2 188,1062.8 188.5,1060.5 189,1056.5 189.5,1049.1 190,1052.4 190.5,1055.3 191,1058.1 191.5,1069.5 192,1070.1 192.5,1048.1 193,1037.2 193.5,1067.1 194,1067.3 194.5,1068.8 195,1062.5 195.5,1060.6 196,1061.2 196.5,1057.7 197,1055.6 197.5,1056 198,1047.3 198.5,1058.2 199,1056.8 199.5,1050.3 200,1014.2 200.5,1047.8 201,1040.4 201.5,1050.3 202,1055.3 202.5,1046.4 203,1038.2 203.5,1055.3 204,1057.6 204.5,1052.7 205,1051.3 205.5,1064.3 206,1059.4 206.5,1070.9 207,1065.4 207.5,1062 208,1078.9 208.5,1081.6 209,1064.6 209.5,1083.3 210,1081.4 210.5,1085.9 211,1087.9 211.5,1090.1 212,1089.2 212.5,1092.7 213,1092.2 213.5,1093.8 214,1094.2 214.5,1094.3 215,1094.5 215.5,1094.3 216,1095.3 216.5,1094.8 217,1094.2 217.5,1093.2 218,1093.8 218.5,1083.3 219,1068 219.5,1060.8 220,1050.7 220.5,1046.7 221,1057.4 221.5,1056 222,1062.5 222.5,1066.3 223,1063.1 223.5,1053.4 224,1059.5 224.5,1049.7 225,1062.2 225.5,1053.7 226,1055.6 226.5,1016.2 227,1059.8 227.5,1057.3 228,1060.9 228.5,1055.5 229,1066.1 229.5,1057 230,1054.2 230.5,1062 231,1059.8 231.5,1058.7 232,1049.2 232.5,1058 233,1044.2 233.5,1056.4 234,1058 234.5,1049.6 235,1063 235.5,1057.3 236,1063.6 236.5,1058.9 237,1067.8 237.5,1063.7 238,1071.3 238.5,1076.9 239,1071.4 239.5,1017.2 240,1071.6 240.5,1075.7 241,1074.8 241.5,1071.7 242,1069.8 242.5,1061.4 243,1069.8 243.5,1069.9 244,1073.8 244.5,1074.9 245,1071.3 245.5,1077.9 246,1079 246.5,1081.4 247,1084 247.5,1086.4 248,1081.7 248.5,1085 249,1086.1 249.5,1083.5 250,1088.2 250.5,1086.9 251,1086.9 251.5,1086.4 252,1085.2 252.5,1078.9 253,1080.2 253.5,1084.1 254,1062.3 254.5,1082.4 255,1082.2 255.5,1085.3 256,1086.4 256.5,1089.2 257,1082.6 257.5,1081.2 258,1081.3 258.5,1072.3 259,1075.4 259.5,1071.6 260,1069.6 260.5,1068.1 261,1068.5 261.5,1031.2 262,1060.1 262.5,1066.5 263,1063.2 263.5,1057.7 264,1062.9 264.5,1057.4 265,1063.2 265.5,1061.2 266,1061.9 266.5,1061.8 267,1062.8 267.5,1063.3 268,1069.5 268.5,1063.5 269,1065.3 269.5,1068.3 270,1068 270.5,1064.4 271,1061.2 271.5,1062 272,1064.8 272.5,1060.7 273,1059.9 273.5,1050.8 274,1055.4 274.5,1056.2 275,1038.2 275.5,1067.1 276,1065.1 276.5,1068.4 277,1069.9 277.5,1063.2 278,1071.9 278.5,1065.4 279,1068.2 279.5,1069.4 280,1070 280.5,1073.3 281,1076.5 281.5,1074.3 282,1080.6 282.5,1073.2 283,1078.6 283.5,1057.3 284,1085.5 284.5,1090.1 285,1091.3 285.5,1091.7 286,1088.4 286.5,1089.3 287,1090.4 287.5,1089.1 288,1090.3 288.5,1091 289,1091.8 289.5,1091 290,1087.6 290.5,1088.3 291,1084.3 291.5,1081.4 292,1081 292.5,1079.7 293,1071.5 293.5,1073 294,1079.4 294.5,1075.9 295,1078.8 295.5,1078.3 296,1073.9 296.5,1069.6 297,1077.6 297.5,1073.7 298,1067.1 298.5,1068.1 299,1057.5 299.5,1068.2 300,1067.2 300.5,1059.7 301,1062.1 301.5,1054.7 302,1067.4 302.5,1068.9 303,1067.2 303.5,1007.2 304,1063.5 304.5,1065.1 305,1063.2 305.5,1063.9 306,1063.5 306.5,1050.7 307,1057.1 307.5,1045.3 308,1043.8 308.5,1047.1 309,1040.7 309.5,1051.5 310,1045.6 310.5,1051 311,1056.9 311.5,1063.5 312,1070.2 312.5,1064.9 313,1066.1 313.5,1071.4 314,1066.8 314.5,1055.9 315,1064.9 315.5,1067.1 316,1064.7 316.5,1063.5 317,1055.5 317.5,1054.1 318,1064.9 318.5,1058.4 319,1061.2 319.5,1064.3 320,1063 320.5,1069.8 321,1069.8 321.5,1079.2 322,1084.8 322.5,1085.9 323,1088.1 323.5,1086 324,1085.5 324.5,1042.3 325,1084.7 325.5,1088.5 326,1088.2 326.5,1087.3 327,1085.7 327.5,1086 328,1086.2 328.5,1085.9 329,1082 329.5,1085.9 330,1083.8 330.5,1087.4 331,1084.5 331.5,1087.2 332,1087 332.5,1087.6 333,1086 333.5,1074.8 334,1076.1 334.5,1076.3 335,1068.7 335.5,1069.5 336,1066 336.5,1065.2 337,1058.5 337.5,1064.8 338,1064.7 338.5,1060.3 339,1069.7 339.5,1069.9 340,1069.1 340.5,1070.7 341,1072.3 341.5,1064.2 342,1063.9 342.5,1065.3 343,1069 343.5,1067.8 344,1066.7 344.5,1070.2 345,1064.8 345.5,1046.3 346,1071.1 346.5,1069.1 347,1071.3 347.5,1063 348,1071.1 348.5,1072.2 349,1074 349.5,1068.5 350,1070.4 350.5,1066.3 351,1067.1 351.5,1067.8 352,1069.3 352.5,1053 353,1065.9 353.5,1073.6 354,1071.6 354.5,1069 355,1072.5 355.5,1068 356,1075.8 356.5,1078.1 357,1077 357.5,1075 358,1071.9 358.5,1059.3 359,1069.7 359.5,1072.7 360,1074.9 360.5,1074.4 361,1077.8 361.5,1086.3 362,1090.5 362.5,1089.8 363,1088.8 363.5,1090.4 364,1091.6 364.5,1091.3 365,1088.6 365.5,1060.3 366,1091.3 366.5,1087.1 367,1084.2 367.5,1084.2 368,1079.8 368.5,1079.1 369,1074.9 369.5,1075.2 370,1069.7 370.5,1073.8 371,1069.6 371.5,1066.9 372,1067 372.5,1061.8 373,1057.1 373.5,1066.2 374,1052.4 374.5,1061.8 375,1047.1 375.5,1058.4 376,1053 376.5,1034.5 377,1057.3 377.5,1052.7 378,1056.9 378.5,1053.8 379,1062.5 379.5,1067.1 380,1068.5 380.5,1063.7 381,1054.9 381.5,1054 382,1058.3 382.5,1065.8 383,1065.8 383.5,1056.4 384,1040 384.5,1011.2 385,1056.1 385.5,1056.8 386,1054.8 386.5,1039.7 387,1032.8 387.5,1033.2 388,1049.2 388.5,1047.9 389,1043.4 389.5,1052 390,1061.2 390.5,1062.5 391,1042.3 391.5,1067 392,1068.9 392.5,1058.8 393,1065 393.5,1059.6 394,1057.3 394.5,1062.1 395,1049.7 395.5,1057.3 396,1052.8 396.5,1059.3 397,1044.4 397.5,1017.2 398,1059.8 398.5,1061.4 399,1059.5 399.5,1059.1 400,1054.5 400.5,1061.9 401,1050 401.5,1051.9 402,1068.5 402.5,1077.5 403,1080.8 403.5,1080.5 404,1084.6 404.5,1083.7 405,1084.9 405.5,1043.3 406,1088.3 406.5,1085.7 407,1081.6 407.5,1081.4 408,1088.4 408.5,1084.9 409,1088.7 409.5,1087.8 410,1088.3 410.5,1085.4 411,1087.9 411.5,1085.5 412,1085.1 412.5,1081.4 413,1083.2 413.5,1081.8 414,1084 414.5,1081.5 415,1082.7 415.5,1083.2 416,1077.2 416.5,1077.6 417,1074.8 417.5,1076.9 418,1072.9 418.5,1074.8 419,1073.8 419.5,1070.4 420,1071.7 420.5,1066.7 421,1056.2 421.5,1055.5 422,1048.4 422.5,1043.4 423,1057.3 423.5,1053.7 424,1042.1 424.5,1047.9 425,1033.2 425.5,1053.7 426,1061.1 426.5,1062.8 427,1061.4 427.5,1010.2 428,1072 428.5,1070.5 429,1071.7 429.5,1067.8 430,1072.7 430.5,1071.9 431,1066.7 431.5,1072.1 432,1065.3 432.5,1070.8 433,1067.5 433.5,1066.3 434,1071.1 434.5,1068.1 435,1069.7 435.5,1073.4 436,1078.6 436.5,1074.9 437,1080 437.5,1079.6 438,1082.5 438.5,1084.7 439,1085.4 439.5,1086.6 440,1088.7 440.5,1087.2 441,1087.4 441.5,1086.2 442,1087.8 442.5,1089 443,1088.7 443.5,1087 444,1090.4 444.5,1093 445,1094 445.5,1094.4 446,1095.4 446.5,1095.3 447,1094.7 447.5,1048.3 448,1080.2 448.5,1075 449,1072.9 449.5,1069.2 450,1060.5 450.5,1067.3 451,1060.1 451.5,1058.3 452,1066.2 452.5,1065.1 453,1062.5 453.5,1067.9 454,1067.6 454.5,1067.4 455,1063.3 455.5,1057.4 456,1057.8 456.5,1059.1 457,1067 457.5,1066.6 458,1065.1 458.5,1064.5 459,1062.9 459.5,1070.8 460,1069 460.5,1073.9 461,1074.8 461.5,1075.3 462,1071.9 462.5,1070.2 463,1070.7 463.5,1068.6 464,1071.8 464.5,1071.9 465,1066 465.5,1066.3 466,1067.5 466.5,1063.8 467,1071.8 467.5,1022.2 468,1065.7 468.5,1067 469,1060 469.5,1068.7 470,1063.1 470.5,1065.2 471,1068.5 471.5,1061.9 472,1065.6 472.5,1064.9 473,1069.4 473.5,1069 474,1063.2 474.5,1058.3 475,1044.3 475.5,1063.1 476,1064.9 476.5,1060.1 477,1064.3 477.5,1057.3 478,1060.4 478.5,1062.6 479,1069.5 479.5,1070.1 480,1072.3 480.5,1063.9 481,1050.3 481.5,1070.6 482,1065.1 482.5,1070.5 483,1058.1 483.5,1074.8 484,1078.3 484.5,1075.2 485,1082.5 485.5,1084.1 486,1082.8 486.5,1084.8 487,1084.7 487.5,1087.8 488,1087.5 488.5,1046.3 489,1082.6 489.5,1087.2 490,1085.9 490.5,1090.1 491,1088.8 491.5,1087.3 492,1087.5 492.5,1087.5 493,1085.5 493.5,1086.2 494,1081.9 494.5,1085.8 495,1081.3 495.5,1080.7 496,1080.1 496.5,1077.6 497,1083.2 497.5,1073 498,1079.1 498.5,1078.3 499,1074.6 499.5,1076.1 500,1078.3 500.5,1076.1 501,1069.3 501.5,1068.3 502,1068.2 502.5,1067.4 503,1073.4 503.5,1063 504,1058.4 504.5,1064.2 505,1069.1 505.5,1068.6 506,1061.7 506.5,1071.8 507,1063.2 507.5,1062 508,1068.3 508.5,1074 509,1055.3 509.5,1075.5 510,1072.7 510.5,1029.2 511,1072.4 511.5,1075 512,1068.5 512.5,1071.8 513,1068.9 513.5,1063.8 514,1068.4 514.5,1068.9 515,1069.2 515.5,1047.3 516,1070.1 516.5,1075.3 517,1076.4 517.5,1077.7 518,1078.1 518.5,1080.3 519,1081.3 519.5,1080.6 520,1080.4 520.5,1081.5 521,1080.8 521.5,1083.2 522,1083.8 522.5,1084.2 523,1083.4 523.5,1085 524,1088.2 524.5,1086.9 525,1089.9 525.5,1088.6 526,1092.2 526.5,1092.7 527,1094.7 527.5,1095.5 528,1095.2 528.5,1095.9 529,1095.8 529.5,1094.5 530,1095.3 530.5,1094.4 531,1047.3 531.5,1078.7 532,1069 532.5,1068.4 533,1071.3 533.5,1063.3 534,1061 534.5,1066.2 535,1056.6 535.5,1050.7 536,1063 536.5,1064.5 537,1065 537.5,1065.4 538,1064.9 538.5,1045.3 539,1063 539.5,1068.9 540,1058.9 540.5,1068.5 541,1068 541.5,1067.9 542,1060.8 542.5,1063.4 543,1067.1 543.5,1040.2 544,1060.2 544.5,1065.5 545,1048.4 545.5,1065.9 546,1058.2 546.5,1064.6 547,1056.7 547.5,1051.7 548,1053.1 548.5,1057.4 549,1060.4 549.5,1061.1 550,1056 550.5,1053.5 551,1054.7 551.5,1016.2 552,1057.1 552.5,1062.7 553,1064.3 553.5,1067.1 554,1066.9 554.5,1056.9 555,1065.1 555.5,1067.2 556,1057.8 556.5,1069.8 557,1067.8 557.5,1065.1 558,1067.2 558.5,1046.3 559,1068 559.5,1058.3 560,1058.7 560.5,1064.8 561,1066.2 561.5,1063.9 562,1062.8 562.5,1070.5 563,1070.2 563.5,1069 564,1066.1 564.5,1073.3 565,1054.3 565.5,1081.5 566,1078.7 566.5,1080.6 567,1087 567.5,1090.1 568,1089.7 568.5,1088.3 569,1091.7 569.5,1090.5 570,1088.8 570.5,1087.7 571,1087.4 571.5,1089.4 572,1086.8 572.5,1051.3 573,1085.7 573.5,1087.5 574,1085.2 574.5,1086.1 575,1082.8 575.5,1084.8 576,1078.3 576.5,1080.9 577,1077.3 577.5,1077.5 578,1066.5 578.5,1072.3 579,1071.6 579.5,1069.5 580,1061.7 580.5,1068.1 581,1065.1 581.5,1056.4 582,1064.3 582.5,1063.8 583,1052.2 583.5,1064.1 584,1057.3 584.5,1047.3 585,1063.8 585.5,1056.4 586,1067.2 586.5,1058.2 587,1045.3 587.5,1065.9 588,1068.9 588.5,1055.9 589,1067.2 589.5,1070.9 590,1071.6 590.5,1069.2 591,1066.1 591.5,1070.1 592,1071.6 592.5,1064.1 593,1071.6 593.5,1061.6 594,1069.6 594.5,1031.2 595,1065.7 595.5,1066.4 596,1067.5 596.5,1064.7 597,1071.3 597.5,1076.4 598,1076.4 598.5,1081.5 599,1081.8 599.5,1083.3 600,1084.9 600.5,1083.3 601,1080.6 601.5,1084.2 602,1087.5 602.5,1086.9 603,1085.6 603.5,1088.9 604,1087.6 604.5,1088.2 605,1090 605.5,1090.8 606,1092.6 606.5,1073.3 607,1093.5 607.5,1093.8 608,1090.7 608.5,1094.8 609,1094.8 609.5,1095.7 610,1094.4 610.5,1095.1 611,1096.2 611.5,1094.7 612,1095.9 612.5,1095 613,1093.7 613.5,1047.3 614,1091.2 614.5,1086.6 615,1082.7 615.5,1078.3 616,1078.6 616.5,1081 617,1078.1 617.5,1080.2 618,1073.2 618.5,1073.4 619,1074.6 619.5,1079.7 620,1077.2 620.5,1072.9 621,1066.6 621.5,1056.4 622,1071.2 622.5,1060.7 623,1054.3 623.5,1054.4 624,1063.1 624.5,1053.3 625,1063.9 625.5,1064.6 626,1061.2 626.5,1066.4 627,1068.6 627.5,1073.4 628,1075.5 628.5,1076.6 629,1080.5 629.5,1074.8 630,1079.5 630.5,1078.4 631,1078.3 631.5,1071 632,1070.9 632.5,1038.2 633,1072.9 633.5,1070.2 634,1069.7 634.5,1067.5 635,1060.9 635.5,1060.3 636,1061.8 636.5,1072.5 637,1068.8 637.5,1074.1 638,1074 638.5,1075.7 639,1073.3 639.5,1076.8 640,1070.7 640.5,1075.9 641,1075.3 641.5,1069.7 642,1075.5 642.5,1075.2 643,1061.4 643.5,1070.1 644,1068.2 644.5,1074.6 645,1076 645.5,1077.3 646,1079.1 646.5,1080.3 647,1079.4 647.5,1081.5 648,1084.6 648.5,1084.5 649,1083.4 649.5,1086.8 650,1087 650.5,1086.9 651,1084.1 651.5,1087.4 652,1084.9 652.5,1085.5 653,1082.7 653.5,1071.1 654,1073.9 654.5,1041.2 655,1074.1 655.5,1074.6 656,1068 656.5,1069.6 657,1073.9 657.5,1074.9 658,1073.3 658.5,1045.3 659,1076.4 659.5,1074.3 660,1070.1 660.5,1073.9 661,1068 661.5,1066.6 662,1072.8 662.5,1074.2 663,1075.6 663.5,1070 664,1076.3 664.5,1068.4 665,1072.4 665.5,1070.3 666,1073.1 666.5,1072.4 667,1045.3 667.5,1063.3 668,1034.5 668.5,1039.7 669,1052.7 669.5,1054.8 670,968.1 670.5,1054.6 671,1029.8 671.5,1023.9 672,1031 672.5,1022.6 673,1025.5 673.5,1016.2 674,996.1 674.5,1009.7 675,1030.4 675.5,1003.4 676,1023.7 676.5,1021.7 677,1042.3 677.5,1065.8 L677.5,1099.8 L677.5,1133.8 677,1157.3 676.5,1177.9 676,1175.9 675.5,1196.2 675,1169.2 674.5,1189.9 674,1203.5 673.5,1183.4 673,1174.1 672.5,1177 672,1168.6 671.5,1175.7 671,1169.8 670.5,1145 670,1231.5 669.5,1144.8 669,1146.9 668.5,1159.9 668,1165.1 667.5,1136.3 667,1154.3 666.5,1127.2 666,1126.5 665.5,1129.3 665,1127.2 664.5,1131.2 664,1123.3 663.5,1129.6 663,1124 662.5,1125.4 662,1126.8 661.5,1133 661,1131.6 660.5,1125.7 660,1129.5 659.5,1125.3 659,1123.2 658.5,1154.3 658,1126.3 657.5,1124.7 657,1125.7 656.5,1130 656,1131.6 655.5,1125 655,1125.5 654.5,1158.4 654,1125.7 653.5,1128.5 653,1116.9 652.5,1114.1 652,1114.7 651.5,1112.2 651,1115.5 650.5,1112.7 650,1112.6 649.5,1112.8 649,1116.2 648.5,1115.1 648,1115 647.5,1118.1 647,1120.2 646.5,1119.3 646,1120.5 645.5,1122.3 645,1123.6 644.5,1125 644,1131.4 643.5,1129.5 643,1138.2 642.5,1124.4 642,1124.1 641.5,1129.9 641,1124.3 640.5,1123.7 640,1128.9 639.5,1122.8 639,1126.3 638.5,1123.9 638,1125.6 637.5,1125.5 637,1130.8 636.5,1127.1 636,1137.8 635.5,1139.3 635,1138.7 634.5,1132.1 634,1129.9 633.5,1129.4 633,1126.7 632.5,1161.4 632,1128.7 631.5,1128.6 631,1121.3 630.5,1121.2 630,1120.1 629.5,1124.8 629,1119.1 628.5,1123 628,1124.1 627.5,1126.2 627,1131 626.5,1133.2 626,1138.4 625.5,1135 625,1135.7 624.5,1146.3 624,1136.5 623.5,1145.2 623,1145.3 622.5,1138.9 622,1128.4 621.5,1143.2 621,1133 620.5,1126.7 620,1122.4 619.5,1119.9 619,1125 618.5,1126.2 618,1126.4 617.5,1119.4 617,1121.5 616.5,1118.6 616,1121 615.5,1121.3 615,1116.9 614.5,1113 614,1108.4 613.5,1152.3 613,1105.9 612.5,1104.6 612,1103.7 611.5,1104.9 611,1103.4 610.5,1104.5 610,1105.2 609.5,1103.9 609,1104.8 608.5,1104.8 608,1108.9 607.5,1105.8 607,1106.1 606.5,1126.3 606,1107 605.5,1108.8 605,1109.6 604.5,1111.4 604,1112 603.5,1110.7 603,1114 602.5,1112.7 602,1112.1 601.5,1115.4 601,1119 600.5,1116.3 600,1114.7 599.5,1116.3 599,1117.8 598.5,1118.1 598,1123.2 597.5,1123.2 597,1128.3 596.5,1134.9 596,1132.1 595.5,1133.2 595,1133.9 594.5,1168.4 594,1130 593.5,1138 593,1128 592.5,1135.5 592,1128 591.5,1129.5 591,1133.5 590.5,1130.4 590,1128 589.5,1128.7 589,1132.4 588.5,1143.7 588,1130.7 587.5,1133.7 587,1154.3 586.5,1141.4 586,1132.4 585.5,1143.2 585,1135.8 584.5,1152.3 584,1142.3 583.5,1135.5 583,1147.4 582.5,1135.8 582,1135.3 581.5,1143.2 581,1134.5 580.5,1131.5 580,1137.9 579.5,1130.1 579,1128 578.5,1127.3 578,1133.1 577.5,1122.1 577,1122.3 576.5,1118.7 576,1121.3 575.5,1114.8 575,1116.8 574.5,1113.5 574,1114.4 573.5,1112.1 573,1113.9 572.5,1148.3 572,1112.8 571.5,1110.2 571,1112.2 570.5,1111.9 570,1110.8 569.5,1109.1 569,1107.9 568.5,1111.3 568,1109.9 567.5,1109.5 567,1112.6 566.5,1119 566,1120.9 565.5,1118.1 565,1145.3 564.5,1126.3 564,1133.5 563.5,1130.6 563,1129.4 562.5,1129.1 562,1136.8 561.5,1135.7 561,1133.4 560.5,1134.8 560,1140.9 559.5,1141.3 559,1131.6 558.5,1153.3 558,1132.4 557.5,1134.5 557,1131.8 556.5,1129.8 556,1141.8 555.5,1132.4 555,1134.5 554.5,1142.7 554,1132.7 553.5,1132.5 553,1135.3 552.5,1136.9 552,1142.5 551.5,1183.4 551,1144.9 550.5,1146.1 550,1143.6 549.5,1138.5 549,1139.2 548.5,1142.2 548,1146.5 547.5,1147.9 547,1142.9 546.5,1135 546,1141.4 545.5,1133.7 545,1151.2 544.5,1134.1 544,1139.4 543.5,1159.4 543,1132.5 542.5,1136.2 542,1138.8 541.5,1131.7 541,1131.6 540.5,1131.1 540,1140.7 539.5,1130.7 539,1136.6 538.5,1154.3 538,1134.7 537.5,1134.2 537,1134.6 536.5,1135.1 536,1136.6 535.5,1148.9 535,1143 534.5,1133.4 534,1138.6 533.5,1136.3 533,1128.3 532.5,1131.2 532,1130.6 531.5,1120.9 531,1152.3 530.5,1105.2 530,1104.3 529.5,1105.1 529,1103.8 528.5,1103.7 528,1104.4 527.5,1104.1 527,1104.9 526.5,1106.9 526,1107.4 525.5,1111 525,1109.7 524.5,1112.7 524,1111.4 523.5,1114.6 523,1116.2 522.5,1115.4 522,1115.8 521.5,1116.4 521,1118.8 520.5,1118.1 520,1119.2 519.5,1119 519,1118.3 518.5,1119.3 518,1121.5 517.5,1121.9 517,1123.2 516.5,1124.3 516,1129.5 515.5,1152.3 515,1130.4 514.5,1130.7 514,1131.2 513.5,1135.8 513,1130.7 512.5,1127.8 512,1131.1 511.5,1124.6 511,1127.2 510.5,1170.4 510,1126.9 509.5,1124.1 509,1144.3 508.5,1125.6 508,1131.3 507.5,1137.6 507,1136.4 506.5,1127.8 506,1137.9 505.5,1131 505,1130.5 504.5,1135.4 504,1141.2 503.5,1136.6 503,1126.2 502.5,1132.2 502,1131.4 501.5,1131.3 501,1130.3 500.5,1123.5 500,1121.3 499.5,1123.5 499,1125 498.5,1121.3 498,1120.5 497.5,1126.6 497,1116.4 496.5,1122 496,1119.5 495.5,1118.9 495,1118.3 494.5,1113.8 494,1117.7 493.5,1113.4 493,1114.1 492.5,1112.1 492,1112.1 491.5,1112.3 491,1110.8 490.5,1109.5 490,1113.7 489.5,1112.4 489,1117 488.5,1153.3 488,1112.1 487.5,1111.8 487,1114.9 486.5,1114.8 486,1116.8 485.5,1115.5 485,1117.1 484.5,1124.4 484,1121.3 483.5,1124.8 483,1141.5 482.5,1129.1 482,1134.5 481.5,1129 481,1149.3 480.5,1135.7 480,1127.3 479.5,1129.5 479,1130.1 478.5,1137 478,1139.2 477.5,1142.3 477,1135.3 476.5,1139.5 476,1134.7 475.5,1136.5 475,1155.3 474.5,1141.3 474,1136.4 473.5,1130.6 473,1130.2 472.5,1134.7 472,1134 471.5,1137.7 471,1131.1 470.5,1134.4 470,1136.5 469.5,1130.9 469,1139.6 468.5,1132.6 468,1133.9 467.5,1177.4 467,1127.8 466.5,1135.8 466,1132.1 465.5,1133.3 465,1133.6 464.5,1127.7 464,1127.8 463.5,1131 463,1128.9 462.5,1129.4 462,1127.7 461.5,1124.3 461,1124.8 460.5,1125.7 460,1130.6 459.5,1128.8 459,1136.7 458.5,1135.1 458,1134.5 457.5,1133 457,1132.6 456.5,1140.5 456,1141.8 455.5,1142.2 455,1136.3 454.5,1132.2 454,1132 453.5,1131.7 453,1137.1 452.5,1134.5 452,1133.4 451.5,1141.3 451,1139.5 450.5,1132.3 450,1139.1 449.5,1130.4 449,1126.7 448.5,1124.6 448,1119.4 447.5,1151.3 447,1104.9 446.5,1104.3 446,1104.2 445.5,1105.2 445,1105.6 444.5,1106.6 444,1109.2 443.5,1112.6 443,1110.9 442.5,1110.6 442,1111.8 441.5,1113.4 441,1112.2 440.5,1112.4 440,1110.9 439.5,1113 439,1114.2 438.5,1114.9 438,1117.1 437.5,1120 437,1119.6 436.5,1124.7 436,1121 435.5,1126.2 435,1129.9 434.5,1131.5 434,1128.5 433.5,1133.3 433,1132.1 432.5,1128.8 432,1134.3 431.5,1127.5 431,1132.9 430.5,1127.7 430,1126.9 429.5,1131.8 429,1127.9 428.5,1129.1 428,1127.6 427.5,1189.4 427,1138.2 426.5,1136.8 426,1138.5 425.5,1145.9 425,1166.4 424.5,1151.7 424,1157.5 423.5,1145.9 423,1142.3 422.5,1156.2 422,1151.2 421.5,1144.1 421,1143.4 420.5,1132.9 420,1127.9 419.5,1129.2 419,1125.8 418.5,1124.8 418,1126.7 417.5,1122.7 417,1124.8 416.5,1122 416,1122.4 415.5,1116.4 415,1116.9 414.5,1118.1 414,1115.6 413.5,1117.8 413,1116.4 412.5,1118.2 412,1114.5 411.5,1114.1 411,1111.7 410.5,1114.2 410,1111.3 409.5,1111.8 409,1110.9 408.5,1114.7 408,1111.2 407.5,1118.2 407,1118 406.5,1113.9 406,1111.3 405.5,1156.3 405,1114.7 404.5,1115.9 404,1115 403.5,1119.1 403,1118.8 402.5,1122.1 402,1131.1 401.5,1147.7 401,1149.6 400.5,1137.7 400,1145.1 399.5,1140.5 399,1140.1 398.5,1138.2 398,1139.8 397.5,1182.4 397,1155.2 396.5,1140.3 396,1146.8 395.5,1142.3 395,1149.9 394.5,1137.5 394,1142.3 393.5,1140 393,1134.6 392.5,1140.8 392,1130.7 391.5,1132.6 391,1157.3 390.5,1137.1 390,1138.4 389.5,1147.6 389,1156.2 388.5,1151.7 388,1150.4 387.5,1166.4 387,1166.8 386.5,1159.9 386,1144.8 385.5,1142.8 385,1143.5 384.5,1188.4 384,1159.6 383.5,1143.2 383,1133.8 382.5,1133.8 382,1141.3 381.5,1145.6 381,1144.7 380.5,1135.9 380,1131.1 379.5,1132.5 379,1137.1 378.5,1145.8 378,1142.7 377.5,1146.9 377,1142.3 376.5,1165.1 376,1146.6 375.5,1141.2 375,1152.5 374.5,1137.8 374,1147.2 373.5,1133.4 373,1142.5 372.5,1137.8 372,1132.6 371.5,1132.7 371,1130 370.5,1125.8 370,1129.9 369.5,1124.4 369,1124.7 368.5,1120.5 368,1119.8 367.5,1115.4 367,1115.4 366.5,1112.5 366,1108.3 365.5,1139.3 365,1111 364.5,1108.3 364,1108 363.5,1109.2 363,1110.8 362.5,1109.8 362,1109.1 361.5,1113.3 361,1121.8 360.5,1125.2 360,1124.7 359.5,1126.9 359,1129.9 358.5,1140.3 358,1127.7 357.5,1124.6 357,1122.6 356.5,1121.5 356,1123.8 355.5,1131.6 355,1127.1 354.5,1130.6 354,1128 353.5,1126 353,1133.7 352.5,1146.6 352,1130.3 351.5,1131.8 351,1132.5 350.5,1133.3 350,1129.2 349.5,1131.1 349,1125.6 348.5,1127.4 348,1128.5 347.5,1136.6 347,1128.3 346.5,1130.5 346,1128.5 345.5,1153.3 345,1134.8 344.5,1129.4 344,1132.9 343.5,1131.8 343,1130.6 342.5,1134.3 342,1135.7 341.5,1135.4 341,1127.3 340.5,1128.9 340,1130.5 339.5,1129.7 339,1129.9 338.5,1139.3 338,1134.9 337.5,1134.8 337,1141.1 336.5,1134.4 336,1133.6 335.5,1130.1 335,1130.9 334.5,1123.3 334,1123.5 333.5,1124.8 333,1113.6 332.5,1112 332,1112.6 331.5,1112.4 331,1115.1 330.5,1112.2 330,1115.8 329.5,1113.7 329,1117.6 328.5,1113.7 328,1113.4 327.5,1113.6 327,1113.9 326.5,1112.3 326,1111.4 325.5,1111.1 325,1114.9 324.5,1157.3 324,1114.1 323.5,1113.6 323,1111.5 322.5,1113.7 322,1114.8 321.5,1120.4 321,1129.8 320.5,1129.8 320,1136.6 319.5,1135.3 319,1138.4 318.5,1141.2 318,1134.7 317.5,1145.5 317,1144.1 316.5,1136.1 316,1134.9 315.5,1132.5 315,1134.7 314.5,1143.7 314,1132.8 313.5,1128.2 313,1133.5 312.5,1134.7 312,1129.4 311.5,1136.1 311,1142.7 310.5,1148.6 310,1154 309.5,1148.1 309,1158.9 308.5,1152.5 308,1155.8 307.5,1154.3 307,1142.5 306.5,1148.9 306,1136.1 305.5,1135.7 305,1136.4 304.5,1134.5 304,1136.1 303.5,1192.4 303,1132.4 302.5,1130.7 302,1132.2 301.5,1144.9 301,1137.5 300.5,1139.9 300,1132.4 299.5,1131.4 299,1142.1 298.5,1131.5 298,1132.5 297.5,1125.9 297,1122 296.5,1130 296,1125.7 295.5,1121.3 295,1120.8 294.5,1123.7 294,1120.2 293.5,1126.6 293,1128.1 292.5,1119.9 292,1118.6 291.5,1118.2 291,1115.3 290.5,1111.3 290,1112 289.5,1108.6 289,1107.8 288.5,1108.6 288,1109.3 287.5,1110.5 287,1109.2 286.5,1110.3 286,1111.2 285.5,1107.9 285,1108.3 284.5,1109.5 284,1114.1 283.5,1142.3 283,1121 282.5,1126.4 282,1119 281.5,1125.3 281,1123.1 280.5,1126.3 280,1129.6 279.5,1130.2 279,1131.4 278.5,1134.2 278,1127.7 277.5,1136.4 277,1129.7 276.5,1131.2 276,1134.5 275.5,1132.5 275,1161.4 274.5,1143.4 274,1144.2 273.5,1148.8 273,1139.7 272.5,1138.9 272,1134.8 271.5,1137.6 271,1138.4 270.5,1135.2 270,1131.6 269.5,1131.3 269,1134.3 268.5,1136.1 268,1130.1 267.5,1136.3 267,1136.8 266.5,1137.8 266,1137.7 265.5,1138.4 265,1136.4 264.5,1142.2 264,1136.7 263.5,1141.9 263,1136.4 262.5,1133.1 262,1139.5 261.5,1168.4 261,1131.1 260.5,1131.5 260,1130 259.5,1128 259,1124.2 258.5,1127.3 258,1118.3 257.5,1118.4 257,1117 256.5,1110.4 256,1113.2 255.5,1114.3 255,1117.4 254.5,1117.2 254,1137.3 253.5,1115.5 253,1119.4 252.5,1120.7 252,1114.4 251.5,1113.2 251,1112.7 250.5,1112.7 250,1111.4 249.5,1116.1 249,1113.5 248.5,1114.6 248,1117.9 247.5,1113.2 247,1115.6 246.5,1118.2 246,1120.6 245.5,1121.7 245,1128.3 244.5,1124.7 244,1125.8 243.5,1129.7 243,1129.8 242.5,1138.2 242,1129.8 241.5,1127.9 241,1124.8 240.5,1123.9 240,1128 239.5,1182.4 239,1128.2 238.5,1122.7 238,1128.3 237.5,1135.9 237,1131.8 236.5,1140.7 236,1136 235.5,1142.3 235,1136.6 234.5,1150 234,1141.6 233.5,1143.2 233,1155.4 232.5,1141.6 232,1150.4 231.5,1140.9 231,1139.8 230.5,1137.6 230,1145.4 229.5,1142.6 229,1133.5 228.5,1144.1 228,1138.7 227.5,1142.3 227,1139.8 226.5,1183.4 226,1144 225.5,1145.9 225,1137.4 224.5,1149.9 224,1140.1 223.5,1146.2 223,1136.5 222.5,1133.3 222,1137.1 221.5,1143.6 221,1142.2 220.5,1152.9 220,1148.9 219.5,1138.8 219,1131.6 218.5,1116.3 218,1105.8 217.5,1106.4 217,1105.4 216.5,1104.8 216,1104.3 215.5,1105.3 215,1105.1 214.5,1105.3 214,1105.4 213.5,1105.8 213,1107.4 212.5,1106.9 212,1110.4 211.5,1109.5 211,1111.7 210.5,1113.7 210,1118.2 209.5,1116.3 209,1135 208.5,1118 208,1120.7 207.5,1137.6 207,1134.2 206.5,1128.7 206,1140.2 205.5,1135.3 205,1148.3 204.5,1146.9 204,1142 203.5,1144.3 203,1161.4 202.5,1153.2 202,1144.3 201.5,1149.3 201,1159.2 200.5,1151.8 200,1185.4 199.5,1149.3 199,1142.8 198.5,1141.4 198,1152.3 197.5,1143.6 197,1144 196.5,1141.9 196,1138.4 195.5,1139 195,1137.1 194.5,1130.8 194,1132.3 193.5,1132.5 193,1162.4 192.5,1151.5 192,1129.5 191.5,1130.1 191,1141.5 190.5,1144.3 190,1147.2 189.5,1150.5 189,1143.1 188.5,1139.1 188,1136.8 187.5,1136.4 187,1137.4 186.5,1139.6 186,1164.4 185.5,1132 185,1134.2 184.5,1128.8 184,1133.5 183.5,1131.4 183,1125.6 182.5,1113.5 182,1110.9 181.5,1111.6 181,1110.2 180.5,1111.1 180,1108.6 179.5,1107.8 179,1112.2 178.5,1112.7 178,1115.4 177.5,1118.5 177,1123 176.5,1129.3 176,1133.5 175.5,1148.3 175,1178.9 174.5,1140.6 174,1158.1 173.5,1152.1 173,1156.7 172.5,1163.1 172,1158.3 171.5,1161.3 171,1150.2 170.5,1166.3 170,1151.3 169.5,1148.9 169,1143 168.5,1147 168,1146.3 167.5,1157.3 167,1150.1 166.5,1158.3 166,1165.9 165.5,1161.2 165,1165.2 164.5,1172 164,1154.1 163.5,1155.7 163,1157.1 162.5,1157.5 162,1158 161.5,1149.5 161,1156 160.5,1158.2 160,1152.1 159.5,1188.4 159,1151.5 158.5,1156.8 158,1147.1 157.5,1156.7 157,1145.3 156.5,1153.7 156,1160.1 155.5,1181.8 155,1173.8 154.5,1159.1 154,1176 153.5,1179.6 153,1182.4 152.5,1184.6 152,1175.2 151.5,1165.2 151,1179.2 150.5,1166.5 150,1205.5 149.5,1150.2 149,1151.5 148.5,1145.8 148,1141.9 147.5,1130.3 147,1112.7 146.5,1105.9 146,1105.7 145.5,1107.7 145,1106.7 144.5,1109.5 144,1106.9 143.5,1109.4 143,1107.8 142.5,1106.2 142,1146.3 141.5,1107.2 141,1108.8 140.5,1108.2 140,1107.5 139.5,1106.8 139,1108.3 138.5,1107.2 138,1107.3 137.5,1108.6 137,1110.5 136.5,1112.2 136,1111.9 135.5,1115 135,1117.4 134.5,1119.6 134,1122.2 133.5,1119.5 133,1119.6 132.5,1120.7 132,1125.1 131.5,1127 131,1124.3 130.5,1122.2 130,1130.8 129.5,1134.3 129,1129.6 128.5,1133.6 128,1134.8 127.5,1137.4 127,1129.7 126.5,1127.9 126,1131.6 125.5,1135.6 125,1134.9 124.5,1139.5 124,1166.4 123.5,1138.8 123,1142.1 122.5,1148.2 122,1135.5 121.5,1138.7 121,1141.4 120.5,1143.1 120,1135.4 119.5,1144.8 119,1132 118.5,1138 118,1138.5 117.5,1132.1 117,1134.5 116.5,1135.6 116,1130.1 115.5,1153.3 Z" fill="#1f77b4" stroke="#1f77b4" stroke-width="0.9" stroke-linejoin="bevel"/>
<path d="M87.7,1000.3h-3.4M87.7,1050.1h-3.4M87.7,1099.8h-3.4M87.7,1149.5h-3.4M87.7,1199.3h-3.4M115.5,1244.1v3.4M256.0,1244.1v3.4M396.5,1244.1v3.4M537.0,1244.1v3.4M677.5,1244.1v3.4" stroke="#444" stroke-width="0.8" fill="none"/>
<g shape-rendering="crispEdges"><rect x="87" y="955" width="619" height="1" fill="#aaa"/><rect x="87" y="1244" width="619" height="1" fill="#222"/><rect x="87" y="955" width="1" height="290" fill="#000"/><rect x="705" y="955" width="1" height="290" fill="#000"/></g>
<g class="tk" text-anchor="end">
<text x="81.8" y="1008.2">0.2</text>
<text x="81.8" y="1058.0">0.1</text>
<text x="81.8" y="1107.7">0.0</text>
<text x="81.8" y="1157.4">−0.1</text>
<text x="81.8" y="1207.2">−0.2</text>
</g>
<g class="tk" text-anchor="middle">
<text x="115.5" y="1266.9">0</text>
<text x="256.0" y="1266.9">5</text>
<text x="396.5" y="1266.9">10</text>
<text x="537.0" y="1266.9">15</text>
<text x="677.5" y="1266.9">20</text>
</g>
<text class="lb" text-anchor="middle" x="396.6" y="1293.9">Time (sec)</text>
<text class="lb" text-anchor="middle" transform="translate(20.3,1101.3) rotate(-90)">Amplitude (dB)</text>
</g>
<g>
<path d="M904.5,1099.8 L904.5,1023.2 905,1042.1 905.5,1049.5 906,1073.7 906.5,1058.1 907,1067.6 907.5,1045.8 908,1043.3 908.5,1043.1 909,1076.1 909.5,1079.8 910,1074.2 910.5,1056 911,1021.2 911.5,1051.8 912,1047.2 912.5,1049.1 913,1079.9 913.5,1064.9 914,1059.1 914.5,1052.4 915,1083 915.5,1068.4 916,1083.4 916.5,1062.2 917,1071.1 917.5,1082.8 918,1083.6 918.5,1075.2 919,1071.8 919.5,1068.4 920,1014.2 920.5,1047.5 921,1078.1 921.5,1013.2 922,1079.2 922.5,1060.5 923,1080.5 923.5,1084.8 924,1072 924.5,1069 925,1031.2 925.5,1083.6 926,1081.2 926.5,1079 927,1076.5 927.5,1066.4 928,1048 928.5,1075.1 929,1066.4 929.5,1067.3 930,1081 930.5,1073.5 931,1056.4 931.5,1061.7 932,1084.6 932.5,1081.3 933,1091.3 933.5,1085.6 934,1086.2 934.5,1086 935,1085.8 935.5,1088 936,1083.2 936.5,1088.4 937,1085.3 937.5,1074.7 938,1082.7 938.5,1078.6 939,1058 939.5,1035.2 940,1083 940.5,1048 941,1042.5 941.5,1055.9 942,1055.6 942.5,1038.2 943,1059 943.5,1075 944,1068 944.5,999.1 945,1041.6 945.5,1057.5 946,1077.3 946.5,1055.5 947,1048.1 947.5,1080.7 948,1054.5 948.5,1083.5 949,1046.6 949.5,1079.5 950,1074.8 950.5,1084.3 951,1085.8 951.5,1084.1 952,1071.9 952.5,1071.5 953,1077.3 953.5,1090.4 954,1087.2 954.5,1082.1 955,1084.4 955.5,1078.1 956,1073.2 956.5,1081.4 957,1084 957.5,1085.3 958,1075.1 958.5,1074.5 959,1081.1 959.5,1086.3 960,1077.1 960.5,1061.6 961,1073.3 961.5,1078.3 962,1079 962.5,1084.1 963,1045.3 963.5,1085.7 964,1069.7 964.5,1081.3 965,1075.8 965.5,1087.9 966,1020.2 966.5,1088.3 967,1085.4 967.5,1074.6 968,1070 968.5,1069.5 969,1079.1 969.5,1053.9 970,1054.7 970.5,970.1 971,1073.5 971.5,1060.6 972,1077.8 972.5,1081 973,1083.3 973.5,1061 974,1083.3 974.5,1079 975,1040.6 975.5,1073.8 976,1041.2 976.5,1082.1 977,1035.2 977.5,1069.8 978,1079.6 978.5,1076 979,1075.2 979.5,1078.9 980,1081 980.5,1046.5 981,1042.3 981.5,1046.6 982,1073.4 982.5,1047 983,1043.6 983.5,1074.3 984,1050.7 984.5,1067.6 985,1068.6 985.5,1051.5 986,1085.8 986.5,1077.3 987,1086.4 987.5,1087.8 988,1066.2 988.5,1075.2 989,1029.2 989.5,1064.8 990,1066.6 990.5,1045.8 991,1068.9 991.5,1057 992,1071.6 992.5,1058.6 993,1084.5 993.5,1056.1 994,1080.4 994.5,1085 995,1056.3 995.5,1084.1 996,1076.9 996.5,1086 997,1086.3 997.5,1046 998,1070.4 998.5,1077.4 999,1057.8 999.5,1037.2 1000,1044.7 1000.5,1062.7 1001,1070.4 1001.5,1084.6 1002,1083.1 1002.5,1073.7 1003,1080.9 1003.5,1076.7 1004,1073.3 1004.5,1084.2 1005,1079.3 1005.5,1088.3 1006,1082.7 1006.5,1086.1 1007,1075.2 1007.5,1085.1 1008,1086.7 1008.5,1084.4 1009,1086.7 1009.5,1057.9 1010,1068 1010.5,1061.1 1011,1075.3 1011.5,1007.2 1012,1069.8 1012.5,1063.3 1013,1052.6 1013.5,1051.2 1014,1071.6 1014.5,1009.2 1015,1032.1 1015.5,1049.5 1016,1066.4 1016.5,1069.5 1017,1068.3 1017.5,1060.6 1018,1067.2 1018.5,1002.1 1019,1013.6 1019.5,1020.3 1020,1040.8 1020.5,1058.6 1021,1049.4 1021.5,1002.1 1022,1080.5 1022.5,1046.5 1023,1079.8 1023.5,1031 1024,1059.6 1024.5,1074.8 1025,1013.2 1025.5,1065.7 1026,1072.2 1026.5,1081.2 1027,1067 1027.5,1043.4 1028,1063.3 1028.5,1037.4 1029,1028.1 1029.5,983.1 1030,1070.1 1030.5,1026 1031,1036.7 1031.5,1043.2 1032,1077.8 1032.5,1044.7 1033,1058.2 1033.5,1032.2 1034,1078.4 1034.5,1048.8 1035,1047.5 1035.5,1074.5 1036,1077.7 1036.5,1061.7 1037,1081.8 1037.5,1078.2 1038,1067.7 1038.5,1075.7 1039,1066.7 1039.5,1086.1 1040,1063 1040.5,1074.9 1041,1073.9 1041.5,1084.7 1042,1033.2 1042.5,1078.9 1043,1060.2 1043.5,1084.3 1044,1072.8 1044.5,1076.7 1045,1058.7 1045.5,1062.4 1046,1076.1 1046.5,1062 1047,1073.7 1047.5,1086.5 1048,1086.7 1048.5,1079.9 1049,1058.6 1049.5,1066.3 1050,1063.7 1050.5,1059.7 1051,1065.1 1051.5,1028.2 1052,1079.8 1052.5,1060.5 1053,1058.4 1053.5,1058.7 1054,1069.4 1054.5,1040.2 1055,1079.8 1055.5,1081.5 1056,1075.4 1056.5,1082.4 1057,1060.4 1057.5,1064.5 1058,1056.2 1058.5,1083.5 1059,1068.7 1059.5,1084.5 1060,1083.6 1060.5,1074.3 1061,1070.7 1061.5,1071.7 1062,1053.8 1062.5,1026.2 1063,1075.2 1063.5,1085.7 1064,1073.4 1064.5,1021.2 1065,1072.7 1065.5,1052.7 1066,1074.7 1066.5,1056.1 1067,1072 1067.5,1076 1068,1084.3 1068.5,1066.8 1069,1082.4 1069.5,1084.4 1070,1081.5 1070.5,1078 1071,1083.1 1071.5,1069.1 1072,1083.9 1072.5,1009.2 1073,1071.2 1073.5,1084.4 1074,1075.2 1074.5,1054.5 1075,1049.4 1075.5,1056.8 1076,1067.5 1076.5,1026.1 1077,991.1 1077.5,1037.4 1078,1026.8 1078.5,1053.9 1079,1000.1 1079.5,1037.5 1080,1034.3 1080.5,1053.7 1081,1066.1 1081.5,1083.1 1082,1082.3 1082.5,1085.1 1083,1088 1083.5,1048.1 1084,1088.3 1084.5,1086.9 1085,1059.6 1085.5,992.1 1086,1074.5 1086.5,1089.9 1087,1038.2 1087.5,1085.4 1088,1072.4 1088.5,1068.8 1089,1083.9 1089.5,1073.3 1090,1078.7 1090.5,1088.1 1091,1085.2 1091.5,1073.4 1092,1089.5 1092.5,1086.7 1093,1088 1093.5,1088.6 1094,1075.6 1094.5,1076.6 1095,1042.2 1095.5,1063.1 1096,1028.6 1096.5,1069.5 1097,1061.8 1097.5,1035.7 1098,1046.4 1098.5,1044.4 1099,1066.6 1099.5,1059.6 1100,1060.5 1100.5,1051.7 1101,1072 1101.5,1073.1 1102,1078.7 1102.5,1076.2 1103,1076.7 1103.5,1074.1 1104,1073.6 1104.5,1049.8 1105,1075.3 1105.5,1075 1106,1090.9 1106.5,1084.7 1107,1081.2 1107.5,1085.7 1108,1072.7 1108.5,1077.6 1109,1082.3 1109.5,1045.3 1110,1090.6 1110.5,1087.4 1111,1074.1 1111.5,1087.3 1112,1087.9 1112.5,1091.8 1113,1087.7 1113.5,1091.1 1114,1086.7 1114.5,1082.7 1115,1076.7 1115.5,1077.8 1116,1088.7 1116.5,1084.7 1117,1084.8 1117.5,1086.1 1118,1085.2 1118.5,1087.6 1119,1086.6 1119.5,1075.6 1120,1088.5 1120.5,1092.6 1121,1072.4 1121.5,1089.5 1122,1081.9 1122.5,1084 1123,1086.7 1123.5,1087.3 1124,1086 1124.5,1066.3 1125,1087.8 1125.5,1079.2 1126,1086.9 1126.5,1084.6 1127,1088.7 1127.5,1091.6 1128,1086 1128.5,1072.4 1129,1087.2 1129.5,1073.1 1130,1071.9 1130.5,1081 1131,1063 1131.5,1061.8 1132,1067.5 1132.5,1033.3 1133,1038.2 1133.5,1065.2 1134,1062.6 1134.5,1063.4 1135,1070.9 1135.5,1082.2 1136,1072.7 1136.5,1069.3 1137,1065.2 1137.5,1054.6 1138,1055.9 1138.5,1073.6 1139,1055 1139.5,1079.6 1140,1070.7 1140.5,1055.3 1141,1066.2 1141.5,1083.2 1142,1050.2 1142.5,1058 1143,1070.8 1143.5,1072.8 1144,1062.1 1144.5,1035.2 1145,1074.9 1145.5,1040.7 1146,1050.1 1146.5,1014.2 1147,1080.4 1147.5,1031.7 1148,1074.1 1148.5,1081.1 1149,1064.8 1149.5,1066.4 1150,1063.6 1150.5,1057.8 1151,1059.6 1151.5,1051.7 1152,1028.2 1152.5,1082 1153,1026.9 1153.5,1081.3 1154,1081.7 1154.5,1067.5 1155,1081.7 1155.5,1056.9 1156,1069.3 1156.5,1059.9 1157,1066.6 1157.5,1044.6 1158,1062.7 1158.5,1050.9 1159,1048.9 1159.5,1073.5 1160,1035.2 1160.5,1064.5 1161,1068.1 1161.5,1050.5 1162,1068.4 1162.5,1060.1 1163,1074.8 1163.5,1068 1164,1071.8 1164.5,1068.9 1165,1037.4 1165.5,1048.1 1166,1069.5 1166.5,1074.6 1167,1080.7 1167.5,1039.2 1168,1062.5 1168.5,1084.9 1169,1069 1169.5,1076.7 1170,1065.1 1170.5,1068.6 1171,1084.2 1171.5,1063.7 1172,1062.6 1172.5,1085.7 1173,1081 1173.5,1086.3 1174,1077.2 1174.5,1036.8 1175,1066.8 1175.5,1068.9 1176,1072.7 1176.5,1044.4 1177,1081.5 1177.5,1069.6 1178,1076.2 1178.5,1060.3 1179,1065.1 1179.5,1066.9 1180,1082.4 1180.5,1049.1 1181,1067.3 1181.5,1067.6 1182,1071.4 1182.5,1071.6 1183,1067.4 1183.5,1056.8 1184,1084.4 1184.5,1080.8 1185,1065.4 1185.5,1041.2 1186,1083.1 1186.5,1049.6 1187,1065.6 1187.5,1074.1 1188,1058.9 1188.5,1049.1 1189,1076 1189.5,1029.6 1190,1073.2 1190.5,1027.4 1191,1073.3 1191.5,1080.4 1192,1076.9 1192.5,1063.4 1193,1029.1 1193.5,1075.5 1194,1071.2 1194.5,1055.3 1195,1062.6 1195.5,1080.7 1196,1067.5 1196.5,1075.1 1197,1082.3 1197.5,1072.7 1198,1048.5 1198.5,983.1 1199,1061.1 1199.5,1065.7 1200,1015.2 1200.5,1030.5 1201,1031.9 1201.5,1075.4 1202,1083.4 1202.5,1071 1203,1058.6 1203.5,1077.5 1204,1072.4 1204.5,1057.6 1205,1032.2 1205.5,1075.2 1206,1038.5 1206.5,1055.1 1207,1079 1207.5,1077 1208,1077.8 1208.5,1042.1 1209,1055.7 1209.5,1044.7 1210,1052.7 1210.5,1069.1 1211,1048.6 1211.5,1072.9 1212,1056.5 1212.5,1052.1 1213,1048.7 1213.5,1028.1 1214,1042.7 1214.5,1078.9 1215,1080.6 1215.5,1072.7 1216,1060.1 1216.5,1078 1217,1056.7 1217.5,1054.8 1218,1067.2 1218.5,1056.5 1219,1063 1219.5,1077.6 1220,1058 1220.5,1061.5 1221,1035.2 1221.5,1080.4 1222,1075.2 1222.5,1068.2 1223,1058 1223.5,1047.2 1224,1082.4 1224.5,1079.4 1225,1027.2 1225.5,1074 1226,1076.7 1226.5,1072.7 1227,1069.4 1227.5,1001.1 1228,1061.4 1228.5,1071.4 1229,1077.3 1229.5,1071.8 1230,1067.6 1230.5,1060.8 1231,1080.5 1231.5,1049.1 1232,1085.9 1232.5,1088.7 1233,1082.8 1233.5,1089.2 1234,1073.8 1234.5,1084.5 1235,1081.3 1235.5,1077.3 1236,1086.3 1236.5,1086.3 1237,1073.5 1237.5,1089.5 1238,1090 1238.5,1087.8 1239,1084.1 1239.5,1067.8 1240,1067.1 1240.5,1082.5 1241,1059.8 1241.5,1081.2 1242,1068 1242.5,1076.7 1243,1050.3 1243.5,1068.8 1244,1076.3 1244.5,1073.8 1245,1044.7 1245.5,1082.9 1246,1055.6 1246.5,1042.1 1247,1059.7 1247.5,1066.4 1248,1075.8 1248.5,1012.2 1249,1072.2 1249.5,1076.1 1250,1049.4 1250.5,1043.5 1251,1074.2 1251.5,1075.6 1252,1047.5 1252.5,1013.2 1253,1049.1 1253.5,1050.3 1254,1075.4 1254.5,1076.1 1255,1013.2 1255.5,1053.8 1256,1040 1256.5,1077.5 1257,1067.3 1257.5,1045.1 1258,1046.1 1258.5,1069.6 1259,1080.9 1259.5,1054.9 1260,1050.9 1260.5,1080.1 1261,1061.2 1261.5,1037.3 1262,1083.6 1262.5,1063.1 1263,1031.2 1263.5,1071.7 1264,1054.8 1264.5,1064.2 1265,1076.8 1265.5,1048.6 1266,1025.7 1266.5,1071.5 1267,1043.8 1267.5,1071 1268,1071.7 1268.5,1071.8 1269,1084.1 1269.5,1072.3 1270,1088.3 1270.5,1084.6 1271,1077 1271.5,1085.9 1272,1085.9 1272.5,1073.1 1273,1079.1 1273.5,1088.4 1274,1086.3 1274.5,1077.3 1275,1075.6 1275.5,1089.7 1276,1085.2 1276.5,1083.5 1277,1082.8 1277.5,1079.4 1278,1078.1 1278.5,1075.4 1279,1082.1 1279.5,1089.9 1280,1081.6 1280.5,1081.8 1281,1089.8 1281.5,1060.3 1282,1086.1 1282.5,1085.8 1283,1084.5 1283.5,1084.2 1284,1077 1284.5,1089.3 1285,1086.8 1285.5,1075.9 1286,1071.8 1286.5,1043.3 1287,1038.5 1287.5,1085.4 1288,1059.5 1288.5,1065.2 1289,1059.3 1289.5,1080.6 1290,1066.8 1290.5,1070.3 1291,1074 1291.5,1084.2 1292,1045.7 1292.5,1070.7 1293,1064.4 1293.5,1015.2 1294,1073.5 1294.5,1053.7 1295,1072.4 1295.5,1060.8 1296,1057.8 1296.5,1063.2 1297,1067.4 1297.5,1074.4 1298,1081 1298.5,1058 1299,1063.6 1299.5,1066.6 1300,1056.3 1300.5,1058.1 1301,1042.8 1301.5,1053.2 1302,1071.4 1302.5,1056.4 1303,1050.6 1303.5,1067.3 1304,1072.5 1304.5,1062.9 1305,1080.1 1305.5,1072.4 1306,1058.6 1306.5,1065.5 1307,1056.3 1307.5,1015.2 1308,1052 1308.5,1067.5 1309,1061.2 1309.5,968.1 1310,1027.1 1310.5,1081.3 1311,1081.8 1311.5,1080.3 1312,1063.6 1312.5,1082.9 1313,1090 1313.5,1088.4 1314,1079.5 1314.5,1073.4 1315,1079.2 1315.5,1054.4 1316,1083.3 1316.5,1081.1 1317,1071.6 1317.5,1046.3 1318,1049.9 1318.5,1083.3 1319,1076.8 1319.5,1067.8 1320,1084.4 1320.5,1084.1 1321,1079.7 1321.5,1069.2 1322,1074.6 1322.5,1056.1 1323,1054.1 1323.5,1051.2 1324,1081.6 1324.5,1078.7 1325,1065.7 1325.5,1083.8 1326,1035.6 1326.5,1078.4 1327,1044.9 1327.5,1036.3 1328,1028.2 1328.5,1030.9 1329,1042.8 1329.5,1038.3 1330,1068.9 1330.5,1064.2 1331,1057.6 1331.5,1060.7 1332,1057.8 1332.5,1032.3 1333,1082.8 1333.5,1074.4 1334,1080.7 1334.5,1079.5 1335,1074.5 1335.5,1054.4 1336,1076.8 1336.5,996.1 1337,1013.9 1337.5,1021.2 1338,1068.7 1338.5,1057.2 1339,1057.2 1339.5,1024.1 1340,1073.2 1340.5,1076.7 1341,1055.4 1341.5,1077.9 1342,1075.7 1342.5,1082.3 1343,1081.5 1343.5,1069.8 1344,1082.4 1344.5,1055 1345,1078.1 1345.5,1077 1346,1081.9 1346.5,1047.5 1347,1050.3 1347.5,1039.2 1348,1065.9 1348.5,1086.5 1349,1077.8 1349.5,1084.1 1350,1071.4 1350.5,1069.5 1351,1078.2 1351.5,1078.4 1352,1073.1 1352.5,1084.1 1353,1084.4 1353.5,1072.5 1354,1069.3 1354.5,1076.3 1355,1072.5 1355.5,1036.6 1356,1072.4 1356.5,1084.8 1357,1083.7 1357.5,1074.9 1358,1075.1 1358.5,1029.2 1359,1035.7 1359.5,1072.8 1360,1051.2 1360.5,1063 1361,1064.3 1361.5,1054.6 1362,1062.7 1362.5,1029.7 1363,1075.2 1363.5,1043.9 1364,1025.5 1364.5,1012.2 1365,1072.7 1365.5,1062.1 1366,1008.8 1366.5,1078.5 1367,1067 1367.5,1040.5 1368,1062.1 1368.5,1079.9 1369,1069.4 1369.5,1070.6 1370,1054.9 1370.5,1071.7 1371,1053.6 1371.5,994.1 1372,1064.6 1372.5,1063.6 1373,1040 1373.5,1071.7 1374,1040.5 1374.5,1071.6 1375,1009.2 1375.5,1070.7 1376,1038.6 1376.5,1074.1 1377,1049.3 1377.5,1061.5 1378,996.1 1378.5,1055.2 1379,1038.2 1379.5,1073 1380,1019.2 1380.5,1038.5 1381,1066.7 1381.5,1051.2 1382,1070.7 1382.5,1082.4 1383,1055.2 1383.5,1043.6 1384,1053.5 1384.5,1023.9 1385,1049.7 1385.5,1049.5 1386,1021.2 1386.5,1075.5 1387,1056.5 1387.5,1049.6 1388,1073.9 1388.5,1053.6 1389,1070.7 1389.5,1032.2 1390,1064.7 1390.5,1038 1391,1063.8 1391.5,1060.4 1392,1053.1 1392.5,1076.5 1393,1080.3 1393.5,1079.3 1394,1077.9 1394.5,1061.2 1395,1069.7 1395.5,1075.2 1396,1067.2 1396.5,1045.4 1397,1075.8 1397.5,1081.2 1398,1072.9 1398.5,1046.4 1399,1081.4 1399.5,1057.3 1400,1069.3 1400.5,1073.3 1401,1042.3 1401.5,1051.8 1402,1065.5 1402.5,1036.2 1403,1075.1 1403.5,1056.5 1404,1078.7 1404.5,1049.7 1405,1079.4 1405.5,1046.1 1406,1040.9 1406.5,1046.7 1407,1076.3 1407.5,1078.6 1408,1047.1 1408.5,1073.3 1409,1070.9 1409.5,1023.9 1410,1061.8 1410.5,1012.2 1411,1069.2 1411.5,1066 1412,1066.8 1412.5,1074.2 1413,1066 1413.5,1049.7 1414,1059.3 1414.5,1080 1415,1071.2 1415.5,1086.8 1416,1076.5 1416.5,1083.6 1417,1084.5 1417.5,1077.5 1418,1054.4 1418.5,1089.5 1419,1083.8 1419.5,1083.3 1420,1082.6 1420.5,1067.8 1421,1080 1421.5,1064.1 1422,1054.3 1422.5,1069.2 1423,1050.3 1423.5,1080.8 1424,1073.3 1424.5,1079.6 1425,1066.3 1425.5,1061.3 1426,1078.7 1426.5,1068.9 1427,1026.2 1427.5,1072.5 1428,1041 1428.5,1062.4 1429,1060.8 1429.5,1048.5 1430,1058.2 1430.5,1075.5 1431,1077.2 1431.5,1058.6 1432,1074.1 1432.5,1065.7 1433,1057.7 1433.5,1046.3 1434,1051.9 1434.5,1022.7 1435,1067 1435.5,1071.5 1436,1042.6 1436.5,1059.6 1437,1038.4 1437.5,1016.2 1438,1049 1438.5,1044.3 1439,1034 1439.5,1030.2 1440,1069.4 1440.5,1043.5 1441,1075 1441.5,1073.3 1442,1076.5 1442.5,1057.4 1443,1050.9 1443.5,1061.2 1444,1082.8 1444.5,1061.5 1445,1074.5 1445.5,1074.7 1446,1077.3 1446.5,1075.7 1447,1051.6 1447.5,1080.4 1448,1064.9 1448.5,1079.2 1449,1080.6 1449.5,1052.6 1450,1075.3 1450.5,1038.2 1451,1062.7 1451.5,1081.5 1452,1069.1 1452.5,1079.4 1453,1073.1 1453.5,1074.9 1454,1045.1 1454.5,1071.2 1455,1066.4 1455.5,1079.4 1456,1047.8 1456.5,1036.2 1457,1055.3 1457.5,1080.2 1458,1079.9 1458.5,1075.3 1459,1080.6 1459.5,1085 1460,1086.8 1460.5,1085 1461,1075.1 1461.5,1082.1 1462,1080.9 1462.5,1086.2 1463,1075.5 1463.5,1083.3 1464,1067.5 1464.5,1064.4 1465,1064.3 1465.5,1076.1 1466,1070.7 1466.5,1085 L1466.5,1099.8 L1466.5,1114.6 1466,1128.9 1465.5,1123.5 1465,1135.3 1464.5,1135.2 1464,1132.1 1463.5,1116.3 1463,1124.1 1462.5,1113.4 1462,1118.7 1461.5,1117.5 1461,1124.5 1460.5,1114.6 1460,1112.8 1459.5,1114.6 1459,1119 1458.5,1124.3 1458,1119.7 1457.5,1119.4 1457,1144.3 1456.5,1163.4 1456,1151.8 1455.5,1120.2 1455,1133.2 1454.5,1128.4 1454,1154.5 1453.5,1124.7 1453,1126.5 1452.5,1120.2 1452,1130.5 1451.5,1118.1 1451,1136.9 1450.5,1161.4 1450,1124.3 1449.5,1147 1449,1119 1448.5,1120.4 1448,1134.7 1447.5,1119.2 1447,1148 1446.5,1123.9 1446,1122.3 1445.5,1124.9 1445,1125.1 1444.5,1138.1 1444,1116.8 1443.5,1138.4 1443,1148.7 1442.5,1142.2 1442,1123.1 1441.5,1126.3 1441,1124.6 1440.5,1156.1 1440,1130.2 1439.5,1169.4 1439,1165.6 1438.5,1155.3 1438,1150.6 1437.5,1183.4 1437,1161.2 1436.5,1140 1436,1157 1435.5,1128.1 1435,1132.6 1434.5,1176.9 1434,1147.7 1433.5,1153.3 1433,1141.9 1432.5,1133.9 1432,1125.5 1431.5,1141 1431,1122.4 1430.5,1124.1 1430,1141.4 1429.5,1151.1 1429,1138.8 1428.5,1137.2 1428,1158.6 1427.5,1127.1 1427,1173.4 1426.5,1130.7 1426,1120.9 1425.5,1138.3 1425,1133.3 1424.5,1120 1424,1126.3 1423.5,1118.8 1423,1149.3 1422.5,1130.4 1422,1145.3 1421.5,1135.5 1421,1119.6 1420.5,1131.8 1420,1117 1419.5,1116.3 1419,1115.8 1418.5,1110.1 1418,1145.2 1417.5,1122.1 1417,1115.1 1416.5,1116 1416,1123.1 1415.5,1112.8 1415,1128.4 1414.5,1119.6 1414,1140.3 1413.5,1149.9 1413,1133.6 1412.5,1125.4 1412,1132.8 1411.5,1133.6 1411,1130.4 1410.5,1187.4 1410,1137.8 1409.5,1175.7 1409,1128.7 1408.5,1126.3 1408,1152.5 1407.5,1121 1407,1123.3 1406.5,1152.9 1406,1158.7 1405.5,1153.5 1405,1120.2 1404.5,1149.9 1404,1120.9 1403.5,1143.1 1403,1124.5 1402.5,1163.4 1402,1134.1 1401.5,1147.8 1401,1157.3 1400.5,1126.3 1400,1130.3 1399.5,1142.3 1399,1118.2 1398.5,1153.2 1398,1126.7 1397.5,1118.4 1397,1123.8 1396.5,1154.2 1396,1132.4 1395.5,1124.4 1395,1129.9 1394.5,1138.4 1394,1121.7 1393.5,1120.3 1393,1119.3 1392.5,1123.1 1392,1146.5 1391.5,1139.2 1391,1135.8 1390.5,1161.6 1390,1134.9 1389.5,1167.4 1389,1128.9 1388.5,1146 1388,1125.7 1387.5,1150 1387,1143.1 1386.5,1124.1 1386,1178.4 1385.5,1150.1 1385,1149.9 1384.5,1175.7 1384,1146.1 1383.5,1156 1383,1144.4 1382.5,1117.2 1382,1128.9 1381.5,1148.4 1381,1132.9 1380.5,1161.1 1380,1180.4 1379.5,1126.6 1379,1161.4 1378.5,1144.4 1378,1203.5 1377.5,1138.1 1377,1150.3 1376.5,1125.5 1376,1161 1375.5,1128.9 1375,1190.4 1374.5,1128 1374,1159.1 1373.5,1127.9 1373,1159.6 1372.5,1136 1372,1135 1371.5,1205.5 1371,1146 1370.5,1127.9 1370,1144.7 1369.5,1129 1369,1130.2 1368.5,1119.7 1368,1137.5 1367.5,1159.1 1367,1132.6 1366.5,1121.1 1366,1190.8 1365.5,1137.5 1365,1126.9 1364.5,1187.4 1364,1174.1 1363.5,1155.7 1363,1124.4 1362.5,1169.9 1362,1136.9 1361.5,1145 1361,1135.3 1360.5,1136.6 1360,1148.4 1359.5,1126.8 1359,1163.9 1358.5,1170.4 1358,1124.5 1357.5,1124.7 1357,1115.9 1356.5,1114.8 1356,1127.2 1355.5,1163 1355,1127.1 1354.5,1123.3 1354,1130.3 1353.5,1127.1 1353,1115.2 1352.5,1115.5 1352,1126.5 1351.5,1121.2 1351,1121.4 1350.5,1130.1 1350,1128.2 1349.5,1115.5 1349,1121.8 1348.5,1113.1 1348,1133.7 1347.5,1160.4 1347,1149.3 1346.5,1152.1 1346,1117.7 1345.5,1122.6 1345,1121.5 1344.5,1144.6 1344,1117.2 1343.5,1129.8 1343,1118.1 1342.5,1117.3 1342,1123.9 1341.5,1121.7 1341,1144.2 1340.5,1122.9 1340,1126.4 1339.5,1175.5 1339,1142.4 1338.5,1142.4 1338,1130.9 1337.5,1178.4 1337,1185.7 1336.5,1203.5 1336,1122.8 1335.5,1145.2 1335,1125.1 1334.5,1120.1 1334,1118.9 1333.5,1125.2 1333,1116.8 1332.5,1167.3 1332,1141.8 1331.5,1138.9 1331,1142 1330.5,1135.4 1330,1130.7 1329.5,1161.3 1329,1156.8 1328.5,1168.7 1328,1171.4 1327.5,1163.3 1327,1154.7 1326.5,1121.2 1326,1164 1325.5,1115.8 1325,1133.9 1324.5,1120.9 1324,1118 1323.5,1148.4 1323,1145.5 1322.5,1143.5 1322,1125 1321.5,1130.4 1321,1119.9 1320.5,1115.5 1320,1115.2 1319.5,1131.8 1319,1122.8 1318.5,1116.3 1318,1149.7 1317.5,1153.3 1317,1128 1316.5,1118.5 1316,1116.3 1315.5,1145.2 1315,1120.4 1314.5,1126.2 1314,1120.1 1313.5,1111.2 1313,1109.6 1312.5,1116.7 1312,1136 1311.5,1119.3 1311,1117.8 1310.5,1118.3 1310,1172.5 1309.5,1231.5 1309,1138.4 1308.5,1132.1 1308,1147.6 1307.5,1184.4 1307,1143.3 1306.5,1134.1 1306,1141 1305.5,1127.2 1305,1119.5 1304.5,1136.7 1304,1127.1 1303.5,1132.3 1303,1149 1302.5,1143.2 1302,1128.2 1301.5,1146.4 1301,1156.8 1300.5,1141.5 1300,1143.3 1299.5,1133 1299,1136 1298.5,1141.6 1298,1118.6 1297.5,1125.2 1297,1132.2 1296.5,1136.4 1296,1141.8 1295.5,1138.8 1295,1127.2 1294.5,1145.9 1294,1126.1 1293.5,1184.4 1293,1135.2 1292.5,1128.9 1292,1153.9 1291.5,1115.4 1291,1125.6 1290.5,1129.3 1290,1132.8 1289.5,1119 1289,1140.3 1288.5,1134.4 1288,1140.1 1287.5,1114.2 1287,1161.1 1286.5,1156.3 1286,1127.8 1285.5,1123.7 1285,1112.8 1284.5,1110.3 1284,1122.6 1283.5,1115.4 1283,1115.1 1282.5,1113.8 1282,1113.5 1281.5,1139.3 1281,1109.8 1280.5,1117.8 1280,1118 1279.5,1109.7 1279,1117.5 1278.5,1124.2 1278,1121.5 1277.5,1120.2 1277,1116.8 1276.5,1116.1 1276,1114.4 1275.5,1109.9 1275,1124 1274.5,1122.3 1274,1113.3 1273.5,1111.2 1273,1120.5 1272.5,1126.5 1272,1113.7 1271.5,1113.7 1271,1122.6 1270.5,1115 1270,1111.3 1269.5,1127.3 1269,1115.5 1268.5,1127.8 1268,1127.9 1267.5,1128.6 1267,1155.8 1266.5,1128.1 1266,1173.9 1265.5,1151 1265,1122.8 1264.5,1135.4 1264,1144.8 1263.5,1127.9 1263,1168.4 1262.5,1136.5 1262,1116 1261.5,1162.3 1261,1138.4 1260.5,1119.5 1260,1148.7 1259.5,1144.7 1259,1118.7 1258.5,1130 1258,1153.5 1257.5,1154.5 1257,1132.3 1256.5,1122.1 1256,1159.6 1255.5,1145.8 1255,1186.4 1254.5,1123.5 1254,1124.2 1253.5,1149.3 1253,1150.5 1252.5,1186.4 1252,1152.1 1251.5,1124 1251,1125.4 1250.5,1156.1 1250,1150.2 1249.5,1123.5 1249,1127.4 1248.5,1187.4 1248,1123.8 1247.5,1133.2 1247,1139.9 1246.5,1157.5 1246,1144 1245.5,1116.7 1245,1154.9 1244.5,1125.8 1244,1123.3 1243.5,1130.8 1243,1149.3 1242.5,1122.9 1242,1131.6 1241.5,1118.4 1241,1139.8 1240.5,1117.1 1240,1132.5 1239.5,1131.8 1239,1115.5 1238.5,1111.8 1238,1109.6 1237.5,1110.1 1237,1126.1 1236.5,1113.3 1236,1113.3 1235.5,1122.3 1235,1118.3 1234.5,1115.1 1234,1125.8 1233.5,1110.4 1233,1116.8 1232.5,1110.9 1232,1113.7 1231.5,1150.5 1231,1119.1 1230.5,1138.8 1230,1132 1229.5,1127.8 1229,1122.3 1228.5,1128.2 1228,1138.2 1227.5,1198.5 1227,1130.2 1226.5,1126.9 1226,1122.9 1225.5,1125.6 1225,1172.4 1224.5,1120.2 1224,1117.2 1223.5,1152.4 1223,1141.6 1222.5,1131.4 1222,1124.4 1221.5,1119.2 1221,1164.4 1220.5,1138.1 1220,1141.6 1219.5,1122 1219,1136.6 1218.5,1143.1 1218,1132.4 1217.5,1144.8 1217,1142.9 1216.5,1121.6 1216,1139.5 1215.5,1126.9 1215,1119 1214.5,1120.7 1214,1156.9 1213.5,1171.5 1213,1150.9 1212.5,1147.5 1212,1143.1 1211.5,1126.7 1211,1151 1210.5,1130.5 1210,1146.9 1209.5,1154.9 1209,1143.9 1208.5,1157.5 1208,1121.8 1207.5,1122.6 1207,1120.6 1206.5,1144.5 1206,1161.1 1205.5,1124.4 1205,1167.4 1204.5,1142 1204,1127.2 1203.5,1122.1 1203,1141 1202.5,1128.6 1202,1116.2 1201.5,1124.2 1201,1167.7 1200.5,1169.1 1200,1184.4 1199.5,1133.9 1199,1138.5 1198.5,1216.5 1198,1151.1 1197.5,1126.9 1197,1117.3 1196.5,1124.5 1196,1132.1 1195.5,1118.9 1195,1137 1194.5,1144.3 1194,1128.4 1193.5,1124.1 1193,1170.5 1192.5,1136.2 1192,1122.7 1191.5,1119.2 1191,1126.3 1190.5,1172.2 1190,1126.4 1189.5,1170 1189,1123.6 1188.5,1150.5 1188,1140.7 1187.5,1125.5 1187,1134 1186.5,1150 1186,1116.5 1185.5,1158.4 1185,1134.2 1184.5,1118.8 1184,1115.2 1183.5,1142.8 1183,1132.2 1182.5,1128 1182,1128.2 1181.5,1132 1181,1132.3 1180.5,1150.5 1180,1117.2 1179.5,1132.7 1179,1134.5 1178.5,1139.3 1178,1123.4 1177.5,1130 1177,1118.1 1176.5,1155.2 1176,1126.9 1175.5,1130.7 1175,1132.8 1174.5,1162.8 1174,1122.4 1173.5,1113.3 1173,1118.6 1172.5,1113.9 1172,1137 1171.5,1135.9 1171,1115.4 1170.5,1131 1170,1134.5 1169.5,1122.9 1169,1130.6 1168.5,1114.7 1168,1137.1 1167.5,1160.4 1167,1118.9 1166.5,1125 1166,1130.1 1165.5,1151.5 1165,1162.2 1164.5,1130.7 1164,1127.8 1163.5,1131.6 1163,1124.8 1162.5,1139.5 1162,1131.2 1161.5,1149.1 1161,1131.5 1160.5,1135.1 1160,1164.4 1159.5,1126.1 1159,1150.7 1158.5,1148.7 1158,1136.9 1157.5,1155 1157,1133 1156.5,1139.7 1156,1130.3 1155.5,1142.7 1155,1117.9 1154.5,1132.1 1154,1117.9 1153.5,1118.3 1153,1172.7 1152.5,1117.6 1152,1171.4 1151.5,1147.9 1151,1140 1150.5,1141.8 1150,1136 1149.5,1133.2 1149,1134.8 1148.5,1118.5 1148,1125.5 1147.5,1167.9 1147,1119.2 1146.5,1185.4 1146,1149.5 1145.5,1158.9 1145,1124.7 1144.5,1164.4 1144,1137.5 1143.5,1126.8 1143,1128.8 1142.5,1141.6 1142,1149.4 1141.5,1116.4 1141,1133.4 1140.5,1144.3 1140,1128.9 1139.5,1120 1139,1144.6 1138.5,1126 1138,1143.7 1137.5,1145 1137,1134.4 1136.5,1130.3 1136,1126.9 1135.5,1117.4 1135,1128.7 1134.5,1136.2 1134,1137 1133.5,1134.4 1133,1161.4 1132.5,1166.3 1132,1132.1 1131.5,1137.8 1131,1136.6 1130.5,1118.6 1130,1127.7 1129.5,1126.5 1129,1112.4 1128.5,1127.2 1128,1113.6 1127.5,1108 1127,1110.9 1126.5,1115 1126,1112.7 1125.5,1120.4 1125,1111.8 1124.5,1133.3 1124,1113.6 1123.5,1112.3 1123,1112.9 1122.5,1115.6 1122,1117.7 1121.5,1110.1 1121,1127.2 1120.5,1107 1120,1111.1 1119.5,1124 1119,1113 1118.5,1112 1118,1114.4 1117.5,1113.5 1117,1114.8 1116.5,1114.9 1116,1110.9 1115.5,1121.8 1115,1122.9 1114.5,1116.9 1114,1112.9 1113.5,1108.5 1113,1111.9 1112.5,1107.8 1112,1111.7 1111.5,1112.3 1111,1125.5 1110.5,1112.2 1110,1109 1109.5,1154.3 1109,1117.3 1108.5,1122 1108,1126.9 1107.5,1113.9 1107,1118.4 1106.5,1114.9 1106,1108.7 1105.5,1124.6 1105,1124.3 1104.5,1149.8 1104,1126 1103.5,1125.5 1103,1122.9 1102.5,1123.4 1102,1120.9 1101.5,1126.5 1101,1127.6 1100.5,1147.9 1100,1139.1 1099.5,1140 1099,1133 1098.5,1155.2 1098,1153.2 1097.5,1163.9 1097,1137.8 1096.5,1130.1 1096,1171 1095.5,1136.5 1095,1157.4 1094.5,1123 1094,1124 1093.5,1111 1093,1111.6 1092.5,1112.9 1092,1110.1 1091.5,1126.2 1091,1114.4 1090.5,1111.5 1090,1120.9 1089.5,1126.3 1089,1115.7 1088.5,1130.8 1088,1127.2 1087.5,1114.2 1087,1161.4 1086.5,1109.7 1086,1125.1 1085.5,1207.5 1085,1140 1084.5,1112.7 1084,1111.3 1083.5,1151.5 1083,1111.6 1082.5,1114.5 1082,1117.3 1081.5,1116.5 1081,1133.5 1080.5,1145.9 1080,1165.3 1079.5,1162.1 1079,1199.5 1078.5,1145.7 1078,1172.8 1077.5,1162.2 1077,1208.5 1076.5,1173.5 1076,1132.1 1075.5,1142.8 1075,1150.2 1074.5,1145.1 1074,1124.4 1073.5,1115.2 1073,1128.4 1072.5,1190.4 1072,1115.7 1071.5,1130.5 1071,1116.5 1070.5,1121.6 1070,1118.1 1069.5,1115.2 1069,1117.2 1068.5,1132.8 1068,1115.3 1067.5,1123.6 1067,1127.6 1066.5,1143.5 1066,1124.9 1065.5,1146.9 1065,1126.9 1064.5,1178.4 1064,1126.2 1063.5,1113.9 1063,1124.4 1062.5,1173.4 1062,1145.8 1061.5,1127.9 1061,1128.9 1060.5,1125.3 1060,1116 1059.5,1115.1 1059,1130.9 1058.5,1116.1 1058,1143.4 1057.5,1135.1 1057,1139.2 1056.5,1117.2 1056,1124.2 1055.5,1118.1 1055,1119.8 1054.5,1159.4 1054,1130.2 1053.5,1140.9 1053,1141.2 1052.5,1139.1 1052,1119.8 1051.5,1171.4 1051,1134.5 1050.5,1139.9 1050,1135.9 1049.5,1133.3 1049,1141 1048.5,1119.7 1048,1112.9 1047.5,1113.1 1047,1125.9 1046.5,1137.6 1046,1123.5 1045.5,1137.2 1045,1140.9 1044.5,1122.9 1044,1126.8 1043.5,1115.3 1043,1139.4 1042.5,1120.7 1042,1166.4 1041.5,1114.9 1041,1125.7 1040.5,1124.7 1040,1136.6 1039.5,1113.5 1039,1132.9 1038.5,1123.9 1038,1131.9 1037.5,1121.4 1037,1117.8 1036.5,1137.9 1036,1121.9 1035.5,1125.1 1035,1152.1 1034.5,1150.8 1034,1121.2 1033.5,1167.4 1033,1141.4 1032.5,1154.9 1032,1121.8 1031.5,1156.4 1031,1162.9 1030.5,1173.6 1030,1129.5 1029.5,1216.5 1029,1171.5 1028.5,1162.2 1028,1136.3 1027.5,1156.2 1027,1132.6 1026.5,1118.4 1026,1127.4 1025.5,1133.9 1025,1186.4 1024.5,1124.8 1024,1140 1023.5,1168.6 1023,1119.8 1022.5,1153.1 1022,1119.1 1021.5,1197.5 1021,1150.2 1020.5,1141 1020,1158.8 1019.5,1179.3 1019,1186 1018.5,1197.5 1018,1132.4 1017.5,1139 1017,1131.3 1016.5,1130.1 1016,1133.2 1015.5,1150.1 1015,1167.5 1014.5,1190.4 1014,1128 1013.5,1148.4 1013,1147 1012.5,1136.3 1012,1129.8 1011.5,1192.4 1011,1124.3 1010.5,1138.5 1010,1131.6 1009.5,1141.7 1009,1112.9 1008.5,1115.2 1008,1112.9 1007.5,1114.5 1007,1124.4 1006.5,1113.5 1006,1116.9 1005.5,1111.3 1005,1120.3 1004.5,1115.4 1004,1126.3 1003.5,1122.9 1003,1118.7 1002.5,1125.9 1002,1116.5 1001.5,1115 1001,1129.2 1000.5,1136.9 1000,1154.9 999.5,1162.4 999,1141.8 998.5,1122.2 998,1129.2 997.5,1153.6 997,1113.3 996.5,1113.6 996,1122.7 995.5,1115.5 995,1143.3 994.5,1114.6 994,1119.2 993.5,1143.5 993,1115.1 992.5,1141 992,1128 991.5,1142.6 991,1130.7 990.5,1153.8 990,1133 989.5,1134.8 989,1170.4 988.5,1124.4 988,1133.4 987.5,1111.8 987,1113.2 986.5,1122.3 986,1113.8 985.5,1148.1 985,1131 984.5,1132 984,1148.9 983.5,1125.3 983,1156 982.5,1152.6 982,1126.2 981.5,1153 981,1157.3 980.5,1153.1 980,1118.6 979.5,1120.7 979,1124.4 978.5,1123.6 978,1120 977.5,1129.8 977,1164.4 976.5,1117.5 976,1158.4 975.5,1125.8 975,1159 974.5,1120.6 974,1116.3 973.5,1138.6 973,1116.3 972.5,1118.6 972,1121.8 971.5,1139 971,1126.1 970.5,1229.5 970,1144.9 969.5,1145.7 969,1120.5 968.5,1130.1 968,1129.6 967.5,1125 967,1114.2 966.5,1111.3 966,1179.4 965.5,1111.7 965,1123.8 964.5,1118.3 964,1129.9 963.5,1113.9 963,1154.3 962.5,1115.5 962,1120.6 961.5,1121.3 961,1126.3 960.5,1138 960,1122.5 959.5,1113.3 959,1118.5 958.5,1125.1 958,1124.5 957.5,1114.3 957,1115.6 956.5,1118.2 956,1126.4 955.5,1121.5 955,1115.2 954.5,1117.5 954,1112.4 953.5,1109.2 953,1122.3 952.5,1128.1 952,1127.7 951.5,1115.5 951,1113.8 950.5,1115.3 950,1124.8 949.5,1120.1 949,1153 948.5,1116.1 948,1145.1 947.5,1118.9 947,1151.5 946.5,1144.1 946,1122.3 945.5,1142.1 945,1158 944.5,1200.5 944,1131.6 943.5,1124.6 943,1140.6 942.5,1161.4 942,1144 941.5,1143.7 941,1157.1 940.5,1151.6 940,1116.6 939.5,1164.4 939,1141.6 938.5,1121 938,1116.9 937.5,1124.9 937,1114.3 936.5,1111.2 936,1116.4 935.5,1111.6 935,1113.8 934.5,1113.6 934,1113.4 933.5,1114 933,1108.3 932.5,1118.3 932,1115 931.5,1137.9 931,1143.2 930.5,1126.1 930,1118.6 929.5,1132.3 929,1133.2 928.5,1124.5 928,1151.6 927.5,1133.2 927,1123.1 926.5,1120.6 926,1118.4 925.5,1116 925,1168.4 924.5,1130.6 924,1127.6 923.5,1114.8 923,1119.1 922.5,1139.1 922,1120.4 921.5,1186.4 921,1121.5 920.5,1152.1 920,1185.4 919.5,1131.2 919,1127.8 918.5,1124.4 918,1116 917.5,1116.8 917,1128.5 916.5,1137.4 916,1116.2 915.5,1131.2 915,1116.6 914.5,1147.2 914,1140.5 913.5,1134.7 913,1119.7 912.5,1150.5 912,1152.4 911.5,1147.8 911,1178.4 910.5,1143.6 910,1125.4 909.5,1119.8 909,1123.5 908.5,1156.5 908,1156.3 907.5,1153.8 907,1132 906.5,1141.5 906,1125.9 905.5,1150.1 905,1157.5 904.5,1176.4 Z" fill="#1f77b4" stroke="#1f77b4" stroke-width="0.9" stroke-linejoin="bevel"/>
<path d="M876.6,969.3h-3.4M876.6,1012.8h-3.4M876.6,1056.3h-3.4M876.6,1099.8h-3.4M876.6,1143.3h-3.4M876.6,1186.8h-3.4M876.6,1230.3h-3.4M904.5,1244.1v3.4M1045.0,1244.1v3.4M1185.5,1244.1v3.4M1326.0,1244.1v3.4M1466.5,1244.1v3.4" stroke="#444" stroke-width="0.8" fill="none"/>
<g shape-rendering="crispEdges"><rect x="876" y="955" width="619" height="1" fill="#aaa"/><rect x="876" y="1244" width="619" height="1" fill="#222"/><rect x="876" y="955" width="1" height="290" fill="#333"/><rect x="1494" y="955" width="1" height="290" fill="#000"/></g>
<g class="tk" text-anchor="end">
<text x="870.7" y="977.2">0.6</text>
<text x="870.7" y="1020.7">0.4</text>
<text x="870.7" y="1064.2">0.2</text>
<text x="870.7" y="1107.7">0.0</text>
<text x="870.7" y="1151.2">−0.2</text>
<text x="870.7" y="1194.7">−0.4</text>
<text x="870.7" y="1238.2">−0.6</text>
</g>
<g class="tk" text-anchor="middle">
<text x="904.5" y="1266.9">0</text>
<text x="1045.0" y="1266.9">5</text>
<text x="1185.5" y="1266.9">10</text>
<text x="1326.0" y="1266.9">15</text>
<text x="1466.5" y="1266.9">20</text>
</g>
<text class="lb" text-anchor="middle" x="1185.3" y="1293.9">Time (sec)</text>
<text class="lb" text-anchor="middle" transform="translate(809.2,1101.3) rotate(-90)">Amplitude (dB)</text>
</g>
<g>
<path d="M115.5,1576.6 L115.5,1555.8 116,1556.8 116.5,1557.1 117,1506.7 117.5,1518.2 118,1558.9 118.5,1554.7 119,1541.8 119.5,1537.3 120,1548.1 120.5,1549.1 121,1538.4 121.5,1551.5 122,1531.2 122.5,1484.2 123,1557.9 123.5,1553.4 124,1498.2 124.5,1528.6 125,1540 125.5,1557.8 126,1560.9 126.5,1539.5 127,1558 127.5,1562.5 128,1559.6 128.5,1564 129,1529.3 129.5,1565.3 130,1563.6 130.5,1527.7 131,1560.1 131.5,1560.9 132,1555 132.5,1549.9 133,1559.9 133.5,1562.4 134,1548.7 134.5,1499.2 135,1544.6 135.5,1556.4 136,1545.4 136.5,1564.6 137,1565.7 137.5,1565 138,1543.3 138.5,1552.6 139,1535.9 139.5,1560 140,1561.9 140.5,1486.2 141,1542.9 141.5,1551.8 142,1530.7 142.5,1562 143,1537.4 143.5,1559.8 144,1533.1 144.5,1560.8 145,1558.3 145.5,1553.4 146,1553.5 146.5,1561.6 147,1546 147.5,1538.7 148,1562.7 148.5,1561.3 149,1545.3 149.5,1563.2 150,1502.2 150.5,1543.2 151,1539.8 151.5,1553.7 152,1558 152.5,1562.7 153,1559.8 153.5,1561.8 154,1530.3 154.5,1563.4 155,1547.5 155.5,1539.4 156,1563.1 156.5,1525.1 157,1545.3 157.5,1481.2 158,1547.3 158.5,1554 159,1554.2 159.5,1514.2 160,1527.3 160.5,1553.2 161,1548.8 161.5,1554.9 162,1564 162.5,1551.7 163,1558.4 163.5,1544.1 164,1560 164.5,1551.7 165,1554.6 165.5,1564 166,1511.2 166.5,1560.2 167,1558.8 167.5,1562.7 168,1565.7 168.5,1564.2 169,1565.9 169.5,1565.9 170,1547.2 170.5,1562.8 171,1559.1 171.5,1561.1 172,1557.3 172.5,1553.1 173,1544 173.5,1489.2 174,1558.1 174.5,1554.5 175,1562.8 175.5,1553.4 176,1564.1 176.5,1555.2 177,1565.6 177.5,1553.2 178,1563.9 178.5,1547.9 179,1539.7 179.5,1550.4 180,1554.2 180.5,1563.7 181,1564.3 181.5,1553.1 182,1567.8 182.5,1547.3 183,1502.2 183.5,1556.3 184,1558.2 184.5,1553.7 185,1525.4 185.5,1560.7 186,1553 186.5,1547.9 187,1555.3 187.5,1552.3 188,1561.3 188.5,1556.9 189,1550.2 189.5,1557.3 190,1512.2 190.5,1540.3 191,1561.8 191.5,1523.4 192,1514.2 192.5,1546.5 193,1535.5 193.5,1557 194,1557.3 194.5,1554.5 195,1551.2 195.5,1552.9 196,1516.2 196.5,1543.4 197,1557.5 197.5,1553.8 198,1561.7 198.5,1556.4 199,1516.2 199.5,1540 200,1544.4 200.5,1558 201,1532 201.5,1538 202,1533.9 202.5,1537.7 203,1560.1 203.5,1524.3 204,1559.5 204.5,1544 205,1538.5 205.5,1557.6 206,1548.9 206.5,1490.2 207,1553.6 207.5,1561.2 208,1558.9 208.5,1517.2 209,1532.7 209.5,1538.9 210,1546.4 210.5,1555.5 211,1559.6 211.5,1535.9 212,1541.4 212.5,1540.6 213,1558.5 213.5,1551.2 214,1556.8 214.5,1554.1 215,1479.1 215.5,1546.1 216,1556.7 216.5,1542.7 217,1561 217.5,1536.4 218,1551.7 218.5,1561.7 219,1559.2 219.5,1554.2 220,1557 220.5,1546.4 221,1549.5 221.5,1549.9 222,1487.2 222.5,1556 223,1555.7 223.5,1534.3 224,1551.4 224.5,1519.8 225,1527.4 225.5,1536.4 226,1559.8 226.5,1527.5 227,1535.8 227.5,1558.3 228,1526.4 228.5,1560 229,1532.7 229.5,1555.7 230,1550 230.5,1525.3 231,1560.2 231.5,1545.1 232,1546.2 232.5,1519.3 233,1554.9 233.5,1530.3 234,1560.9 234.5,1533.1 235,1530.4 235.5,1549.1 236,1531.1 236.5,1557 237,1503.2 237.5,1556.1 238,1532.2 238.5,1558.8 239,1560.4 239.5,1561.6 240,1510.2 240.5,1529.8 241,1554.9 241.5,1521.6 242,1541.2 242.5,1542.9 243,1564 243.5,1566.3 244,1556.8 244.5,1514.2 245,1564 245.5,1549.1 246,1542.6 246.5,1512.2 247,1529.4 247.5,1543.5 248,1550.2 248.5,1554 249,1547.1 249.5,1559.6 250,1535.4 250.5,1555.9 251,1555.1 251.5,1557.1 252,1536 252.5,1477.1 253,1558.8 253.5,1518.7 254,1551.5 254.5,1561.4 255,1533.1 255.5,1559.4 256,1562.1 256.5,1550.3 257,1551 257.5,1548.3 258,1559.6 258.5,1541.3 259,1551.1 259.5,1563.6 260,1524.7 260.5,1561.1 261,1555.3 261.5,1562.7 262,1555 262.5,1535.5 263,1547.8 263.5,1551.1 264,1560.7 264.5,1562.6 265,1550.3 265.5,1554.1 266,1527.2 266.5,1520.9 267,1452.1 267.5,1558.4 268,1532.6 268.5,1558 269,1555 269.5,1517.2 270,1521.3 270.5,1504.6 271,1555.2 271.5,1529.3 272,1546 272.5,1534 273,1447.1 273.5,1560.4 274,1543.4 274.5,1532.9 275,1540.9 275.5,1513.2 276,1551.4 276.5,1552.3 277,1543.4 277.5,1559.1 278,1539.5 278.5,1549.6 279,1562.1 279.5,1550.8 280,1553.2 280.5,1508.2 281,1546.8 281.5,1506.3 282,1533.4 282.5,1559.4 283,1549.1 283.5,1492.2 284,1535.7 284.5,1542.7 285,1537 285.5,1552.6 286,1534.4 286.5,1560.7 287,1559.2 287.5,1491.2 288,1559.2 288.5,1555.1 289,1562.4 289.5,1518.2 290,1546.9 290.5,1559.8 291,1552.4 291.5,1561.2 292,1556.6 292.5,1565.4 293,1544.2 293.5,1564.7 294,1557.1 294.5,1564 295,1532.8 295.5,1474.1 296,1542.4 296.5,1562.1 297,1547.3 297.5,1541.3 298,1555.9 298.5,1564.9 299,1559.1 299.5,1556.5 300,1557.7 300.5,1556.5 301,1552.9 301.5,1498.2 302,1552 302.5,1555.8 303,1564.4 303.5,1564.1 304,1561.8 304.5,1524.7 305,1548.7 305.5,1550.7 306,1558.4 306.5,1552.8 307,1558.7 307.5,1561.5 308,1563.8 308.5,1547.9 309,1538.3 309.5,1504.2 310,1548.2 310.5,1558.2 311,1550.1 311.5,1563.5 312,1541.8 312.5,1557.4 313,1556.1 313.5,1561.7 314,1562.5 314.5,1557 315,1560.7 315.5,1554.6 316,1556.4 316.5,1557.2 317,1510.2 317.5,1551.9 318,1563.9 318.5,1515.2 319,1563 319.5,1560.5 320,1518.1 320.5,1539.2 321,1563.7 321.5,1541.6 322,1562.9 322.5,1553.6 323,1558.8 323.5,1445.1 324,1559.5 324.5,1566.2 325,1558.8 325.5,1555.2 326,1558.3 326.5,1558.5 327,1558.9 327.5,1563.2 328,1557.2 328.5,1558 329,1558.1 329.5,1533.7 330,1537.4 330.5,1562.9 331,1525.3 331.5,1536.9 332,1562.3 332.5,1560.5 333,1532.6 333.5,1537.4 334,1534.4 334.5,1547.4 335,1551.6 335.5,1551.1 336,1560.6 336.5,1551.1 337,1527.5 337.5,1527.7 338,1483.2 338.5,1527 339,1529.5 339.5,1540.8 340,1507.2 340.5,1551.5 341,1553.4 341.5,1534.4 342,1535.3 342.5,1562.1 343,1547.3 343.5,1546.8 344,1559.4 344.5,1530 345,1542.9 345.5,1564.9 346,1551.5 346.5,1564.1 347,1544.9 347.5,1487.2 348,1565.4 348.5,1565.9 349,1562.8 349.5,1550.9 350,1549.4 350.5,1562 351,1552.8 351.5,1559 352,1542.3 352.5,1511.2 353,1562.9 353.5,1558.2 354,1541.5 354.5,1562 355,1550.4 355.5,1562.4 356,1550.9 356.5,1541.5 357,1546.1 357.5,1558.5 358,1535.6 358.5,1540.2 359,1543.5 359.5,1504.2 360,1517.4 360.5,1541.8 361,1563.8 361.5,1519.3 362,1529.3 362.5,1554.8 363,1563.5 363.5,1511.2 364,1558.3 364.5,1546.8 365,1550 365.5,1539 366,1562.4 366.5,1493.2 367,1519.5 367.5,1559 368,1543.5 368.5,1556.3 369,1557 369.5,1543.6 370,1561.6 370.5,1527.6 371,1561.2 371.5,1546.1 372,1551.3 372.5,1561.1 373,1560.7 373.5,1519.3 374,1559.6 374.5,1546.3 375,1562.7 375.5,1547 376,1520.3 376.5,1565 377,1544.3 377.5,1549.2 378,1555.6 378.5,1550.2 379,1546.8 379.5,1539.9 380,1552.4 380.5,1553.1 381,1551 381.5,1444.7 382,1564.1 382.5,1554.4 383,1562.9 383.5,1549.9 384,1562.1 384.5,1562.7 385,1562.4 385.5,1552.4 386,1563.1 386.5,1562.4 387,1541.3 387.5,1541.4 388,1541.8 388.5,1560.5 389,1561.8 389.5,1512.2 390,1557.6 390.5,1549 391,1556 391.5,1561.6 392,1547.7 392.5,1552.9 393,1554.5 393.5,1562.1 394,1553 394.5,1539.1 395,1540.9 395.5,1551.9 396,1490.2 396.5,1554.9 397,1563.7 397.5,1549.5 398,1554.1 398.5,1522 399,1527.3 399.5,1563.1 400,1549.9 400.5,1562.6 401,1562.2 401.5,1533.7 402,1564.1 402.5,1558.6 403,1557.3 403.5,1556.2 404,1524.3 404.5,1564.2 405,1555 405.5,1564.5 406,1490.2 406.5,1562.7 407,1554.3 407.5,1564.2 408,1565.4 408.5,1565.8 409,1547.1 409.5,1556.3 410,1561.5 410.5,1552.2 411,1549.8 411.5,1508.2 412,1564.4 412.5,1551.1 413,1544 413.5,1507.2 414,1542.9 414.5,1550 415,1560.4 415.5,1561.8 416,1563.7 416.5,1561.8 417,1555 417.5,1539.9 418,1555.5 418.5,1535.6 419,1551.8 419.5,1547.1 420,1545.3 420.5,1540.9 421,1560.2 421.5,1564.2 422,1543.5 422.5,1541.1 423,1563.1 423.5,1563.2 424,1562.9 424.5,1556.5 425,1511.2 425.5,1528 426,1550.2 426.5,1555.6 427,1551.1 427.5,1547.6 428,1552.5 428.5,1540.4 429,1562.9 429.5,1533.8 430,1543.8 430.5,1554.9 431,1550.8 431.5,1555 432,1542.4 432.5,1552.3 433,1518.2 433.5,1553.7 434,1540.6 434.5,1560.6 435,1560.9 435.5,1558.6 436,1558.6 436.5,1564.2 437,1548.5 437.5,1550.9 438,1546.6 438.5,1563.6 439,1555.3 439.5,1544.6 440,1549.5 440.5,1481.2 441,1552.7 441.5,1537 442,1542 442.5,1558.2 443,1539.2 443.5,1539.6 444,1554.1 444.5,1562.5 445,1553.2 445.5,1539.9 446,1545.4 446.5,1536.3 447,1524 447.5,1506.2 448,1551.5 448.5,1555.1 449,1556.9 449.5,1510.2 450,1531.2 450.5,1539.9 451,1548 451.5,1556 452,1534.2 452.5,1527.7 453,1550 453.5,1547.9 454,1561.1 454.5,1490.2 455,1536.8 455.5,1544.2 456,1512.2 456.5,1542.3 457,1534.6 457.5,1538.9 458,1560.3 458.5,1532 459,1535.9 459.5,1550.5 460,1548.9 460.5,1540.4 461,1562.9 461.5,1549.4 462,1559.6 462.5,1548.7 463,1554.9 463.5,1546.7 464,1521.3 464.5,1561 465,1558.9 465.5,1511.1 466,1537.5 466.5,1539.7 467,1560.6 467.5,1536.1 468,1536.9 468.5,1550.1 469,1549.5 469.5,1542 470,1553.9 470.5,1551.8 471,1512.2 471.5,1535.8 472,1514.2 472.5,1555.4 473,1549.8 473.5,1533.2 474,1513.7 474.5,1561.9 475,1541.1 475.5,1557.6 476,1549.7 476.5,1560.6 477,1530 477.5,1561.9 478,1515.5 478.5,1545.8 479,1547.8 479.5,1541 480,1543.1 480.5,1530.3 481,1551.6 481.5,1535.1 482,1521.1 482.5,1563 483,1554.2 483.5,1544.6 484,1538.9 484.5,1478.1 485,1557.8 485.5,1538.8 486,1509.2 486.5,1561.5 487,1561.9 487.5,1558.3 488,1537.8 488.5,1564.1 489,1543.6 489.5,1538.5 490,1528.3 490.5,1551.7 491,1551.2 491.5,1561.7 492,1557.5 492.5,1528.3 493,1542.8 493.5,1536.8 494,1550.6 494.5,1549.5 495,1533.3 495.5,1545.2 496,1549.5 496.5,1555.9 497,1558.4 497.5,1562.9 498,1538.3 498.5,1558.3 499,1562.9 499.5,1523.3 500,1563.3 500.5,1557.6 501,1550.3 501.5,1559.3 502,1562.5 502.5,1543.9 503,1543.7 503.5,1547.4 504,1554 504.5,1560.6 505,1562.5 505.5,1563.2 506,1545.6 506.5,1557.7 507,1555 507.5,1543.9 508,1562.9 508.5,1497.2 509,1563.9 509.5,1519.3 510,1561.4 510.5,1544.9 511,1559.2 511.5,1533.4 512,1560 512.5,1557.2 513,1557.2 513.5,1544.6 514,1562.7 514.5,1492.2 515,1548.1 515.5,1551.8 516,1562.3 516.5,1558.4 517,1550.7 517.5,1544.4 518,1564.4 518.5,1544.8 519,1543.7 519.5,1555.3 520,1556 520.5,1559 521,1562.4 521.5,1548.6 522,1540.1 522.5,1545 523,1499.2 523.5,1545 524,1563 524.5,1528.5 525,1543.7 525.5,1487.2 526,1545.1 526.5,1552.4 527,1546.9 527.5,1564.9 528,1559.4 528.5,1556.6 529,1561.9 529.5,1537.4 530,1539.2 530.5,1541.1 531,1500.2 531.5,1558.6 532,1546.1 532.5,1521.7 533,1561.8 533.5,1547.3 534,1562.8 534.5,1558.8 535,1538.8 535.5,1534 536,1538.5 536.5,1537.5 537,1543.9 537.5,1540.4 538,1549 538.5,1538 539,1512.2 539.5,1561.5 540,1546.3 540.5,1478.1 541,1551 541.5,1535.8 542,1539.6 542.5,1555.9 543,1526.1 543.5,1527.3 544,1557.7 544.5,1555 545,1537.1 545.5,1486.2 546,1531.6 546.5,1533.7 547,1521.3 547.5,1562.6 548,1553.7 548.5,1541.5 549,1543.7 549.5,1556 550,1554.2 550.5,1554.3 551,1559.8 551.5,1513.5 552,1549.6 552.5,1562 553,1547.3 553.5,1560.2 554,1553.7 554.5,1560.6 555,1535.6 555.5,1558.7 556,1518.2 556.5,1556 557,1562.7 557.5,1559.9 558,1556.5 558.5,1522.7 559,1556 559.5,1563.3 560,1564.1 560.5,1527.3 561,1530.8 561.5,1556.3 562,1551.4 562.5,1558.4 563,1553.3 563.5,1561.8 564,1565.2 564.5,1540.8 565,1566.6 565.5,1569.3 566,1569.5 566.5,1565.1 567,1566.1 567.5,1569 568,1562.8 568.5,1559.4 569,1532.3 569.5,1544.6 570,1562.5 570.5,1565 571,1558.1 571.5,1563.9 572,1562.1 572.5,1562.9 573,1562.9 573.5,1566.7 574,1568.3 574.5,1563.9 575,1566.6 575.5,1503.2 576,1553.8 576.5,1556 577,1541.5 577.5,1562.9 578,1567.7 578.5,1563 579,1556.4 579.5,1554.7 580,1565.1 580.5,1564.2 581,1555.5 581.5,1551.7 582,1554.9 582.5,1565.5 583,1567.8 583.5,1560.7 584,1560.8 584.5,1466.1 585,1556.2 585.5,1543.6 586,1561.1 586.5,1547.6 587,1527.3 587.5,1559 588,1537.7 588.5,1549.1 589,1546.5 589.5,1557.3 590,1546.4 590.5,1542.9 591,1539.7 591.5,1544.6 592,1500.2 592.5,1546.7 593,1547.9 593.5,1556.9 594,1543.1 594.5,1520.3 595,1545.8 595.5,1555.2 596,1541.3 596.5,1538.7 597,1552 597.5,1538.4 598,1545.2 598.5,1558.9 599,1548 599.5,1515.2 600,1561.1 600.5,1550.5 601,1558.4 601.5,1518.2 602,1557.7 602.5,1562 603,1554.9 603.5,1561.7 604,1562.9 604.5,1540.6 605,1556.5 605.5,1534.2 606,1550.2 606.5,1546.7 607,1502.2 607.5,1558.3 608,1564 608.5,1558.5 609,1551.1 609.5,1524.7 610,1527.3 610.5,1566.7 611,1564.9 611.5,1554.3 612,1558.7 612.5,1555.4 613,1560 613.5,1546.3 614,1548.5 614.5,1538.9 615,1554.7 615.5,1527.3 616,1562 616.5,1554.7 617,1560.1 617.5,1561.3 618,1563 618.5,1553.5 619,1555.8 619.5,1563.4 620,1522.1 620.5,1522.2 621,1548.7 621.5,1561.8 622,1561.1 622.5,1548.3 623,1529.3 623.5,1552.8 624,1525.8 624.5,1552.8 625,1555.3 625.5,1553.9 626,1552.7 626.5,1550.2 627,1557.3 627.5,1552.2 628,1548 628.5,1543.7 629,1521.9 629.5,1562.1 630,1545.6 630.5,1545.9 631,1555 631.5,1490.2 632,1554.6 632.5,1544.6 633,1521.3 633.5,1557.9 634,1549.9 634.5,1549.9 635,1561.6 635.5,1526.4 636,1527.8 636.5,1561.1 637,1564.3 637.5,1548 638,1562.6 638.5,1509.2 639,1555.1 639.5,1563.1 640,1545 640.5,1561.8 641,1556.6 641.5,1556.5 642,1562.7 642.5,1522.2 643,1548.3 643.5,1553.6 644,1532.9 644.5,1537.5 645,1537.1 645.5,1549.9 646,1557.1 646.5,1535.4 647,1524.8 647.5,1521.3 648,1557.7 648.5,1554.5 649,1557.5 649.5,1559.1 650,1554.2 650.5,1558.8 651,1550.6 651.5,1551.7 652,1554.1 652.5,1563.6 653,1562.6 653.5,1553.8 654,1562.1 654.5,1508.2 655,1558.1 655.5,1541.7 656,1553.3 656.5,1525.3 657,1556.8 657.5,1551.4 658,1556 658.5,1548.2 659,1557.7 659.5,1554.4 660,1556.6 660.5,1559.9 661,1564.4 661.5,1531.3 662,1549.4 662.5,1537.1 663,1555.6 663.5,1558 664,1563.1 664.5,1510.2 665,1555.8 665.5,1563.2 666,1564.6 666.5,1562.3 667,1553.5 667.5,1546.9 668,1551.4 668.5,1540.3 669,1556 669.5,1544.6 670,1490.2 670.5,1545.2 671,1553.4 671.5,1555.8 672,1549.1 672.5,1556.8 673,1550.3 673.5,1563.9 674,1554.7 674.5,1560.5 675,1564.7 675.5,1555 676,1554.5 676.5,1564.1 677,1557.2 677.5,1563.1 L677.5,1576.6 L677.5,1590.1 677,1596 676.5,1589.1 676,1598.7 675.5,1598.2 675,1588.5 674.5,1592.7 674,1598.5 673.5,1589.3 673,1602.9 672.5,1596.4 672,1604.1 671.5,1597.4 671,1599.8 670.5,1608 670,1663 669.5,1608.6 669,1597.2 668.5,1612.9 668,1601.8 667.5,1606.3 667,1599.7 666.5,1590.9 666,1588.6 665.5,1590 665,1597.4 664.5,1643 664,1590.1 663.5,1595.2 663,1597.6 662.5,1616.1 662,1603.8 661.5,1621.9 661,1588.8 660.5,1593.3 660,1596.6 659.5,1598.8 659,1595.5 658.5,1605 658,1597.2 657.5,1601.8 657,1596.4 656.5,1627.9 656,1599.9 655.5,1611.5 655,1595.1 654.5,1645 654,1591.1 653.5,1599.4 653,1590.6 652.5,1589.6 652,1599.1 651.5,1601.5 651,1602.6 650.5,1594.4 650,1599 649.5,1594.1 649,1595.7 648.5,1598.7 648,1595.5 647.5,1631.9 647,1628.4 646.5,1617.8 646,1596.1 645.5,1603.3 645,1616.1 644.5,1615.7 644,1620.3 643.5,1599.6 643,1604.9 642.5,1631 642,1590.5 641.5,1596.7 641,1596.6 640.5,1591.4 640,1608.2 639.5,1590.1 639,1598.1 638.5,1644 638,1590.6 637.5,1605.2 637,1588.9 636.5,1592.1 636,1625.4 635.5,1626.8 635,1591.6 634.5,1603.3 634,1603.3 633.5,1595.3 633,1631.9 632.5,1608.6 632,1598.6 631.5,1663 631,1598.2 630.5,1607.3 630,1607.6 629.5,1591.1 629,1631.3 628.5,1609.5 628,1605.2 627.5,1601 627,1595.9 626.5,1603 626,1600.5 625.5,1599.3 625,1597.9 624.5,1600.4 624,1627.4 623.5,1600.4 623,1623.9 622.5,1604.9 622,1592.1 621.5,1591.4 621,1604.5 620.5,1631 620,1631.1 619.5,1589.8 619,1597.4 618.5,1599.7 618,1590.2 617.5,1591.9 617,1593.1 616.5,1598.5 616,1591.2 615.5,1625.9 615,1598.5 614.5,1614.3 614,1604.7 613.5,1606.9 613,1593.2 612.5,1597.8 612,1594.5 611.5,1598.9 611,1588.3 610.5,1586.5 610,1625.9 609.5,1628.5 609,1602.1 608.5,1594.7 608,1589.2 607.5,1594.9 607,1651 606.5,1606.5 606,1603 605.5,1619 605,1596.7 604.5,1612.6 604,1590.3 603.5,1591.5 603,1598.3 602.5,1591.2 602,1595.5 601.5,1635 601,1594.8 600.5,1602.7 600,1592.1 599.5,1638 599,1605.2 598.5,1594.3 598,1608 597.5,1614.8 597,1601.2 596.5,1614.5 596,1611.9 595.5,1598 595,1607.4 594.5,1632.9 594,1610.1 593.5,1596.3 593,1605.3 592.5,1606.5 592,1653 591.5,1608.6 591,1613.5 590.5,1610.3 590,1606.8 589.5,1595.9 589,1606.7 588.5,1604.1 588,1615.5 587.5,1594.2 587,1625.9 586.5,1605.6 586,1592.1 585.5,1609.6 585,1597 584.5,1687.1 584,1592.4 583.5,1592.5 583,1585.4 582.5,1587.7 582,1598.3 581.5,1601.5 581,1597.7 580.5,1589 580,1588.1 579.5,1598.5 579,1596.8 578.5,1590.2 578,1585.5 577.5,1590.3 577,1611.7 576.5,1597.2 576,1599.4 575.5,1650 575,1586.6 574.5,1589.3 574,1584.9 573.5,1586.5 573,1590.3 572.5,1590.3 572,1591.1 571.5,1589.3 571,1595.1 570.5,1588.2 570,1590.7 569.5,1608.6 569,1620.9 568.5,1593.8 568,1590.4 567.5,1584.2 567,1587.1 566.5,1588.1 566,1583.7 565.5,1583.9 565,1586.6 564.5,1612.4 564,1588 563.5,1591.4 563,1599.9 562.5,1594.8 562,1601.8 561.5,1596.9 561,1622.4 560.5,1625.9 560,1589.1 559.5,1589.9 559,1597.2 558.5,1630.5 558,1596.7 557.5,1593.3 557,1590.5 556.5,1597.2 556,1635 555.5,1594.5 555,1617.6 554.5,1592.6 554,1599.5 553.5,1593 553,1605.9 552.5,1591.2 552,1603.6 551.5,1639.7 551,1593.4 550.5,1598.9 550,1599 549.5,1597.2 549,1609.5 548.5,1611.7 548,1599.5 547.5,1590.6 547,1631.9 546.5,1619.5 546,1621.6 545.5,1667 545,1616.1 544.5,1598.2 544,1595.5 543.5,1625.9 543,1627.1 542.5,1597.3 542,1613.6 541.5,1617.4 541,1602.2 540.5,1675.1 540,1606.9 539.5,1591.7 539,1641 538.5,1615.2 538,1604.2 537.5,1612.8 537,1609.3 536.5,1615.7 536,1614.7 535.5,1619.2 535,1614.4 534.5,1594.4 534,1590.4 533.5,1605.9 533,1591.4 532.5,1631.5 532,1607.1 531.5,1594.6 531,1653 530.5,1612.1 530,1614 529.5,1615.8 529,1591.3 528.5,1596.6 528,1593.8 527.5,1588.3 527,1606.3 526.5,1600.8 526,1608.1 525.5,1666 525,1609.5 524.5,1624.7 524,1590.2 523.5,1608.2 523,1654 522.5,1608.2 522,1613.1 521.5,1604.6 521,1590.8 520.5,1594.2 520,1597.2 519.5,1597.9 519,1609.5 518.5,1608.4 518,1588.8 517.5,1608.8 517,1602.5 516.5,1594.8 516,1590.9 515.5,1601.4 515,1605.1 514.5,1661 514,1590.5 513.5,1608.6 513,1596 512.5,1596 512,1593.2 511.5,1619.8 511,1594 510.5,1608.3 510,1591.8 509.5,1633.9 509,1589.3 508.5,1656 508,1590.3 507.5,1609.3 507,1598.2 506.5,1595.5 506,1607.6 505.5,1590 505,1590.7 504.5,1592.6 504,1599.2 503.5,1605.8 503,1609.5 502.5,1609.3 502,1590.7 501.5,1593.9 501,1602.9 500.5,1595.6 500,1589.9 499.5,1629.9 499,1590.3 498.5,1594.9 498,1614.9 497.5,1590.3 497,1594.8 496.5,1597.3 496,1603.7 495.5,1608 495,1619.9 494.5,1603.7 494,1602.6 493.5,1616.4 493,1610.4 492.5,1624.9 492,1595.7 491.5,1591.5 491,1602 490.5,1601.5 490,1624.9 489.5,1614.7 489,1609.6 488.5,1589.1 488,1615.4 487.5,1594.9 487,1591.3 486.5,1591.7 486,1644 485.5,1614.4 485,1595.4 484.5,1675.1 484,1614.3 483.5,1608.6 483,1599 482.5,1590.2 482,1632.1 481.5,1618.1 481,1601.6 480.5,1622.9 480,1610.1 479.5,1612.2 479,1605.4 478.5,1607.4 478,1637.7 477.5,1591.3 477,1623.2 476.5,1592.6 476,1603.5 475.5,1595.6 475,1612.1 474.5,1591.3 474,1639.5 473.5,1620 473,1603.4 472.5,1597.8 472,1639 471.5,1617.4 471,1641 470.5,1601.4 470,1599.3 469.5,1611.2 469,1603.7 468.5,1603.1 468,1616.3 467.5,1617.1 467,1592.6 466.5,1613.5 466,1615.7 465.5,1642.1 465,1594.3 464.5,1592.2 464,1631.9 463.5,1606.5 463,1598.3 462.5,1604.5 462,1593.6 461.5,1603.8 461,1590.3 460.5,1612.8 460,1604.3 459.5,1602.7 459,1617.3 458.5,1621.2 458,1592.9 457.5,1614.3 457,1618.6 456.5,1610.9 456,1641 455.5,1609 455,1616.4 454.5,1663 454,1592.1 453.5,1605.3 453,1603.2 452.5,1625.5 452,1619 451.5,1597.2 451,1605.2 450.5,1613.3 450,1622 449.5,1643 449,1596.3 448.5,1598.1 448,1601.7 447.5,1647 447,1629.2 446.5,1616.9 446,1607.8 445.5,1613.3 445,1600 444.5,1590.7 444,1599.1 443.5,1613.6 443,1614 442.5,1595 442,1611.2 441.5,1616.2 441,1600.5 440.5,1672 440,1603.7 439.5,1608.6 439,1597.9 438.5,1589.6 438,1606.6 437.5,1602.3 437,1604.7 436.5,1589 436,1594.6 435.5,1594.6 435,1592.3 434.5,1592.6 434,1612.6 433.5,1599.5 433,1635 432.5,1600.9 432,1610.8 431.5,1598.2 431,1602.4 430.5,1598.3 430,1609.4 429.5,1619.4 429,1590.3 428.5,1612.8 428,1600.7 427.5,1605.6 427,1602.1 426.5,1597.6 426,1603 425.5,1625.2 425,1642 424.5,1596.7 424,1590.3 423.5,1590 423,1590.1 422.5,1612.1 422,1609.7 421.5,1589 421,1593 420.5,1612.3 420,1607.9 419.5,1606.1 419,1601.4 418.5,1617.6 418,1597.7 417.5,1613.3 417,1598.2 416.5,1591.4 416,1589.5 415.5,1591.4 415,1592.8 414.5,1603.2 414,1610.3 413.5,1646 413,1609.2 412.5,1602.1 412,1588.8 411.5,1645 411,1603.4 410.5,1601 410,1591.7 409.5,1596.9 409,1606.1 408.5,1587.4 408,1587.8 407.5,1589 407,1598.9 406.5,1590.5 406,1663 405.5,1588.7 405,1598.2 404.5,1589 404,1628.9 403.5,1597 403,1595.9 402.5,1594.6 402,1589.1 401.5,1619.5 401,1591 400.5,1590.6 400,1603.3 399.5,1590.1 399,1625.9 398.5,1631.2 398,1599.1 397.5,1603.7 397,1589.5 396.5,1598.3 396,1663 395.5,1601.3 395,1612.3 394.5,1614.1 394,1600.2 393.5,1591.1 393,1598.7 392.5,1600.3 392,1605.5 391.5,1591.6 391,1597.2 390.5,1604.2 390,1595.6 389.5,1641 389,1591.4 388.5,1592.7 388,1611.4 387.5,1611.8 387,1611.9 386.5,1590.8 386,1590.1 385.5,1600.8 385,1590.8 384.5,1590.5 384,1591.1 383.5,1603.3 383,1590.3 382.5,1598.8 382,1589.1 381.5,1708.5 381,1602.2 380.5,1600.1 380,1600.8 379.5,1613.3 379,1606.4 378.5,1603 378,1597.6 377.5,1604 377,1608.9 376.5,1588.2 376,1632.9 375.5,1606.2 375,1590.5 374.5,1606.9 374,1593.6 373.5,1633.9 373,1592.5 372.5,1592.1 372,1601.9 371.5,1607.1 371,1592 370.5,1625.6 370,1591.6 369.5,1609.6 369,1596.2 368.5,1596.9 368,1609.7 367.5,1594.2 367,1633.7 366.5,1660 366,1590.8 365.5,1614.2 365,1603.2 364.5,1606.4 364,1594.9 363.5,1642 363,1589.7 362.5,1598.4 362,1623.9 361.5,1633.9 361,1589.4 360.5,1611.4 360,1635.8 359.5,1649 359,1609.7 358.5,1613 358,1617.6 357.5,1594.7 357,1607.1 356.5,1611.7 356,1602.3 355.5,1590.8 355,1602.8 354.5,1591.2 354,1611.7 353.5,1595 353,1590.3 352.5,1642 352,1610.9 351.5,1594.2 351,1600.4 350.5,1591.2 350,1603.8 349.5,1602.3 349,1590.4 348.5,1587.3 348,1587.8 347.5,1666 347,1608.3 346.5,1589.1 346,1601.7 345.5,1588.3 345,1610.3 344.5,1623.2 344,1593.8 343.5,1606.4 343,1605.9 342.5,1591.1 342,1617.9 341.5,1618.8 341,1599.8 340.5,1601.7 340,1646 339.5,1612.4 339,1623.7 338.5,1626.2 338,1670 337.5,1625.5 337,1625.7 336.5,1602.1 336,1592.6 335.5,1602.1 335,1601.6 334.5,1605.8 334,1618.8 333.5,1615.8 333,1620.6 332.5,1592.7 332,1590.9 331.5,1616.3 331,1627.9 330.5,1590.3 330,1615.8 329.5,1619.5 329,1595.1 328.5,1595.2 328,1596 327.5,1590 327,1594.3 326.5,1594.7 326,1594.9 325.5,1598 325,1594.4 324.5,1587 324,1593.7 323.5,1708.1 323,1594.4 322.5,1599.6 322,1590.3 321.5,1611.6 321,1589.5 320.5,1614 320,1635.1 319.5,1592.7 319,1590.2 318.5,1638 318,1589.3 317.5,1601.3 317,1643 316.5,1596 316,1596.8 315.5,1598.6 315,1592.5 314.5,1596.2 314,1590.7 313.5,1591.5 313,1597.1 312.5,1595.8 312,1611.4 311.5,1589.7 311,1603.1 310.5,1595 310,1605 309.5,1649 309,1614.9 308.5,1605.3 308,1589.4 307.5,1591.7 307,1594.5 306.5,1600.4 306,1594.8 305.5,1602.5 305,1604.5 304.5,1628.5 304,1591.4 303.5,1589.1 303,1588.8 302.5,1597.4 302,1601.2 301.5,1655 301,1600.3 300.5,1596.7 300,1595.5 299.5,1596.7 299,1594.1 298.5,1588.3 298,1597.3 297.5,1611.9 297,1605.9 296.5,1591.1 296,1610.8 295.5,1679.1 295,1620.4 294.5,1589.2 294,1596.1 293.5,1588.5 293,1609 292.5,1587.8 292,1596.6 291.5,1592 291,1600.8 290.5,1593.4 290,1606.3 289.5,1635 289,1590.8 288.5,1598.1 288,1594 287.5,1662 287,1594 286.5,1592.5 286,1618.8 285.5,1600.6 285,1616.2 284.5,1610.5 284,1617.5 283.5,1661 283,1604.1 282.5,1593.8 282,1619.8 281.5,1646.9 281,1606.4 280.5,1645 280,1600 279.5,1602.4 279,1591.1 278.5,1603.6 278,1613.7 277.5,1594.1 277,1609.8 276.5,1600.9 276,1601.8 275.5,1640 275,1612.3 274.5,1620.3 274,1609.8 273.5,1592.8 273,1706.1 272.5,1619.2 272,1607.2 271.5,1623.9 271,1598 270.5,1648.6 270,1631.9 269.5,1636 269,1598.2 268.5,1595.2 268,1620.6 267.5,1594.8 267,1701.1 266.5,1632.3 266,1626 265.5,1599.1 265,1602.9 264.5,1590.6 264,1592.5 263.5,1602.1 263,1605.4 262.5,1617.7 262,1598.2 261.5,1590.5 261,1597.9 260.5,1592.1 260,1628.5 259.5,1589.6 259,1602.1 258.5,1611.9 258,1593.6 257.5,1604.9 257,1602.2 256.5,1602.9 256,1591.1 255.5,1593.8 255,1620.1 254.5,1591.8 254,1601.7 253.5,1634.5 253,1594.4 252.5,1676.1 252,1617.2 251.5,1596.1 251,1598.1 250.5,1597.3 250,1617.8 249.5,1593.6 249,1606.1 248.5,1599.2 248,1603 247.5,1609.7 247,1623.8 246.5,1641 246,1610.6 245.5,1604.1 245,1589.2 244.5,1639 244,1596.4 243.5,1586.9 243,1589.2 242.5,1610.3 242,1612 241.5,1631.6 241,1598.3 240.5,1623.4 240,1643 239.5,1591.6 239,1592.8 238.5,1594.4 238,1621 237.5,1597.1 237,1650 236.5,1596.2 236,1622.1 235.5,1604.1 235,1622.8 234.5,1620.1 234,1592.3 233.5,1622.9 233,1598.3 232.5,1633.9 232,1607 231.5,1608.1 231,1593 230.5,1627.9 230,1603.2 229.5,1597.5 229,1620.5 228.5,1593.2 228,1626.8 227.5,1594.9 227,1617.4 226.5,1625.7 226,1593.4 225.5,1616.8 225,1625.8 224.5,1633.4 224,1601.8 223.5,1618.9 223,1597.5 222.5,1597.2 222,1666 221.5,1603.3 221,1603.7 220.5,1606.8 220,1596.2 219.5,1599 219,1594 218.5,1591.5 218,1601.5 217.5,1616.8 217,1592.2 216.5,1610.5 216,1596.5 215.5,1607.1 215,1674.1 214.5,1599.1 214,1596.4 213.5,1602 213,1594.7 212.5,1612.6 212,1611.8 211.5,1617.3 211,1593.6 210.5,1597.7 210,1606.8 209.5,1614.3 209,1620.5 208.5,1636 208,1594.3 207.5,1592 207,1599.6 206.5,1663 206,1604.3 205.5,1595.6 205,1614.7 204.5,1609.2 204,1593.7 203.5,1628.9 203,1593.1 202.5,1615.5 202,1619.3 201.5,1615.2 201,1621.2 200.5,1595.2 200,1608.8 199.5,1613.2 199,1637 198.5,1596.8 198,1591.5 197.5,1599.4 197,1595.7 196.5,1609.8 196,1637 195.5,1600.3 195,1602 194.5,1598.7 194,1595.9 193.5,1596.2 193,1617.7 192.5,1606.7 192,1639 191.5,1629.8 191,1591.4 190.5,1612.9 190,1641 189.5,1595.9 189,1603 188.5,1596.3 188,1591.9 187.5,1600.9 187,1597.9 186.5,1605.3 186,1600.2 185.5,1592.5 185,1627.8 184.5,1599.5 184,1595 183.5,1596.9 183,1651 182.5,1605.9 182,1585.4 181.5,1600.1 181,1588.9 180.5,1589.5 180,1599 179.5,1602.8 179,1613.5 178.5,1605.3 178,1589.3 177.5,1600 177,1587.6 176.5,1598 176,1589.1 175.5,1599.8 175,1590.4 174.5,1598.7 174,1595.1 173.5,1664 173,1609.2 172.5,1600.1 172,1595.9 171.5,1592.1 171,1594.1 170.5,1590.4 170,1606 169.5,1587.3 169,1587.3 168.5,1589 168,1587.5 167.5,1590.5 167,1594.4 166.5,1593 166,1642 165.5,1589.2 165,1598.6 164.5,1601.5 164,1593.2 163.5,1609.1 163,1594.8 162.5,1601.5 162,1589.2 161.5,1598.3 161,1604.4 160.5,1600 160,1625.9 159.5,1639 159,1599 158.5,1599.2 158,1605.9 157.5,1672 157,1607.9 156.5,1628.1 156,1590.1 155.5,1613.8 155,1605.7 154.5,1589.8 154,1622.9 153.5,1591.4 153,1593.4 152.5,1590.5 152,1595.2 151.5,1599.5 151,1613.4 150.5,1610 150,1651 149.5,1590 149,1607.9 148.5,1591.9 148,1590.5 147.5,1614.5 147,1607.2 146.5,1591.6 146,1599.7 145.5,1599.8 145,1594.9 144.5,1592.4 144,1620.1 143.5,1593.4 143,1615.8 142.5,1591.2 142,1622.5 141.5,1601.4 141,1610.3 140.5,1667 140,1591.3 139.5,1593.2 139,1617.3 138.5,1600.6 138,1609.9 137.5,1588.2 137,1587.5 136.5,1588.6 136,1607.8 135.5,1596.8 135,1608.6 134.5,1654 134,1604.5 133.5,1590.8 133,1593.3 132.5,1603.3 132,1598.2 131.5,1592.3 131,1593.1 130.5,1625.5 130,1589.6 129.5,1587.9 129,1623.9 128.5,1589.2 128,1593.6 127.5,1590.7 127,1595.2 126.5,1613.7 126,1592.3 125.5,1595.4 125,1613.2 124.5,1624.6 124,1655 123.5,1599.8 123,1595.3 122.5,1669 122,1622 121.5,1601.7 121,1614.8 120.5,1604.1 120,1605.1 119.5,1615.9 119,1611.4 118.5,1598.5 118,1594.3 117.5,1635 117,1646.5 116.5,1596.1 116,1596.4 115.5,1597.4 Z" fill="#1f77b4" stroke="#1f77b4" stroke-width="0.9" stroke-linejoin="bevel"/>
<path d="M87.7,1442.8h-3.4M87.7,1476.3h-3.4M87.7,1509.7h-3.4M87.7,1543.2h-3.4M87.7,1576.6h-3.4M87.7,1610.1h-3.4M87.7,1643.5h-3.4M87.7,1677.0h-3.4M87.7,1710.4h-3.4M115.5,1721.1v3.4M256.0,1721.1v3.4M396.5,1721.1v3.4M537.0,1721.1v3.4M677.5,1721.1v3.4" stroke="#444" stroke-width="0.8" fill="none"/>
<g shape-rendering="crispEdges"><rect x="87" y="1431" width="619" height="1" fill="#999"/><rect x="87" y="1721" width="619" height="1" fill="#111"/><rect x="87" y="1431" width="1" height="291" fill="#000"/><rect x="705" y="1431" width="1" height="291" fill="#000"/></g>
<g class="tk" text-anchor="end">
<text x="81.8" y="1450.7">0.4</text>
<text x="81.8" y="1484.2">0.3</text>
<text x="81.8" y="1517.6">0.2</text>
<text x="81.8" y="1551.1">0.1</text>
<text x="81.8" y="1584.5">0.0</text>
<text x="81.8" y="1618.0">−0.1</text>
<text x="81.8" y="1651.4">−0.2</text>
<text x="81.8" y="1684.9">−0.3</text>
<text x="81.8" y="1718.3">−0.4</text>
</g>
<g class="tk" text-anchor="middle">
<text x="115.5" y="1743.9">0</text>
<text x="256.0" y="1743.9">5</text>
<text x="396.5" y="1743.9">10</text>
<text x="537.0" y="1743.9">15</text>
<text x="677.5" y="1743.9">20</text>
</g>
<text class="lb" text-anchor="middle" x="396.6" y="1770.9">Time (sec)</text>
<text class="lb" text-anchor="middle" transform="translate(20.3,1577.9) rotate(-90)">Amplitude (dB)</text>
</g>
<g>
<path d="M917.4,1576.6 L917.4,1515.2 917.9,1504.1 918.4,1453.1 918.9,1503.8 919.4,1513.2 919.9,1500 920.4,1506.5 920.9,1531.3 921.4,1531.8 921.9,1541.1 922.4,1559.7 922.9,1556.5 923.4,1557.6 923.9,1560 924.4,1567.5 924.9,1556.8 925.4,1527.3 925.9,1569.1 926.4,1566.1 926.9,1567.7 927.4,1530.3 927.9,1567.6 928.4,1563.3 928.9,1568.7 929.4,1545.2 929.9,1537 930.4,1541.6 930.9,1535 931.4,1529.6 931.9,1505.2 932.4,1529.9 932.9,1536.3 933.4,1540 933.9,1542.3 934.4,1534.1 934.9,1539.5 935.4,1534.5 935.9,1521.6 936.4,1543.9 936.9,1546.3 937.4,1542.2 937.9,1541.9 938.4,1479.1 938.9,1525.5 939.4,1539.8 939.9,1546.4 940.4,1546.1 940.9,1540.4 941.4,1547.8 941.9,1553.8 942.4,1504.2 942.9,1513.3 943.4,1542.7 943.9,1533.3 944.4,1548.7 944.9,1539.6 945.4,1547.3 945.9,1556 946.4,1548.2 946.9,1545.6 947.4,1561.8 947.9,1562.9 948.4,1565.3 948.9,1560.2 949.4,1559.1 949.9,1565.8 950.4,1565.6 950.9,1546.3 951.4,1561.5 951.9,1560.4 952.4,1563.2 952.9,1564.7 953.4,1568.2 953.9,1567.9 954.4,1566.5 954.9,1562.9 955.4,1538.3 955.9,1565 956.4,1565 956.9,1563.2 957.4,1562.2 957.9,1563.5 958.4,1560.4 958.9,1562.4 959.4,1562.5 959.9,1557.1 960.4,1546.8 960.9,1549.7 961.4,1537.9 961.9,1543.2 962.4,1459.1 962.9,1513.9 963.4,1482.3 963.9,1490.6 964.4,1444.7 964.9,1530.6 965.4,1532.7 965.9,1531.6 966.4,1493.2 966.9,1530.6 967.4,1532.1 967.9,1508.1 968.4,1529.8 968.9,1529.7 969.4,1535.8 969.9,1517.2 970.4,1527.4 970.9,1527.9 971.4,1545.1 971.9,1548.3 972.4,1520.3 972.9,1538.9 973.4,1558 973.9,1542.7 974.4,1556 974.9,1553.3 975.4,1550.3 975.9,1552.1 976.4,1558.1 976.9,1563.1 977.4,1559.2 977.9,1563 978.4,1560.9 978.9,1565.2 979.4,1563.7 979.9,1565.5 980.4,1557.9 980.9,1564.9 981.4,1568.3 981.9,1568.3 982.4,1563 982.9,1566.4 983.4,1557.3 983.9,1554.1 984.4,1543.2 984.9,1512.2 985.4,1529.3 985.9,1538.3 986.4,1549.4 986.9,1531.8 987.4,1515.2 987.9,1552.9 988.4,1543.7 988.9,1553.5 989.4,1523.3 989.9,1531.2 990.4,1542 990.9,1552.6 991.4,1538.6 991.9,1541.6 992.4,1547 992.9,1548.5 993.4,1557.9 993.9,1557.1 994.4,1555.3 994.9,1549.9 995.4,1548.8 995.9,1550.3 996.4,1530.8 996.9,1550.4 997.4,1545.7 997.9,1538.1 998.4,1532.8 998.9,1538.7 999.4,1511.2 999.9,1537.2 1000.4,1533.6 1000.9,1555.2 1001.4,1552.4 1001.9,1530.1 1002.4,1552.4 1002.9,1529.4 1003.4,1540.2 1003.9,1555.4 1004.4,1554.9 1004.9,1556.5 1005.4,1554.6 1005.9,1555.4 1006.4,1544 1006.9,1538.3 1007.4,1551.4 1007.9,1535.3 1008.4,1496.2 1008.9,1539.4 1009.4,1542.1 1009.9,1546.6 1010.4,1545.2 1010.9,1553.3 1011.4,1547.5 1011.9,1538.7 1012.4,1542 1012.9,1560.7 1013.4,1563.2 1013.9,1566.9 1014.4,1567.2 1014.9,1546.8 1015.4,1547.5 1015.9,1540.3 1016.4,1510.2 1016.9,1533.9 1017.4,1539 1017.9,1522.9 1018.4,1524.8 1018.9,1532.2 1019.4,1546 1019.9,1550.6 1020.4,1545 1020.9,1541.6 1021.4,1533.9 1021.9,1552.1 1022.4,1558.3 1022.9,1557.1 1023.4,1539.4 1023.9,1544.8 1024.4,1546.1 1024.9,1545.1 1025.4,1547.1 1025.9,1555.4 1026.4,1538.7 1026.9,1538.4 1027.4,1554.9 1027.9,1558.7 1028.4,1553.5 1028.9,1552.3 1029.4,1538.3 1029.9,1557.5 1030.4,1556.6 1030.9,1564.9 1031.4,1562.8 1031.9,1566.1 1032.4,1566.2 1032.9,1563.7 1033.4,1563.1 1033.9,1546.5 1034.4,1556.7 1034.9,1552.2 1035.4,1549.6 1035.9,1553.5 1036.4,1553.8 1036.9,1560.7 1037.4,1544.7 1037.9,1549.1 1038.4,1543.7 1038.9,1554 1039.4,1496.2 1039.9,1553.8 1040.4,1538.8 1040.9,1548 1041.4,1537.7 1041.9,1542.3 1042.4,1548.8 1042.9,1541.7 1043.4,1554.1 1043.9,1540.3 1044.4,1543.8 1044.9,1547.7 1045.4,1547.3 1045.9,1555.1 1046.4,1541.4 1046.9,1558.5 1047.4,1560.3 1047.9,1549.9 1048.4,1550.1 1048.9,1548.5 1049.4,1550.7 1049.9,1549.7 1050.4,1518.2 1050.9,1559.9 1051.4,1552.2 1051.9,1547.2 1052.4,1553.3 1052.9,1553.8 1053.4,1548.8 1053.9,1546.8 1054.4,1537 1054.9,1547.8 1055.4,1555.2 1055.9,1540.2 1056.4,1489.2 1056.9,1538.1 1057.4,1555.1 1057.9,1555.5 1058.4,1535.6 1058.9,1550.3 1059.4,1549.2 1059.9,1550.1 1060.4,1557.1 1060.9,1543.8 1061.4,1553.9 1061.9,1552.9 1062.4,1551.1 1062.9,1539.9 1063.4,1521.3 1063.9,1553.7 1064.4,1539.6 1064.9,1538.3 1065.4,1511.2 1065.9,1547.6 1066.4,1539.6 1066.9,1540.5 1067.4,1521.3 1067.9,1551.7 1068.4,1548 1068.9,1532.7 1069.4,1545.4 1069.9,1539.4 1070.4,1542.6 1070.9,1545.1 1071.4,1523.8 1071.9,1547.2 1072.4,1547.1 1072.9,1554.2 1073.4,1563.6 1073.9,1568.1 1074.4,1566.4 1074.9,1569.1 1075.4,1567.5 1075.9,1562.6 1076.4,1543.8 1076.9,1549.9 1077.4,1524.8 1077.9,1527.8 1078.4,1526.7 1078.9,1525.1 1079.4,1540.1 1079.9,1512.3 1080.4,1522.2 1080.9,1523.5 1081.4,1504.6 1081.9,1489.8 1082.4,1446.1 1082.9,1475.5 1083.4,1497 1083.9,1488 1084.4,1488.1 1084.9,1507.7 1085.4,1531.7 1085.9,1528.8 1086.4,1511.1 1086.9,1539.3 1087.4,1515.5 1087.9,1547 1088.4,1526.6 1088.9,1538.6 1089.4,1553.3 1089.9,1551.2 1090.4,1531.5 1090.9,1531.9 1091.4,1507.2 1091.9,1523.4 1092.4,1540.8 1092.9,1518.8 1093.4,1541.4 1093.9,1537.5 1094.4,1540.9 1094.9,1529 1095.4,1499.2 1095.9,1531.6 1096.4,1525.3 1096.9,1492.6 1097.4,1549.2 1097.9,1477.1 1098.4,1530.7 1098.9,1529.2 1099.4,1508.4 1099.9,1536.7 1100.4,1484.2 1100.9,1524.8 1101.4,1530.6 1101.9,1532.3 1102.4,1482.2 1102.9,1545.8 1103.4,1532.6 1103.9,1545.4 1104.4,1471.1 1104.9,1542.8 1105.4,1532 1105.9,1557 1106.4,1569.1 1106.9,1566.2 1107.4,1569.6 1107.9,1540.9 1108.4,1537.4 1108.9,1544.3 1109.4,1543.5 1109.9,1539.9 1110.4,1541.8 1110.9,1478.1 1111.4,1541 1111.9,1531.2 1112.4,1554.7 1112.9,1553.9 1113.4,1542.2 1113.9,1540.8 1114.4,1533.8 1114.9,1535.1 1115.4,1551 1115.9,1546.7 1116.4,1546.3 1116.9,1533.8 1117.4,1544.9 1117.9,1536.8 1118.4,1547.6 1118.9,1527.5 1119.4,1546.9 1119.9,1539.9 1120.4,1516.2 1120.9,1516.8 1121.4,1552.3 1121.9,1547 1122.4,1552 1122.9,1553.5 1123.4,1550.2 1123.9,1543.3 1124.4,1515.2 1124.9,1550.8 1125.4,1547.9 1125.9,1540 1126.4,1550.5 1126.9,1551.7 1127.4,1533.2 1127.9,1535.3 1128.4,1537.5 1128.9,1526.1 1129.4,1532.1 1129.9,1536.9 1130.4,1542.2 1130.9,1528.3 1131.4,1546 1131.9,1544.1 1132.4,1546.3 1132.9,1523.1 1133.4,1491.2 1133.9,1547.7 1134.4,1533.8 1134.9,1526.8 1135.4,1510.2 1135.9,1528.4 1136.4,1533.1 1136.9,1540.5 1137.4,1552.8 1137.9,1549.7 1138.4,1556.7 1138.9,1546.2 1139.4,1562.3 1139.9,1554.6 1140.4,1558 1140.9,1565.8 1141.4,1562.2 1141.9,1564.9 1142.4,1565.1 1142.9,1563 1143.4,1566.8 1143.9,1560 1144.4,1566.5 1144.9,1564.8 1145.4,1566 1145.9,1567.7 1146.4,1564.8 1146.9,1567.2 1147.4,1567.5 1147.9,1569.6 1148.4,1568.5 1148.9,1567.2 1149.4,1563.2 1149.9,1563.2 1150.4,1554.6 1150.9,1555.4 1151.4,1556.4 1151.9,1550.2 1152.4,1556.3 1152.9,1551.4 1153.4,1545.4 1153.9,1543.4 1154.4,1554.8 1154.9,1551.4 1155.4,1551 1155.9,1550.2 1156.4,1526.3 1156.9,1538.8 1157.4,1537 1157.9,1547.2 1158.4,1554.9 1158.9,1553.7 1159.4,1559.9 1159.9,1548.6 1160.4,1552.9 1160.9,1549 1161.4,1547 1161.9,1546.3 1162.4,1545.7 1162.9,1551.6 1163.4,1548.4 1163.9,1551.4 1164.4,1547.3 1164.9,1543.2 1165.4,1536.6 1165.9,1507.2 1166.4,1527 1166.9,1535.8 1167.4,1528.3 1167.9,1551.1 1168.4,1560.1 1168.9,1556.8 1169.4,1545.8 1169.9,1525.7 1170.4,1546.6 1170.9,1533.2 1171.4,1548.4 1171.9,1519.8 1172.4,1519.4 1172.9,1461.1 1173.4,1496.2 1173.9,1472.2 1174.4,1452.1 1174.9,1505.2 1175.4,1505 1175.9,1533.1 1176.4,1490.4 1176.9,1529.3 1177.4,1533.8 1177.9,1536 1178.4,1543.4 1178.9,1528.3 1179.4,1554.7 1179.9,1554 1180.4,1509.5 1180.9,1539.1 1181.4,1541.7 1181.9,1548.4 1182.4,1544.4 1182.9,1554 1183.4,1536.5 1183.9,1506.2 1184.4,1548.5 1184.9,1542.6 1185.4,1527.2 1185.9,1518.9 1186.4,1533.6 1186.9,1534.5 1187.4,1537.4 1187.9,1533.3 1188.4,1503.2 1188.9,1541.2 1189.4,1535 1189.9,1533.6 1190.4,1527.3 1190.9,1509.2 1191.4,1545.7 1191.9,1535.7 1192.4,1552 1192.9,1552.3 1193.4,1551.3 1193.9,1547.3 1194.4,1546.4 1194.9,1543.7 1195.4,1492.2 1195.9,1554.2 1196.4,1522.3 1196.9,1542.8 1197.4,1554.4 1197.9,1552.8 1198.4,1543.2 1198.9,1537.2 1199.4,1548.6 1199.9,1550.9 1200.4,1532.5 1200.9,1548.9 1201.4,1547.9 1201.9,1544.2 1202.4,1533.9 1202.9,1547.6 1203.4,1540.1 1203.9,1524.5 1204.4,1541.2 1204.9,1545.4 1205.4,1551.3 1205.9,1507.2 1206.4,1542.9 1206.9,1550 1207.4,1555.1 1207.9,1547.9 1208.4,1548.8 1208.9,1547.7 1209.4,1540.3 1209.9,1549.1 1210.4,1555.8 1210.9,1547.8 1211.4,1536.3 1211.9,1539.1 1212.4,1539.2 1212.9,1544.3 1213.4,1536.4 1213.9,1524.7 1214.4,1533.6 1214.9,1516.2 1215.4,1545.8 1215.9,1548.1 1216.4,1548.7 1216.9,1536.8 1217.4,1547.6 1217.9,1539 1218.4,1545.5 1218.9,1547.7 1219.4,1482.2 1219.9,1545.7 1220.4,1535.1 1220.9,1549.3 1221.4,1552.1 1221.9,1515.2 1222.4,1549.2 1222.9,1525.6 1223.4,1537.2 1223.9,1529.1 1224.4,1533.3 1224.9,1548.9 1225.4,1545.3 1225.9,1526.1 1226.4,1534.5 1226.9,1486.9 1227.4,1523.3 1227.9,1510.5 1228.4,1473.3 1228.9,1445.1 1229.4,1503.8 1229.9,1494.7 1230.4,1506.3 1230.9,1521.8 1231.4,1535.3 1231.9,1542.1 1232.4,1521.8 1232.9,1554.3 1233.4,1549.8 1233.9,1543.3 1234.4,1551.4 1234.9,1541.4 1235.4,1535.1 1235.9,1509.2 1236.4,1540.5 1236.9,1553.5 1237.4,1541.6 1237.9,1551.8 1238.4,1542 1238.9,1558.5 1239.4,1553.1 1239.9,1542.3 1240.4,1553.5 1240.9,1563.4 1241.4,1565.7 1241.9,1561.1 1242.4,1547.6 1242.9,1533 1243.4,1537.5 1243.9,1549.8 1244.4,1529.5 1244.9,1492.2 1245.4,1534.6 1245.9,1536.7 1246.4,1555 1246.9,1540.1 1247.4,1500.8 1247.9,1555 1248.4,1531.5 1248.9,1517.5 1249.4,1468.1 1249.9,1516.4 1250.4,1531.7 1250.9,1531.2 1251.4,1545.7 1251.9,1533.1 1252.4,1546.8 1252.9,1525.7 1253.4,1544 1253.9,1551.9 1254.4,1560.3 1254.9,1545.8 1255.4,1554.4 1255.9,1548.3 1256.4,1531.1 1256.9,1523.7 1257.4,1520.8 1257.9,1544.5 1258.4,1521.8 1258.9,1541.8 1259.4,1522.8 1259.9,1493.6 1260.4,1533.8 1260.9,1512.8 1261.4,1545.3 1261.9,1539.1 1262.4,1541.4 1262.9,1533.5 1263.4,1547.1 1263.9,1539.8 1264.4,1527.4 1264.9,1548.7 1265.4,1502.2 1265.9,1548.3 1266.4,1533.7 1266.9,1541.9 1267.4,1529.7 1267.9,1547 1268.4,1528.2 1268.9,1547.6 1269.4,1546.5 1269.9,1537 1270.4,1514.2 1270.9,1528.8 1271.4,1542 1271.9,1548.8 1272.4,1532.4 1272.9,1532 1273.4,1560.3 1273.9,1562.3 1274.4,1567.1 1274.9,1565 1275.4,1571.1 1275.9,1567.7 1276.4,1571.4 1276.9,1564.3 1277.4,1552.4 1277.9,1554.3 1278.4,1516.2 1278.9,1551.6 1279.4,1547.1 1279.9,1557.7 1280.4,1549.3 1280.9,1550.7 1281.4,1546.2 1281.9,1550.5 1282.4,1552.9 1282.9,1545.9 1283.4,1555.7 1283.9,1546.4 1284.4,1555.9 1284.9,1553.8 1285.4,1555.6 1285.9,1554.9 1286.4,1534.6 1286.9,1546.9 1287.4,1521.7 1287.9,1504.2 1288.4,1539.2 1288.9,1516.1 1289.4,1534.5 1289.9,1531.6 1290.4,1532.7 1290.9,1520.6 1291.4,1491.9 1291.9,1472.1 1292.4,1513.4 1292.9,1533.8 1293.4,1541.6 1293.9,1541.6 1294.4,1537.1 1294.9,1543.5 1295.4,1542.6 1295.9,1548.3 1296.4,1547.4 1296.9,1556.1 1297.4,1564.7 1297.9,1553.3 1298.4,1562.1 1298.9,1565.6 1299.4,1564.6 1299.9,1561.5 1300.4,1552.6 1300.9,1551.1 1301.4,1548 1301.9,1535.8 1302.4,1517.2 1302.9,1528.8 1303.4,1535.5 1303.9,1534.6 1304.4,1546.7 1304.9,1539.1 1305.4,1546.9 1305.9,1550.2 1306.4,1531.5 1306.9,1549.8 1307.4,1529.3 1307.9,1531 1308.4,1533.2 1308.9,1529 1309.4,1548.6 1309.9,1533.6 1310.4,1541.1 1310.9,1509.6 1311.4,1506.6 1311.9,1510.8 1312.4,1505.9 1312.9,1468.1 1313.4,1505 1313.9,1518.6 1314.4,1492.6 1314.9,1527.8 1315.4,1516 1315.9,1525.7 1316.4,1526.1 1316.9,1546.3 1317.4,1556.5 1317.9,1550.7 1318.4,1550.9 1318.9,1554 1319.4,1553 1319.9,1549.4 1320.4,1541.6 1320.9,1538.8 1321.4,1550.7 1321.9,1533.4 1322.4,1531.8 1322.9,1525.3 1323.4,1549.9 1323.9,1543 1324.4,1539.2 1324.9,1551.8 1325.4,1539.7 1325.9,1533.7 1326.4,1512.2 1326.9,1537.5 1327.4,1551.6 1327.9,1540.3 1328.4,1537.5 1328.9,1552.5 1329.4,1552.5 1329.9,1551 1330.4,1552 1330.9,1556.6 1331.4,1543.2 1331.9,1547.6 1332.4,1544.8 1332.9,1549.9 1333.4,1556.1 1333.9,1532.9 1334.4,1558.1 1334.9,1558.7 1335.4,1547.5 1335.9,1551.1 1336.4,1540.7 1336.9,1543.2 1337.4,1551.3 1337.9,1548.9 1338.4,1542.9 1338.9,1545.5 1339.4,1535.9 1339.9,1532 1340.4,1522.5 1340.9,1517.3 1341.4,1466.1 1341.9,1521.1 1342.4,1533.9 1342.9,1522.3 1343.4,1532.5 1343.9,1538 1344.4,1538.1 1344.9,1541.4 1345.4,1542.8 1345.9,1556.3 1346.4,1555.2 1346.9,1562.2 1347.4,1552.6 1347.9,1560.4 1348.4,1564.6 1348.9,1567.9 1349.4,1570.4 1349.9,1570.1 1350.4,1571.9 1350.9,1570.6 1351.4,1570.5 1351.9,1572 1352.4,1563 1352.9,1561.7 1353.4,1555.1 1353.9,1561.5 1354.4,1557.5 1354.9,1544.4 1355.4,1541 1355.9,1521.6 1356.4,1538.2 1356.9,1540.3 1357.4,1520.5 1357.9,1517.3 1358.4,1502.8 1358.9,1460.5 1359.4,1444.7 1359.9,1509.4 1360.4,1524.5 1360.9,1513.1 1361.4,1518.5 1361.9,1550 1362.4,1557 1362.9,1558.7 1363.4,1550.9 1363.9,1543.3 1364.4,1557 1364.9,1508.2 1365.4,1555.2 1365.9,1549.7 1366.4,1543.8 1366.9,1556.3 1367.4,1546.2 1367.9,1549.4 1368.4,1556.2 1368.9,1556.6 1369.4,1564 1369.9,1557 1370.4,1563.4 1370.9,1557.2 1371.4,1556.6 1371.9,1551.7 1372.4,1549 1372.9,1528 1373.4,1540.2 1373.9,1541.3 1374.4,1534.2 1374.9,1551 1375.4,1533.6 1375.9,1534.1 1376.4,1539.1 1376.9,1534.5 1377.4,1547.2 1377.9,1552.6 1378.4,1553.7 1378.9,1557.7 1379.4,1548.7 1379.9,1548 1380.4,1548.2 1380.9,1521.8 1381.4,1503.1 1381.9,1507.2 1382.4,1516.8 1382.9,1469.1 1383.4,1504.6 1383.9,1524 1384.4,1537.1 1384.9,1513.9 1385.4,1548.2 1385.9,1534 1386.4,1550.9 1386.9,1550.4 1387.4,1558.3 1387.9,1556.5 1388.4,1548.2 1388.9,1527.3 1389.4,1559.8 1389.9,1554.5 1390.4,1551.7 1390.9,1554.8 1391.4,1553.7 1391.9,1560.8 1392.4,1554.1 1392.9,1549.1 1393.4,1548.7 1393.9,1557.9 1394.4,1553.1 1394.9,1558.8 1395.4,1550 1395.9,1561.6 1396.4,1554.1 1396.9,1563.2 1397.4,1554.1 1397.9,1559.3 1398.4,1563.5 1398.9,1563.1 1399.4,1565.8 1399.9,1564.1 1400.4,1558 1400.9,1557.2 1401.4,1559.8 1401.9,1544.7 1402.4,1550.5 1402.9,1540.4 1403.4,1551.7 1403.9,1550 1404.4,1527.5 1404.9,1524.7 1405.4,1519.7 1405.9,1545.2 1406.4,1539.3 1406.9,1547.4 1407.4,1542.5 1407.9,1541.4 1408.4,1541.6 1408.9,1533.1 1409.4,1554.2 1409.9,1528.9 1410.4,1494.2 1410.9,1552.2 1411.4,1552 1411.9,1542.5 1412.4,1558.8 1412.9,1557.2 1413.4,1546.7 1413.9,1555.5 1414.4,1548.3 1414.9,1553.1 1415.4,1545.3 1415.9,1545.2 1416.4,1543.5 1416.9,1540.1 1417.4,1538.8 1417.9,1556.2 1418.4,1555.3 1418.9,1543.4 1419.4,1551.3 1419.9,1558 1420.4,1546.3 1420.9,1547.7 1421.4,1551.6 1421.9,1556.7 1422.4,1553.7 1422.9,1542.8 1423.4,1552.4 1423.9,1556.5 1424.4,1541.8 1424.9,1544.7 1425.4,1536.9 1425.9,1535.4 1426.4,1522.3 1426.9,1542.2 1427.4,1545 1427.9,1546.4 1428.4,1554.3 1428.9,1547.2 1429.4,1537 1429.9,1554.7 1430.4,1549 1430.9,1556.6 1431.4,1556.6 1431.9,1557.2 1432.4,1553.4 1432.9,1556.5 1433.4,1543.3 1433.9,1552.4 1434.4,1558.3 1434.9,1551.6 1435.4,1515.2 1435.9,1549.3 1436.4,1554.5 1436.9,1541.3 1437.4,1557.1 1437.9,1544.2 1438.4,1557.7 1438.9,1556.4 1439.4,1558.9 1439.9,1564.1 1440.4,1565 1440.9,1560.1 1441.4,1566.8 1441.9,1560.4 1442.4,1560.8 1442.9,1560.2 1443.4,1558.6 1443.9,1544.3 1444.4,1565.6 1444.9,1565 1445.4,1557.8 1445.9,1564.7 1446.4,1561.6 1446.9,1563.9 1447.4,1556.9 1447.9,1556.2 1448.4,1563.4 1448.9,1559.4 1449.4,1548.1 1449.9,1532.3 1450.4,1543.5 1450.9,1531.8 1451.4,1479.2 1451.9,1518.5 1452.4,1486.7 1452.9,1444.7 1453.4,1485.9 1453.9,1506.8 1454.4,1526.4 1454.9,1514.7 1455.4,1495.8 1455.9,1531.3 1456.4,1523.4 1456.9,1533.5 1457.4,1540.3 1457.9,1532.4 1458.4,1520.6 1458.9,1534.3 1459.4,1526.4 1459.9,1552.1 1460.4,1548 1460.9,1539.6 1461.4,1539.1 1461.9,1561.4 1462.4,1553.8 1462.9,1553.8 1463.4,1558.3 1463.9,1562.4 1464.4,1561.7 1464.9,1552.4 1465.4,1547.1 1465.9,1552.3 1466.4,1540.3 L1466.4,1576.6 L1466.4,1612.9 1465.9,1600.9 1465.4,1606.1 1464.9,1600.8 1464.4,1591.5 1463.9,1590.8 1463.4,1594.9 1462.9,1599.4 1462.4,1599.4 1461.9,1591.8 1461.4,1614.1 1460.9,1613.6 1460.4,1605.2 1459.9,1601.1 1459.4,1626.8 1458.9,1618.9 1458.4,1632.6 1457.9,1620.8 1457.4,1612.9 1456.9,1619.7 1456.4,1629.8 1455.9,1621.9 1455.4,1657.4 1454.9,1638.5 1454.4,1626.8 1453.9,1646.4 1453.4,1667.3 1452.9,1708.5 1452.4,1666.5 1451.9,1634.7 1451.4,1674 1450.9,1621.4 1450.4,1609.7 1449.9,1620.9 1449.4,1605.1 1448.9,1593.8 1448.4,1589.8 1447.9,1597 1447.4,1596.3 1446.9,1589.3 1446.4,1591.6 1445.9,1588.5 1445.4,1595.4 1444.9,1588.2 1444.4,1587.6 1443.9,1608.9 1443.4,1594.6 1442.9,1593 1442.4,1592.4 1441.9,1592.8 1441.4,1586.4 1440.9,1593.1 1440.4,1588.2 1439.9,1589.1 1439.4,1594.3 1438.9,1596.8 1438.4,1595.5 1437.9,1609 1437.4,1596.1 1436.9,1611.9 1436.4,1598.7 1435.9,1603.9 1435.4,1638 1434.9,1601.6 1434.4,1594.9 1433.9,1600.8 1433.4,1609.9 1432.9,1596.7 1432.4,1599.8 1431.9,1596 1431.4,1596.6 1430.9,1596.6 1430.4,1604.2 1429.9,1598.5 1429.4,1616.2 1428.9,1606 1428.4,1598.9 1427.9,1606.8 1427.4,1608.2 1426.9,1611 1426.4,1630.9 1425.9,1617.8 1425.4,1616.3 1424.9,1608.5 1424.4,1611.4 1423.9,1596.7 1423.4,1600.8 1422.9,1610.4 1422.4,1599.5 1421.9,1596.5 1421.4,1601.6 1420.9,1605.5 1420.4,1606.9 1419.9,1595.2 1419.4,1601.9 1418.9,1609.8 1418.4,1597.9 1417.9,1597 1417.4,1614.4 1416.9,1613.1 1416.4,1609.7 1415.9,1608 1415.4,1607.9 1414.9,1600.1 1414.4,1604.9 1413.9,1597.7 1413.4,1606.5 1412.9,1596 1412.4,1594.4 1411.9,1610.7 1411.4,1601.2 1410.9,1601 1410.4,1659 1409.9,1624.3 1409.4,1599 1408.9,1620.1 1408.4,1611.6 1407.9,1611.8 1407.4,1610.7 1406.9,1605.8 1406.4,1613.9 1405.9,1608 1405.4,1633.5 1404.9,1628.5 1404.4,1625.7 1403.9,1603.2 1403.4,1601.5 1402.9,1612.8 1402.4,1602.7 1401.9,1608.5 1401.4,1593.4 1400.9,1596 1400.4,1595.2 1399.9,1589.1 1399.4,1587.4 1398.9,1590.1 1398.4,1589.7 1397.9,1593.9 1397.4,1599.1 1396.9,1590 1396.4,1599.1 1395.9,1591.6 1395.4,1603.2 1394.9,1594.4 1394.4,1600.1 1393.9,1595.3 1393.4,1604.5 1392.9,1604.1 1392.4,1599.1 1391.9,1592.4 1391.4,1599.5 1390.9,1598.4 1390.4,1601.5 1389.9,1598.7 1389.4,1593.4 1388.9,1625.9 1388.4,1605 1387.9,1596.7 1387.4,1594.9 1386.9,1602.8 1386.4,1602.3 1385.9,1619.2 1385.4,1605 1384.9,1639.3 1384.4,1616.1 1383.9,1629.2 1383.4,1648.6 1382.9,1684.1 1382.4,1636.4 1381.9,1646 1381.4,1650.1 1380.9,1631.4 1380.4,1605 1379.9,1605.2 1379.4,1604.5 1378.9,1595.5 1378.4,1599.5 1377.9,1600.6 1377.4,1606 1376.9,1618.7 1376.4,1614.1 1375.9,1619.1 1375.4,1619.6 1374.9,1602.2 1374.4,1619 1373.9,1611.9 1373.4,1613 1372.9,1625.2 1372.4,1604.2 1371.9,1601.5 1371.4,1596.6 1370.9,1596 1370.4,1589.8 1369.9,1596.2 1369.4,1589.2 1368.9,1596.6 1368.4,1597 1367.9,1603.8 1367.4,1607 1366.9,1596.9 1366.4,1609.4 1365.9,1603.5 1365.4,1598 1364.9,1645 1364.4,1596.2 1363.9,1609.9 1363.4,1602.3 1362.9,1594.5 1362.4,1596.2 1361.9,1603.2 1361.4,1634.7 1360.9,1640.1 1360.4,1628.7 1359.9,1643.8 1359.4,1708.5 1358.9,1692.7 1358.4,1650.4 1357.9,1635.9 1357.4,1632.7 1356.9,1612.9 1356.4,1615 1355.9,1631.6 1355.4,1612.2 1354.9,1608.8 1354.4,1595.7 1353.9,1591.7 1353.4,1598.1 1352.9,1591.5 1352.4,1590.2 1351.9,1581.2 1351.4,1582.7 1350.9,1582.6 1350.4,1581.3 1349.9,1583.1 1349.4,1582.8 1348.9,1585.3 1348.4,1588.6 1347.9,1592.8 1347.4,1600.6 1346.9,1591 1346.4,1598 1345.9,1596.9 1345.4,1610.4 1344.9,1611.8 1344.4,1615.1 1343.9,1615.2 1343.4,1620.7 1342.9,1630.9 1342.4,1619.3 1341.9,1632.1 1341.4,1687.1 1340.9,1635.9 1340.4,1630.7 1339.9,1621.2 1339.4,1617.3 1338.9,1607.7 1338.4,1610.3 1337.9,1604.3 1337.4,1601.9 1336.9,1610 1336.4,1612.5 1335.9,1602.1 1335.4,1605.7 1334.9,1594.5 1334.4,1595.1 1333.9,1620.3 1333.4,1597.1 1332.9,1603.3 1332.4,1608.4 1331.9,1605.6 1331.4,1610 1330.9,1596.6 1330.4,1601.2 1329.9,1602.2 1329.4,1600.7 1328.9,1600.7 1328.4,1615.7 1327.9,1612.9 1327.4,1601.6 1326.9,1615.7 1326.4,1641 1325.9,1619.5 1325.4,1613.5 1324.9,1601.4 1324.4,1614 1323.9,1610.2 1323.4,1603.3 1322.9,1627.9 1322.4,1621.4 1321.9,1619.8 1321.4,1602.5 1320.9,1614.4 1320.4,1611.6 1319.9,1603.8 1319.4,1600.2 1318.9,1599.2 1318.4,1602.3 1317.9,1602.5 1317.4,1596.7 1316.9,1606.9 1316.4,1627.1 1315.9,1627.5 1315.4,1637.2 1314.9,1625.4 1314.4,1660.6 1313.9,1634.6 1313.4,1648.2 1312.9,1685.1 1312.4,1647.3 1311.9,1642.4 1311.4,1646.6 1310.9,1643.6 1310.4,1612.1 1309.9,1619.6 1309.4,1604.6 1308.9,1624.2 1308.4,1620 1307.9,1622.2 1307.4,1623.9 1306.9,1603.4 1306.4,1621.7 1305.9,1603 1305.4,1606.3 1304.9,1614.1 1304.4,1606.5 1303.9,1618.6 1303.4,1617.7 1302.9,1624.4 1302.4,1636 1301.9,1617.4 1301.4,1605.2 1300.9,1602.1 1300.4,1600.6 1299.9,1591.7 1299.4,1588.6 1298.9,1587.6 1298.4,1591.1 1297.9,1599.9 1297.4,1588.5 1296.9,1597.1 1296.4,1605.8 1295.9,1604.9 1295.4,1610.6 1294.9,1609.7 1294.4,1616.1 1293.9,1611.6 1293.4,1611.6 1292.9,1619.4 1292.4,1639.8 1291.9,1681.1 1291.4,1661.3 1290.9,1632.6 1290.4,1620.5 1289.9,1621.6 1289.4,1618.7 1288.9,1637.1 1288.4,1614 1287.9,1649 1287.4,1631.5 1286.9,1606.3 1286.4,1618.6 1285.9,1598.3 1285.4,1597.6 1284.9,1599.4 1284.4,1597.3 1283.9,1606.8 1283.4,1597.5 1282.9,1607.3 1282.4,1600.3 1281.9,1602.7 1281.4,1607 1280.9,1602.5 1280.4,1603.9 1279.9,1595.5 1279.4,1606.1 1278.9,1601.6 1278.4,1637 1277.9,1598.9 1277.4,1600.8 1276.9,1588.9 1276.4,1581.8 1275.9,1585.5 1275.4,1582.1 1274.9,1588.2 1274.4,1586.1 1273.9,1590.9 1273.4,1592.9 1272.9,1621.2 1272.4,1620.8 1271.9,1604.4 1271.4,1611.2 1270.9,1624.4 1270.4,1639 1269.9,1616.2 1269.4,1606.7 1268.9,1605.6 1268.4,1625 1267.9,1606.2 1267.4,1623.5 1266.9,1611.3 1266.4,1619.5 1265.9,1604.9 1265.4,1651 1264.9,1604.5 1264.4,1625.8 1263.9,1613.4 1263.4,1606.1 1262.9,1619.7 1262.4,1611.8 1261.9,1614.1 1261.4,1607.9 1260.9,1640.4 1260.4,1619.4 1259.9,1659.6 1259.4,1630.4 1258.9,1611.4 1258.4,1631.4 1257.9,1608.7 1257.4,1632.4 1256.9,1629.5 1256.4,1622.1 1255.9,1604.9 1255.4,1598.8 1254.9,1607.4 1254.4,1592.9 1253.9,1601.3 1253.4,1609.2 1252.9,1627.5 1252.4,1606.4 1251.9,1620.1 1251.4,1607.5 1250.9,1622 1250.4,1621.5 1249.9,1636.8 1249.4,1685.1 1248.9,1635.7 1248.4,1621.7 1247.9,1598.2 1247.4,1652.4 1246.9,1613.1 1246.4,1598.2 1245.9,1616.5 1245.4,1618.6 1244.9,1661 1244.4,1623.7 1243.9,1603.4 1243.4,1615.7 1242.9,1620.2 1242.4,1605.6 1241.9,1592.1 1241.4,1587.5 1240.9,1589.8 1240.4,1599.7 1239.9,1610.9 1239.4,1600.1 1238.9,1594.7 1238.4,1611.2 1237.9,1601.4 1237.4,1611.6 1236.9,1599.7 1236.4,1612.7 1235.9,1644 1235.4,1618.1 1234.9,1611.8 1234.4,1601.8 1233.9,1609.9 1233.4,1603.4 1232.9,1598.9 1232.4,1631.4 1231.9,1611.1 1231.4,1617.9 1230.9,1631.4 1230.4,1646.9 1229.9,1658.5 1229.4,1649.4 1228.9,1708.1 1228.4,1679.9 1227.9,1642.7 1227.4,1629.9 1226.9,1666.3 1226.4,1618.7 1225.9,1627.1 1225.4,1607.9 1224.9,1604.3 1224.4,1619.9 1223.9,1624.1 1223.4,1616 1222.9,1627.6 1222.4,1604 1221.9,1638 1221.4,1601.1 1220.9,1603.9 1220.4,1618.1 1219.9,1607.5 1219.4,1671 1218.9,1605.5 1218.4,1607.7 1217.9,1614.2 1217.4,1605.6 1216.9,1616.4 1216.4,1604.5 1215.9,1605.1 1215.4,1607.4 1214.9,1637 1214.4,1619.6 1213.9,1628.5 1213.4,1616.8 1212.9,1608.9 1212.4,1614 1211.9,1614.1 1211.4,1616.9 1210.9,1605.4 1210.4,1597.4 1209.9,1604.1 1209.4,1612.9 1208.9,1605.5 1208.4,1604.4 1207.9,1605.3 1207.4,1598.1 1206.9,1603.2 1206.4,1610.3 1205.9,1646 1205.4,1601.9 1204.9,1607.8 1204.4,1612 1203.9,1628.7 1203.4,1613.1 1202.9,1605.6 1202.4,1619.3 1201.9,1609 1201.4,1605.3 1200.9,1604.3 1200.4,1620.7 1199.9,1602.3 1199.4,1604.6 1198.9,1616 1198.4,1610 1197.9,1600.4 1197.4,1598.8 1196.9,1610.4 1196.4,1630.9 1195.9,1599 1195.4,1661 1194.9,1609.5 1194.4,1606.8 1193.9,1605.9 1193.4,1601.9 1192.9,1600.9 1192.4,1601.2 1191.9,1617.5 1191.4,1607.5 1190.9,1644 1190.4,1625.9 1189.9,1619.6 1189.4,1618.2 1188.9,1612 1188.4,1650 1187.9,1619.9 1187.4,1615.8 1186.9,1618.7 1186.4,1619.6 1185.9,1634.3 1185.4,1626 1184.9,1610.6 1184.4,1604.7 1183.9,1647 1183.4,1616.7 1182.9,1599.2 1182.4,1608.8 1181.9,1604.8 1181.4,1611.5 1180.9,1614.1 1180.4,1643.7 1179.9,1599.2 1179.4,1598.5 1178.9,1624.9 1178.4,1609.8 1177.9,1617.2 1177.4,1619.4 1176.9,1623.9 1176.4,1662.8 1175.9,1620.1 1175.4,1648.2 1174.9,1648 1174.4,1701.1 1173.9,1681 1173.4,1657 1172.9,1692.1 1172.4,1633.8 1171.9,1633.4 1171.4,1604.8 1170.9,1620 1170.4,1606.6 1169.9,1627.5 1169.4,1607.4 1168.9,1596.4 1168.4,1593.1 1167.9,1602.1 1167.4,1624.9 1166.9,1617.4 1166.4,1626.2 1165.9,1646 1165.4,1616.6 1164.9,1610 1164.4,1605.9 1163.9,1601.8 1163.4,1604.8 1162.9,1601.6 1162.4,1607.5 1161.9,1606.9 1161.4,1606.2 1160.9,1604.2 1160.4,1600.3 1159.9,1604.6 1159.4,1593.3 1158.9,1599.5 1158.4,1598.3 1157.9,1606 1157.4,1616.2 1156.9,1614.4 1156.4,1626.9 1155.9,1603 1155.4,1602.2 1154.9,1601.8 1154.4,1598.4 1153.9,1609.8 1153.4,1607.8 1152.9,1601.8 1152.4,1596.9 1151.9,1603 1151.4,1596.8 1150.9,1597.8 1150.4,1598.6 1149.9,1590 1149.4,1590 1148.9,1586 1148.4,1584.7 1147.9,1583.6 1147.4,1585.7 1146.9,1586 1146.4,1588.4 1145.9,1585.5 1145.4,1587.2 1144.9,1588.4 1144.4,1586.7 1143.9,1593.2 1143.4,1586.4 1142.9,1590.2 1142.4,1588.1 1141.9,1588.3 1141.4,1591 1140.9,1587.4 1140.4,1595.2 1139.9,1598.6 1139.4,1590.9 1138.9,1607 1138.4,1596.5 1137.9,1603.5 1137.4,1600.4 1136.9,1612.7 1136.4,1620.1 1135.9,1624.8 1135.4,1643 1134.9,1626.4 1134.4,1619.4 1133.9,1605.5 1133.4,1662 1132.9,1630.1 1132.4,1606.9 1131.9,1609.1 1131.4,1607.2 1130.9,1624.9 1130.4,1611 1129.9,1616.3 1129.4,1621.1 1128.9,1627.1 1128.4,1615.7 1127.9,1617.9 1127.4,1620 1126.9,1601.5 1126.4,1602.7 1125.9,1613.2 1125.4,1605.3 1124.9,1602.4 1124.4,1638 1123.9,1609.9 1123.4,1603 1122.9,1599.7 1122.4,1601.2 1121.9,1606.2 1121.4,1600.9 1120.9,1636.4 1120.4,1637 1119.9,1613.3 1119.4,1606.3 1118.9,1625.7 1118.4,1605.6 1117.9,1616.4 1117.4,1608.3 1116.9,1619.4 1116.4,1606.9 1115.9,1606.5 1115.4,1602.2 1114.9,1618.1 1114.4,1619.4 1113.9,1612.4 1113.4,1611 1112.9,1599.3 1112.4,1598.5 1111.9,1622 1111.4,1612.2 1110.9,1675.1 1110.4,1611.4 1109.9,1613.3 1109.4,1609.7 1108.9,1608.9 1108.4,1615.8 1107.9,1612.3 1107.4,1583.6 1106.9,1587 1106.4,1584.1 1105.9,1596.2 1105.4,1621.2 1104.9,1610.4 1104.4,1682.1 1103.9,1607.8 1103.4,1620.6 1102.9,1607.4 1102.4,1671 1101.9,1620.9 1101.4,1622.6 1100.9,1628.4 1100.4,1669 1099.9,1616.5 1099.4,1644.8 1098.9,1624 1098.4,1622.5 1097.9,1676.1 1097.4,1604 1096.9,1660.6 1096.4,1627.9 1095.9,1621.6 1095.4,1654 1094.9,1624.2 1094.4,1612.3 1093.9,1615.7 1093.4,1611.8 1092.9,1634.4 1092.4,1612.4 1091.9,1629.8 1091.4,1646 1090.9,1621.3 1090.4,1621.7 1089.9,1602 1089.4,1599.9 1088.9,1614.6 1088.4,1626.6 1087.9,1606.2 1087.4,1637.7 1086.9,1613.9 1086.4,1642.1 1085.9,1624.4 1085.4,1621.5 1084.9,1645.5 1084.4,1665.1 1083.9,1665.2 1083.4,1656.2 1082.9,1677.7 1082.4,1707.1 1081.9,1663.4 1081.4,1648.6 1080.9,1629.7 1080.4,1631 1079.9,1640.9 1079.4,1613.1 1078.9,1628.1 1078.4,1626.5 1077.9,1625.4 1077.4,1628.4 1076.9,1603.3 1076.4,1609.4 1075.9,1590.6 1075.4,1585.7 1074.9,1584.1 1074.4,1586.8 1073.9,1585.1 1073.4,1589.6 1072.9,1599 1072.4,1606.1 1071.9,1606 1071.4,1629.4 1070.9,1608.1 1070.4,1610.6 1069.9,1613.8 1069.4,1607.8 1068.9,1620.5 1068.4,1605.2 1067.9,1601.5 1067.4,1631.9 1066.9,1612.7 1066.4,1613.6 1065.9,1605.6 1065.4,1642 1064.9,1614.9 1064.4,1613.6 1063.9,1599.5 1063.4,1631.9 1062.9,1613.3 1062.4,1602.1 1061.9,1600.3 1061.4,1599.3 1060.9,1609.4 1060.4,1596.1 1059.9,1603.1 1059.4,1604 1058.9,1602.9 1058.4,1617.6 1057.9,1597.7 1057.4,1598.1 1056.9,1615.1 1056.4,1664 1055.9,1613 1055.4,1598 1054.9,1605.4 1054.4,1616.2 1053.9,1606.4 1053.4,1604.4 1052.9,1599.4 1052.4,1599.9 1051.9,1606 1051.4,1601 1050.9,1593.3 1050.4,1635 1049.9,1603.5 1049.4,1602.5 1048.9,1604.7 1048.4,1603.1 1047.9,1603.3 1047.4,1592.9 1046.9,1594.7 1046.4,1611.8 1045.9,1598.1 1045.4,1605.9 1044.9,1605.5 1044.4,1609.4 1043.9,1612.9 1043.4,1599.1 1042.9,1611.5 1042.4,1604.4 1041.9,1610.9 1041.4,1615.5 1040.9,1605.2 1040.4,1614.4 1039.9,1599.4 1039.4,1657 1038.9,1599.2 1038.4,1609.5 1037.9,1604.1 1037.4,1608.5 1036.9,1592.5 1036.4,1599.4 1035.9,1599.7 1035.4,1603.6 1034.9,1601 1034.4,1596.5 1033.9,1606.7 1033.4,1590.1 1032.9,1589.5 1032.4,1587 1031.9,1587.1 1031.4,1590.4 1030.9,1588.3 1030.4,1596.6 1029.9,1595.7 1029.4,1614.9 1028.9,1600.9 1028.4,1599.7 1027.9,1594.5 1027.4,1598.3 1026.9,1614.8 1026.4,1614.5 1025.9,1597.8 1025.4,1606.1 1024.9,1608.1 1024.4,1607.1 1023.9,1608.4 1023.4,1613.8 1022.9,1596.1 1022.4,1594.9 1021.9,1601.1 1021.4,1619.3 1020.9,1611.6 1020.4,1608.2 1019.9,1602.6 1019.4,1607.2 1018.9,1621 1018.4,1628.4 1017.9,1630.3 1017.4,1614.2 1016.9,1619.3 1016.4,1643 1015.9,1612.9 1015.4,1605.7 1014.9,1606.4 1014.4,1586 1013.9,1586.3 1013.4,1590 1012.9,1592.5 1012.4,1611.2 1011.9,1614.5 1011.4,1605.7 1010.9,1599.9 1010.4,1608 1009.9,1606.6 1009.4,1611.1 1008.9,1613.8 1008.4,1657 1007.9,1617.9 1007.4,1601.8 1006.9,1614.9 1006.4,1609.2 1005.9,1597.8 1005.4,1598.6 1004.9,1596.7 1004.4,1598.3 1003.9,1597.8 1003.4,1613 1002.9,1623.8 1002.4,1600.8 1001.9,1623.1 1001.4,1600.8 1000.9,1598 1000.4,1619.6 999.9,1616 999.4,1642 998.9,1614.5 998.4,1620.4 997.9,1615.1 997.4,1607.5 996.9,1602.8 996.4,1622.4 995.9,1602.9 995.4,1604.4 994.9,1603.3 994.4,1597.9 993.9,1596.1 993.4,1595.3 992.9,1604.7 992.4,1606.2 991.9,1611.6 991.4,1614.6 990.9,1600.6 990.4,1611.2 989.9,1622 989.4,1629.9 988.9,1599.7 988.4,1609.5 987.9,1600.3 987.4,1638 986.9,1621.4 986.4,1603.8 985.9,1614.9 985.4,1623.9 984.9,1641 984.4,1610 983.9,1599.1 983.4,1595.9 982.9,1586.8 982.4,1590.2 981.9,1584.9 981.4,1584.9 980.9,1588.3 980.4,1595.3 979.9,1587.7 979.4,1589.5 978.9,1588 978.4,1592.3 977.9,1590.2 977.4,1594 976.9,1590.1 976.4,1595.1 975.9,1601.1 975.4,1602.9 974.9,1599.9 974.4,1597.2 973.9,1610.5 973.4,1595.2 972.9,1614.3 972.4,1632.9 971.9,1604.9 971.4,1608.1 970.9,1625.3 970.4,1625.8 969.9,1636 969.4,1617.4 968.9,1623.5 968.4,1623.4 967.9,1645.1 967.4,1621.1 966.9,1622.6 966.4,1660 965.9,1621.6 965.4,1620.5 964.9,1622.6 964.4,1708.5 963.9,1662.6 963.4,1670.9 962.9,1639.3 962.4,1694.1 961.9,1610 961.4,1615.3 960.9,1603.5 960.4,1606.4 959.9,1596.1 959.4,1590.7 958.9,1590.8 958.4,1592.8 957.9,1589.7 957.4,1591 956.9,1590 956.4,1588.2 955.9,1588.2 955.4,1614.9 954.9,1590.3 954.4,1586.7 953.9,1585.3 953.4,1585 952.9,1588.5 952.4,1590 951.9,1592.8 951.4,1591.7 950.9,1606.9 950.4,1587.6 949.9,1587.4 949.4,1594.1 948.9,1593 948.4,1587.9 947.9,1590.3 947.4,1591.4 946.9,1607.6 946.4,1605 945.9,1597.2 945.4,1605.9 944.9,1613.6 944.4,1604.5 943.9,1619.9 943.4,1610.5 942.9,1639.9 942.4,1649 941.9,1599.4 941.4,1605.4 940.9,1612.8 940.4,1607.1 939.9,1606.8 939.4,1613.4 938.9,1627.7 938.4,1674.1 937.9,1611.3 937.4,1611 936.9,1606.9 936.4,1609.3 935.9,1631.6 935.4,1618.7 934.9,1613.7 934.4,1619.1 933.9,1610.9 933.4,1613.2 932.9,1616.9 932.4,1623.3 931.9,1648 931.4,1623.6 930.9,1618.2 930.4,1611.6 929.9,1616.2 929.4,1608 928.9,1584.5 928.4,1589.9 927.9,1585.6 927.4,1622.9 926.9,1585.5 926.4,1587.1 925.9,1584.1 925.4,1625.9 924.9,1596.4 924.4,1585.7 923.9,1593.2 923.4,1595.6 922.9,1596.7 922.4,1593.5 921.9,1612.1 921.4,1621.4 920.9,1621.9 920.4,1646.7 919.9,1653.2 919.4,1640 918.9,1649.4 918.4,1700.1 917.9,1649.1 917.4,1638 Z" fill="#1f77b4" stroke="#1f77b4" stroke-width="0.9" stroke-linejoin="bevel"/>
<path d="M890.4,1445.0h-3.4M890.4,1477.9h-3.4M890.4,1510.8h-3.4M890.4,1543.7h-3.4M890.4,1576.6h-3.4M890.4,1609.5h-3.4M890.4,1642.4h-3.4M890.4,1675.3h-3.4M890.4,1708.2h-3.4M917.4,1721.1v3.4M1054.7,1721.1v3.4M1191.9,1721.1v3.4M1329.2,1721.1v3.4M1466.4,1721.1v3.4" stroke="#444" stroke-width="0.8" fill="none"/>
<g shape-rendering="crispEdges"><rect x="890" y="1431" width="604" height="1" fill="#999"/><rect x="890" y="1721" width="604" height="1" fill="#111"/><rect x="890" y="1431" width="1" height="291" fill="#666"/><rect x="1493" y="1431" width="1" height="291" fill="#000"/></g>
<g class="tk" text-anchor="end">
<text x="884.5" y="1452.9">1.00</text>
<text x="884.5" y="1485.8">0.75</text>
<text x="884.5" y="1518.7">0.50</text>
<text x="884.5" y="1551.6">0.25</text>
<text x="884.5" y="1584.5">0.00</text>
<text x="884.5" y="1617.4">−0.25</text>
<text x="884.5" y="1650.3">−0.50</text>
<text x="884.5" y="1683.2">−0.75</text>
<text x="884.5" y="1716.1">−1.00</text>
</g>
<g class="tk" text-anchor="middle">
<text x="917.4" y="1743.9">0</text>
<text x="1054.7" y="1743.9">5</text>
<text x="1191.9" y="1743.9">10</text>
<text x="1329.2" y="1743.9">15</text>
<text x="1466.4" y="1743.9">20</text>
</g>
<text class="lb" text-anchor="middle" x="1192.0" y="1770.9">Time (sec)</text>
<text class="lb" text-anchor="middle" transform="translate(809.2,1577.9) rotate(-90)">Amplitude (dB)</text>
</g>
<text class="cp" x="255.8" y="416.6" textLength="46.2" lengthAdjust="spacingAndGlyphs">(a)</text>
<text class="cp" x="319.6" y="416.6" textLength="133.6" lengthAdjust="spacingAndGlyphs">Healthy</text>
<text class="cp" x="1053.0" y="416.6" textLength="48.6" lengthAdjust="spacingAndGlyphs">(b)</text>
<text class="cp" x="1119.4" y="416.6" textLength="113.5" lengthAdjust="spacingAndGlyphs">COPD</text>
<text class="cp" x="202.2" y="892.9" textLength="43.3" lengthAdjust="spacingAndGlyphs">(c)</text>
<text class="cp" x="263.1" y="892.9" textLength="244.7" lengthAdjust="spacingAndGlyphs">Bronchiectasis</text>
<text class="cp" x="1002.0" y="892.9" textLength="49.6" lengthAdjust="spacingAndGlyphs">(d)</text>
<text class="cp" x="1069.0" y="892.9" textLength="215.6" lengthAdjust="spacingAndGlyphs">Bronchiolitis</text>
<text class="cp" x="275.7" y="1369.4" textLength="44.3" lengthAdjust="spacingAndGlyphs">(e)</text>
<text class="cp" x="338.6" y="1369.4" textLength="95.4" lengthAdjust="spacingAndGlyphs">URTI</text>
<text class="cp" x="1017.9" y="1369.4" textLength="42.1" lengthAdjust="spacingAndGlyphs">(f)</text>
<text class="cp" x="1076.9" y="1369.4" textLength="193.0" lengthAdjust="spacingAndGlyphs">Pneumonia</text>
<text class="cp" x="277.3" y="1846.0" textLength="46.4" lengthAdjust="spacingAndGlyphs">(g)</text>
<text class="cp" x="340.8" y="1846.0" textLength="91.6" lengthAdjust="spacingAndGlyphs">LRTI</text>
<text class="cp" x="1043.7" y="1846.0" textLength="48.7" lengthAdjust="spacingAndGlyphs">(h)</text>
<text class="cp" x="1109.9" y="1846.0" textLength="134.0" lengthAdjust="spacingAndGlyphs">Asthma</text>
</svg></body></html>
